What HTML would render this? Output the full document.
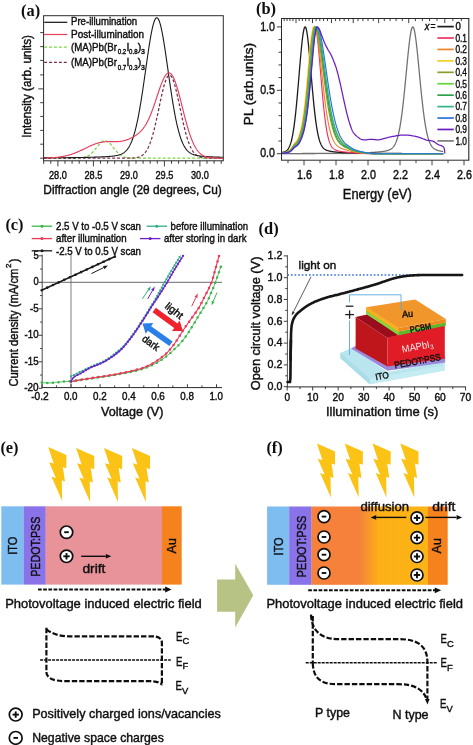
<!DOCTYPE html>
<html lang="en">
<head>
<meta charset="utf-8">
<title>Figure</title>
<style>
html,body{margin:0;padding:0;background:#fff;}
body{width:473px;height:745px;overflow:hidden;}
svg{display:block;font-family:"Liberation Sans", sans-serif;}
svg text{stroke:#111;stroke-width:0.42px;}
svg text.w{stroke:none;}
</style>
</head>
<body>
<svg width="473" height="745" viewBox="0 0 473 745">
<defs>
<linearGradient id="gf" x1="0" y1="0" x2="1" y2="0">
<stop offset="0" stop-color="#f5813a"/>
<stop offset="0.41" stop-color="#f5813a"/>
<stop offset="0.58" stop-color="#fcb017"/>
<stop offset="1" stop-color="#fdb414"/>
</linearGradient>
<filter id="soft" x="-5%" y="-5%" width="110%" height="110%"><feGaussianBlur stdDeviation="0.5"/></filter>
<filter id="soft2" x="-5%" y="-5%" width="110%" height="110%"><feGaussianBlur stdDeviation="0.28"/></filter>
</defs>
<rect x="0" y="0" width="473" height="745" fill="#ffffff"/>
<g fill="#111">
<g filter="url(#soft)">
<g id="pa">
<clipPath id="clipa"><rect x="43.6" y="15.7" width="179.70000000000002" height="145.10000000000002"/></clipPath>
<g clip-path="url(#clipa)">
<path d="M43.60 158.20 L44.10 158.20 L44.60 158.20 L45.10 158.20 L45.60 158.20 L46.10 158.20 L46.60 158.20 L47.10 158.20 L47.60 158.20 L48.10 158.20 L48.60 158.20 L49.10 158.20 L49.60 158.20 L50.10 158.20 L50.60 158.20 L51.10 158.20 L51.60 158.20 L52.10 158.20 L52.60 158.20 L53.10 158.20 L53.60 158.20 L54.10 158.20 L54.60 158.20 L55.10 158.20 L55.60 158.20 L56.10 158.20 L56.60 158.20 L57.10 158.20 L57.60 158.20 L58.10 158.20 L58.60 158.20 L59.10 158.20 L59.60 158.20 L60.10 158.20 L60.60 158.20 L61.10 158.20 L61.60 158.20 L62.10 158.20 L62.60 158.20 L63.10 158.20 L63.60 158.20 L64.10 158.20 L64.60 158.20 L65.10 158.20 L65.60 158.20 L66.10 158.20 L66.60 158.20 L67.10 158.20 L67.60 158.20 L68.10 158.20 L68.60 158.20 L69.10 158.20 L69.60 158.20 L70.10 158.20 L70.60 158.20 L71.10 158.19 L71.60 158.19 L72.10 158.19 L72.60 158.19 L73.10 158.19 L73.60 158.18 L74.10 158.18 L74.60 158.17 L75.10 158.17 L75.60 158.16 L76.10 158.15 L76.60 158.14 L77.10 158.13 L77.60 158.11 L78.10 158.10 L78.60 158.07 L79.10 158.05 L79.60 158.02 L80.10 157.98 L80.60 157.94 L81.10 157.89 L81.60 157.84 L82.10 157.77 L82.60 157.70 L83.10 157.62 L83.60 157.52 L84.10 157.41 L84.60 157.28 L85.10 157.14 L85.60 156.98 L86.10 156.81 L86.60 156.61 L87.10 156.39 L87.60 156.15 L88.10 155.89 L88.60 155.60 L89.10 155.28 L89.60 154.94 L90.10 154.57 L90.60 154.17 L91.10 153.75 L91.60 153.30 L92.10 152.82 L92.60 152.31 L93.10 151.78 L93.60 151.23 L94.10 150.66 L94.60 150.07 L95.10 149.46 L95.60 148.84 L96.10 148.22 L96.60 147.59 L97.10 146.95 L97.60 146.33 L98.10 145.71 L98.60 145.11 L99.10 144.53 L99.60 143.97 L100.10 143.44 L100.60 142.94 L101.10 142.49 L101.60 142.08 L102.10 141.71 L102.60 141.40 L103.10 141.14 L103.60 140.94 L104.10 140.80 L104.60 140.72 L105.10 140.70 L105.60 140.74 L106.10 140.85 L106.60 141.01 L107.10 141.24 L107.60 141.52 L108.10 141.85 L108.60 142.24 L109.10 142.67 L109.60 143.14 L110.10 143.65 L110.60 144.19 L111.10 144.76 L111.60 145.35 L112.10 145.96 L112.60 146.58 L113.10 147.21 L113.60 147.84 L114.10 148.47 L114.60 149.09 L115.10 149.71 L115.60 150.31 L116.10 150.89 L116.60 151.46 L117.10 152.00 L117.60 152.52 L118.10 153.01 L118.60 153.48 L119.10 153.92 L119.60 154.34 L120.10 154.72 L120.60 155.08 L121.10 155.41 L121.60 155.72 L122.10 156.00 L122.60 156.25 L123.10 156.48 L123.60 156.69 L124.10 156.88 L124.60 157.05 L125.10 157.20 L125.60 157.33 L126.10 157.45 L126.60 157.56 L127.10 157.65 L127.60 157.73 L128.10 157.80 L128.60 157.86 L129.10 157.91 L129.60 157.96 L130.10 158.00 L130.60 158.03 L131.10 158.06 L131.60 158.08 L132.10 158.10 L132.60 158.12 L133.10 158.13 L133.60 158.15 L134.10 158.16 L134.60 158.16 L135.10 158.17 L135.60 158.18 L136.10 158.18 L136.60 158.19 L137.10 158.19 L137.60 158.19 L138.10 158.19 L138.60 158.19 L139.10 158.20 L139.60 158.20 L140.10 158.20 L140.60 158.20 L141.10 158.20 L141.60 158.20 L142.10 158.20 L142.60 158.20 L143.10 158.20 L143.60 158.20 L144.10 158.20 L144.60 158.20 L145.10 158.20 L145.60 158.20 L146.10 158.20 L146.60 158.20 L147.10 158.20 L147.60 158.20 L148.10 158.20 L148.60 158.20 L149.10 158.20 L149.60 158.20 L150.10 158.20 L150.60 158.20 L151.10 158.20 L151.60 158.20 L152.10 158.20 L152.60 158.20 L153.10 158.20 L153.60 158.20 L154.10 158.20 L154.60 158.20 L155.10 158.20 L155.60 158.20 L156.10 158.20 L156.60 158.20 L157.10 158.20 L157.60 158.20 L158.10 158.20 L158.60 158.20 L159.10 158.20 L159.60 158.20 L160.10 158.20 L160.60 158.20 L161.10 158.20 L161.60 158.20 L162.10 158.20 L162.60 158.20 L163.10 158.20 L163.60 158.20 L164.10 158.20 L164.60 158.20 L165.10 158.20 L165.60 158.20 L166.10 158.20 L166.60 158.20 L167.10 158.20 L167.60 158.20 L168.10 158.20 L168.60 158.20 L169.10 158.20 L169.60 158.20 L170.10 158.20 L170.60 158.20 L171.10 158.20 L171.60 158.20 L172.10 158.20 L172.60 158.20 L173.10 158.20 L173.60 158.20 L174.10 158.20 L174.60 158.20 L175.10 158.20 L175.60 158.20 L176.10 158.20 L176.60 158.20 L177.10 158.20 L177.60 158.20 L178.10 158.20 L178.60 158.20 L179.10 158.20 L179.60 158.20 L180.10 158.20 L180.60 158.20 L181.10 158.20 L181.60 158.20 L182.10 158.20 L182.60 158.20 L183.10 158.20 L183.60 158.20 L184.10 158.20 L184.60 158.20 L185.10 158.20 L185.60 158.20 L186.10 158.20 L186.60 158.20 L187.10 158.20 L187.60 158.20 L188.10 158.20 L188.60 158.20 L189.10 158.20 L189.60 158.20 L190.10 158.20 L190.60 158.20 L191.10 158.20 L191.60 158.20 L192.10 158.20 L192.60 158.20 L193.10 158.20 L193.60 158.20 L194.10 158.20 L194.60 158.20 L195.10 158.20 L195.60 158.20 L196.10 158.20 L196.60 158.20 L197.10 158.20 L197.60 158.20 L198.10 158.20 L198.60 158.20 L199.10 158.20 L199.60 158.20 L200.10 158.20 L200.60 158.20 L201.10 158.20 L201.60 158.20 L202.10 158.20 L202.60 158.20 L203.10 158.20 L203.60 158.20 L204.10 158.20 L204.60 158.20 L205.10 158.20 L205.60 158.20 L206.10 158.20 L206.60 158.20 L207.10 158.20 L207.60 158.20 L208.10 158.20 L208.60 158.20 L209.10 158.20 L209.60 158.20 L210.10 158.20 L210.60 158.20 L211.10 158.20 L211.60 158.20 L212.10 158.20 L212.60 158.20 L213.10 158.20 L213.60 158.20 L214.10 158.20 L214.60 158.20 L215.10 158.20 L215.60 158.20 L216.10 158.20 L216.60 158.20 L217.10 158.20 L217.60 158.20 L218.10 158.20 L218.60 158.20 L219.10 158.20 L219.60 158.20 L220.10 158.20 L220.60 158.20 L221.10 158.20 L221.60 158.20 L222.10 158.20 L222.60 158.20 L223.10 158.20" fill="none" stroke="#7ad63c" stroke-width="1.25" stroke-linejoin="round" stroke-dasharray="2.9 2"/>
<path d="M43.60 158.20 L44.10 158.20 L44.60 158.20 L45.10 158.20 L45.60 158.20 L46.10 158.20 L46.60 158.20 L47.10 158.20 L47.60 158.20 L48.10 158.20 L48.60 158.20 L49.10 158.20 L49.60 158.20 L50.10 158.20 L50.60 158.20 L51.10 158.20 L51.60 158.20 L52.10 158.20 L52.60 158.20 L53.10 158.20 L53.60 158.20 L54.10 158.20 L54.60 158.20 L55.10 158.20 L55.60 158.20 L56.10 158.20 L56.60 158.20 L57.10 158.20 L57.60 158.20 L58.10 158.20 L58.60 158.20 L59.10 158.20 L59.60 158.20 L60.10 158.20 L60.60 158.20 L61.10 158.20 L61.60 158.20 L62.10 158.20 L62.60 158.20 L63.10 158.20 L63.60 158.20 L64.10 158.20 L64.60 158.20 L65.10 158.20 L65.60 158.20 L66.10 158.20 L66.60 158.20 L67.10 158.20 L67.60 158.20 L68.10 158.20 L68.60 158.20 L69.10 158.20 L69.60 158.20 L70.10 158.20 L70.60 158.20 L71.10 158.20 L71.60 158.20 L72.10 158.20 L72.60 158.20 L73.10 158.20 L73.60 158.20 L74.10 158.20 L74.60 158.20 L75.10 158.20 L75.60 158.20 L76.10 158.20 L76.60 158.20 L77.10 158.20 L77.60 158.20 L78.10 158.20 L78.60 158.20 L79.10 158.20 L79.60 158.20 L80.10 158.20 L80.60 158.20 L81.10 158.20 L81.60 158.20 L82.10 158.20 L82.60 158.20 L83.10 158.20 L83.60 158.20 L84.10 158.20 L84.60 158.20 L85.10 158.20 L85.60 158.20 L86.10 158.20 L86.60 158.20 L87.10 158.20 L87.60 158.20 L88.10 158.20 L88.60 158.20 L89.10 158.20 L89.60 158.20 L90.10 158.20 L90.60 158.20 L91.10 158.20 L91.60 158.20 L92.10 158.20 L92.60 158.20 L93.10 158.20 L93.60 158.20 L94.10 158.20 L94.60 158.20 L95.10 158.20 L95.60 158.20 L96.10 158.20 L96.60 158.20 L97.10 158.20 L97.60 158.20 L98.10 158.20 L98.60 158.20 L99.10 158.20 L99.60 158.20 L100.10 158.20 L100.60 158.20 L101.10 158.20 L101.60 158.20 L102.10 158.20 L102.60 158.20 L103.10 158.20 L103.60 158.20 L104.10 158.20 L104.60 158.20 L105.10 158.20 L105.60 158.20 L106.10 158.20 L106.60 158.20 L107.10 158.20 L107.60 158.20 L108.10 158.20 L108.60 158.20 L109.10 158.20 L109.60 158.20 L110.10 158.20 L110.60 158.20 L111.10 158.20 L111.60 158.20 L112.10 158.20 L112.60 158.20 L113.10 158.20 L113.60 158.20 L114.10 158.20 L114.60 158.20 L115.10 158.20 L115.60 158.20 L116.10 158.20 L116.60 158.20 L117.10 158.20 L117.60 158.20 L118.10 158.20 L118.60 158.20 L119.10 158.20 L119.60 158.20 L120.10 158.20 L120.60 158.20 L121.10 158.20 L121.60 158.20 L122.10 158.20 L122.60 158.20 L123.10 158.20 L123.60 158.19 L124.10 158.19 L124.60 158.19 L125.10 158.19 L125.60 158.19 L126.10 158.18 L126.60 158.18 L127.10 158.18 L127.60 158.17 L128.10 158.17 L128.60 158.16 L129.10 158.15 L129.60 158.14 L130.10 158.13 L130.60 158.11 L131.10 158.10 L131.60 158.08 L132.10 158.05 L132.60 158.03 L133.10 158.00 L133.60 157.96 L134.10 157.92 L134.60 157.87 L135.10 157.81 L135.60 157.75 L136.10 157.67 L136.60 157.59 L137.10 157.49 L137.60 157.38 L138.10 157.25 L138.60 157.11 L139.10 156.94 L139.60 156.76 L140.10 156.55 L140.60 156.32 L141.10 156.06 L141.60 155.77 L142.10 155.44 L142.60 155.08 L143.10 154.68 L143.60 154.24 L144.10 153.75 L144.60 153.21 L145.10 152.62 L145.60 151.98 L146.10 151.27 L146.60 150.51 L147.10 149.67 L147.60 148.77 L148.10 147.80 L148.60 146.75 L149.10 145.63 L149.60 144.42 L150.10 143.14 L150.60 141.77 L151.10 140.32 L151.60 138.79 L152.10 137.17 L152.60 135.47 L153.10 133.69 L153.60 131.83 L154.10 129.89 L154.60 127.87 L155.10 125.79 L155.60 123.64 L156.10 121.44 L156.60 119.18 L157.10 116.87 L157.60 114.53 L158.10 112.16 L158.60 109.77 L159.10 107.38 L159.60 104.98 L160.10 102.60 L160.60 100.25 L161.10 97.93 L161.60 95.66 L162.10 93.45 L162.60 91.32 L163.10 89.27 L163.60 87.32 L164.10 85.48 L164.60 83.76 L165.10 82.18 L165.60 80.73 L166.10 79.44 L166.60 78.31 L167.10 77.34 L167.60 76.55 L168.10 75.93 L168.60 75.50 L169.10 75.26 L169.60 75.20 L170.10 75.34 L170.60 75.65 L171.10 76.16 L171.60 76.84 L172.10 77.71 L172.60 78.74 L173.10 79.94 L173.60 81.29 L174.10 82.79 L174.60 84.44 L175.10 86.20 L175.60 88.09 L176.10 90.08 L176.60 92.16 L177.10 94.33 L177.60 96.56 L178.10 98.85 L178.60 101.19 L179.10 103.55 L179.60 105.94 L180.10 108.34 L180.60 110.73 L181.10 113.11 L181.60 115.47 L182.10 117.80 L182.60 120.09 L183.10 122.33 L183.60 124.51 L184.10 126.63 L184.60 128.69 L185.10 130.67 L185.60 132.58 L186.10 134.41 L186.60 136.16 L187.10 137.83 L187.60 139.41 L188.10 140.91 L188.60 142.33 L189.10 143.66 L189.60 144.92 L190.10 146.09 L190.60 147.18 L191.10 148.20 L191.60 149.14 L192.10 150.01 L192.60 150.82 L193.10 151.56 L193.60 152.24 L194.10 152.86 L194.60 153.43 L195.10 153.95 L195.60 154.42 L196.10 154.85 L196.60 155.23 L197.10 155.58 L197.60 155.89 L198.10 156.17 L198.60 156.42 L199.10 156.64 L199.60 156.84 L200.10 157.01 L200.60 157.17 L201.10 157.30 L201.60 157.42 L202.10 157.53 L202.60 157.62 L203.10 157.70 L203.60 157.77 L204.10 157.84 L204.60 157.89 L205.10 157.94 L205.60 157.97 L206.10 158.01 L206.60 158.04 L207.10 158.06 L207.60 158.09 L208.10 158.10 L208.60 158.12 L209.10 158.13 L209.60 158.14 L210.10 158.15 L210.60 158.16 L211.10 158.17 L211.60 158.17 L212.10 158.18 L212.60 158.18 L213.10 158.19 L213.60 158.19 L214.10 158.19 L214.60 158.19 L215.10 158.19 L215.60 158.19 L216.10 158.20 L216.60 158.20 L217.10 158.20 L217.60 158.20 L218.10 158.20 L218.60 158.20 L219.10 158.20 L219.60 158.20 L220.10 158.20 L220.60 158.20 L221.10 158.20 L221.60 158.20 L222.10 158.20 L222.60 158.20 L223.10 158.20" fill="none" stroke="#7a2c4c" stroke-width="1.25" stroke-linejoin="round" stroke-dasharray="2.9 2"/>
<path d="M43.60 157.87 L44.10 157.87 L44.60 157.87 L45.10 157.86 L45.60 157.86 L46.10 157.86 L46.60 157.86 L47.10 157.85 L47.60 157.85 L48.10 157.85 L48.60 157.84 L49.10 157.84 L49.60 157.84 L50.10 157.83 L50.60 157.83 L51.10 157.83 L51.60 157.82 L52.10 157.82 L52.60 157.82 L53.10 157.81 L53.60 157.81 L54.10 157.80 L54.60 157.80 L55.10 157.80 L55.60 157.79 L56.10 157.79 L56.60 157.78 L57.10 157.78 L57.60 157.78 L58.10 157.77 L58.60 157.77 L59.10 157.76 L59.60 157.76 L60.10 157.75 L60.60 157.75 L61.10 157.75 L61.60 157.74 L62.10 157.74 L62.60 157.73 L63.10 157.73 L63.60 157.72 L64.10 157.72 L64.60 157.71 L65.10 157.71 L65.60 157.70 L66.10 157.70 L66.60 157.69 L67.10 157.68 L67.60 157.68 L68.10 157.67 L68.60 157.67 L69.10 157.66 L69.60 157.66 L70.10 157.65 L70.60 157.64 L71.10 157.64 L71.60 157.63 L72.10 157.62 L72.60 157.62 L73.10 157.61 L73.60 157.60 L74.10 157.60 L74.60 157.59 L75.10 157.58 L75.60 157.57 L76.10 157.57 L76.60 157.56 L77.10 157.55 L77.60 157.54 L78.10 157.53 L78.60 157.53 L79.10 157.52 L79.60 157.51 L80.10 157.50 L80.60 157.49 L81.10 157.48 L81.60 157.47 L82.10 157.46 L82.60 157.45 L83.10 157.44 L83.60 157.43 L84.10 157.42 L84.60 157.41 L85.10 157.40 L85.60 157.39 L86.10 157.38 L86.60 157.37 L87.10 157.36 L87.60 157.35 L88.10 157.33 L88.60 157.32 L89.10 157.31 L89.60 157.30 L90.10 157.28 L90.60 157.27 L91.10 157.26 L91.60 157.24 L92.10 157.23 L92.60 157.21 L93.10 157.20 L93.60 157.18 L94.10 157.17 L94.60 157.15 L95.10 157.14 L95.60 157.12 L96.10 157.10 L96.60 157.09 L97.10 157.07 L97.60 157.05 L98.10 157.03 L98.60 157.01 L99.10 156.99 L99.60 156.97 L100.10 156.95 L100.60 156.93 L101.10 156.91 L101.60 156.89 L102.10 156.86 L102.60 156.84 L103.10 156.81 L103.60 156.79 L104.10 156.76 L104.60 156.74 L105.10 156.71 L105.60 156.68 L106.10 156.65 L106.60 156.62 L107.10 156.59 L107.60 156.56 L108.10 156.52 L108.60 156.49 L109.10 156.45 L109.60 156.41 L110.10 156.37 L110.60 156.32 L111.10 156.28 L111.60 156.23 L112.10 156.18 L112.60 156.13 L113.10 156.07 L113.60 156.01 L114.10 155.94 L114.60 155.87 L115.10 155.80 L115.60 155.71 L116.10 155.63 L116.60 155.53 L117.10 155.43 L117.60 155.32 L118.10 155.20 L118.60 155.06 L119.10 154.92 L119.60 154.76 L120.10 154.59 L120.60 154.40 L121.10 154.20 L121.60 153.97 L122.10 153.72 L122.60 153.45 L123.10 153.16 L123.60 152.84 L124.10 152.49 L124.60 152.10 L125.10 151.68 L125.60 151.22 L126.10 150.72 L126.60 150.18 L127.10 149.59 L127.60 148.95 L128.10 148.25 L128.60 147.50 L129.10 146.68 L129.60 145.80 L130.10 144.85 L130.60 143.83 L131.10 142.73 L131.60 141.55 L132.10 140.29 L132.60 138.94 L133.10 137.50 L133.60 135.97 L134.10 134.34 L134.60 132.61 L135.10 130.78 L135.60 128.85 L136.10 126.81 L136.60 124.67 L137.10 122.41 L137.60 120.06 L138.10 117.59 L138.60 115.02 L139.10 112.35 L139.60 109.57 L140.10 106.70 L140.60 103.73 L141.10 100.68 L141.60 97.53 L142.10 94.31 L142.60 91.02 L143.10 87.66 L143.60 84.25 L144.10 80.79 L144.60 77.29 L145.10 73.77 L145.60 70.24 L146.10 66.70 L146.60 63.17 L147.10 59.67 L147.60 56.21 L148.10 52.80 L148.60 49.46 L149.10 46.20 L149.60 43.05 L150.10 40.01 L150.60 37.10 L151.10 34.34 L151.60 31.74 L152.10 29.32 L152.60 27.10 L153.10 25.09 L153.60 23.30 L154.10 21.74 L154.60 20.43 L155.10 19.38 L155.60 18.59 L156.10 18.07 L156.60 17.82 L157.10 17.85 L157.60 18.15 L158.10 18.73 L158.60 19.57 L159.10 20.68 L159.60 22.04 L160.10 23.64 L160.60 25.48 L161.10 27.53 L161.60 29.79 L162.10 32.25 L162.60 34.88 L163.10 37.67 L163.60 40.60 L164.10 43.67 L164.60 46.85 L165.10 50.12 L165.60 53.48 L166.10 56.90 L166.60 60.37 L167.10 63.88 L167.60 67.41 L168.10 70.94 L168.60 74.48 L169.10 77.99 L169.60 81.48 L170.10 84.93 L170.60 88.34 L171.10 91.68 L171.60 94.96 L172.10 98.17 L172.60 101.29 L173.10 104.33 L173.60 107.28 L174.10 110.14 L174.60 112.89 L175.10 115.55 L175.60 118.09 L176.10 120.54 L176.60 122.87 L177.10 125.10 L177.60 127.23 L178.10 129.24 L178.60 131.15 L179.10 132.96 L179.60 134.67 L180.10 136.28 L180.60 137.80 L181.10 139.22 L181.60 140.55 L182.10 141.79 L182.60 142.96 L183.10 144.04 L183.60 145.05 L184.10 145.98 L184.60 146.85 L185.10 147.65 L185.60 148.39 L186.10 149.08 L186.60 149.71 L187.10 150.29 L187.60 150.83 L188.10 151.32 L188.60 151.77 L189.10 152.18 L189.60 152.56 L190.10 152.90 L190.60 153.22 L191.10 153.51 L191.60 153.78 L192.10 154.02 L192.60 154.24 L193.10 154.44 L193.60 154.62 L194.10 154.79 L194.60 154.95 L195.10 155.09 L195.60 155.22 L196.10 155.34 L196.60 155.45 L197.10 155.55 L197.60 155.65 L198.10 155.73 L198.60 155.81 L199.10 155.89 L199.60 155.96 L200.10 156.02 L200.60 156.08 L201.10 156.14 L201.60 156.19 L202.10 156.24 L202.60 156.29 L203.10 156.33 L203.60 156.38 L204.10 156.42 L204.60 156.46 L205.10 156.49 L205.60 156.53 L206.10 156.56 L206.60 156.60 L207.10 156.63 L207.60 156.66 L208.10 156.69 L208.60 156.72 L209.10 156.74 L209.60 156.77 L210.10 156.79 L210.60 156.82 L211.10 156.84 L211.60 156.87 L212.10 156.89 L212.60 156.91 L213.10 156.93 L213.60 156.96 L214.10 156.98 L214.60 157.00 L215.10 157.02 L215.60 157.03 L216.10 157.05 L216.60 157.07 L217.10 157.09 L217.60 157.11 L218.10 157.12 L218.60 157.14 L219.10 157.16 L219.60 157.17 L220.10 157.19 L220.60 157.20 L221.10 157.22 L221.60 157.23 L222.10 157.25 L222.60 157.26 L223.10 157.27" fill="none" stroke="#1a1a1a" stroke-width="1.1" stroke-linejoin="round" />
<path d="M43.60 158.06 L44.10 158.04 L44.60 158.03 L45.10 158.02 L45.60 158.01 L46.10 157.99 L46.60 157.97 L47.10 157.96 L47.60 157.94 L48.10 157.92 L48.60 157.90 L49.10 157.88 L49.60 157.85 L50.10 157.83 L50.60 157.80 L51.10 157.78 L51.60 157.75 L52.10 157.72 L52.60 157.68 L53.10 157.65 L53.60 157.61 L54.10 157.57 L54.60 157.53 L55.10 157.49 L55.60 157.44 L56.10 157.39 L56.60 157.34 L57.10 157.29 L57.60 157.24 L58.10 157.18 L58.60 157.12 L59.10 157.05 L59.60 156.98 L60.10 156.91 L60.60 156.84 L61.10 156.76 L61.60 156.68 L62.10 156.60 L62.60 156.51 L63.10 156.42 L63.60 156.32 L64.10 156.22 L64.60 156.12 L65.10 156.01 L65.60 155.90 L66.10 155.79 L66.60 155.67 L67.10 155.54 L67.60 155.42 L68.10 155.28 L68.60 155.15 L69.10 155.01 L69.60 154.86 L70.10 154.71 L70.60 154.55 L71.10 154.40 L71.60 154.23 L72.10 154.06 L72.60 153.89 L73.10 153.72 L73.60 153.53 L74.10 153.35 L74.60 153.16 L75.10 152.97 L75.60 152.77 L76.10 152.57 L76.60 152.36 L77.10 152.15 L77.60 151.94 L78.10 151.72 L78.60 151.50 L79.10 151.28 L79.60 151.06 L80.10 150.83 L80.60 150.60 L81.10 150.36 L81.60 150.13 L82.10 149.89 L82.60 149.65 L83.10 149.41 L83.60 149.17 L84.10 148.93 L84.60 148.69 L85.10 148.44 L85.60 148.20 L86.10 147.96 L86.60 147.72 L87.10 147.48 L87.60 147.24 L88.10 147.00 L88.60 146.76 L89.10 146.53 L89.60 146.30 L90.10 146.07 L90.60 145.84 L91.10 145.62 L91.60 145.40 L92.10 145.19 L92.60 144.98 L93.10 144.77 L93.60 144.57 L94.10 144.38 L94.60 144.19 L95.10 144.01 L95.60 143.83 L96.10 143.66 L96.60 143.49 L97.10 143.34 L97.60 143.19 L98.10 143.04 L98.60 142.90 L99.10 142.77 L99.60 142.65 L100.10 142.54 L100.60 142.43 L101.10 142.33 L101.60 142.24 L102.10 142.15 L102.60 142.08 L103.10 142.00 L103.60 141.94 L104.10 141.88 L104.60 141.83 L105.10 141.79 L105.60 141.75 L106.10 141.72 L106.60 141.70 L107.10 141.68 L107.60 141.66 L108.10 141.65 L108.60 141.64 L109.10 141.64 L109.60 141.64 L110.10 141.64 L110.60 141.65 L111.10 141.65 L111.60 141.66 L112.10 141.67 L112.60 141.68 L113.10 141.68 L113.60 141.69 L114.10 141.69 L114.60 141.70 L115.10 141.69 L115.60 141.69 L116.10 141.68 L116.60 141.67 L117.10 141.65 L117.60 141.63 L118.10 141.60 L118.60 141.56 L119.10 141.52 L119.60 141.47 L120.10 141.42 L120.60 141.35 L121.10 141.28 L121.60 141.20 L122.10 141.11 L122.60 141.01 L123.10 140.90 L123.60 140.79 L124.10 140.67 L124.60 140.53 L125.10 140.39 L125.60 140.24 L126.10 140.08 L126.60 139.91 L127.10 139.74 L127.60 139.55 L128.10 139.36 L128.60 139.16 L129.10 138.95 L129.60 138.73 L130.10 138.51 L130.60 138.28 L131.10 138.04 L131.60 137.79 L132.10 137.53 L132.60 137.27 L133.10 136.99 L133.60 136.71 L134.10 136.42 L134.60 136.12 L135.10 135.80 L135.60 135.48 L136.10 135.15 L136.60 134.80 L137.10 134.44 L137.60 134.07 L138.10 133.67 L138.60 133.27 L139.10 132.84 L139.60 132.40 L140.10 131.93 L140.60 131.44 L141.10 130.93 L141.60 130.39 L142.10 129.82 L142.60 129.23 L143.10 128.60 L143.60 127.94 L144.10 127.25 L144.60 126.53 L145.10 125.76 L145.60 124.96 L146.10 124.13 L146.60 123.25 L147.10 122.33 L147.60 121.37 L148.10 120.36 L148.60 119.32 L149.10 118.23 L149.60 117.11 L150.10 115.94 L150.60 114.73 L151.10 113.48 L151.60 112.19 L152.10 110.87 L152.60 109.51 L153.10 108.12 L153.60 106.70 L154.10 105.26 L154.60 103.79 L155.10 102.31 L155.60 100.81 L156.10 99.30 L156.60 97.78 L157.10 96.26 L157.60 94.74 L158.10 93.23 L158.60 91.73 L159.10 90.26 L159.60 88.81 L160.10 87.38 L160.60 86.00 L161.10 84.65 L161.60 83.35 L162.10 82.11 L162.60 80.92 L163.10 79.80 L163.60 78.75 L164.10 77.76 L164.60 76.86 L165.10 76.04 L165.60 75.31 L166.10 74.67 L166.60 74.13 L167.10 73.68 L167.60 73.33 L168.10 73.09 L168.60 72.95 L169.10 72.92 L169.60 72.99 L170.10 73.18 L170.60 73.50 L171.10 73.93 L171.60 74.48 L172.10 75.15 L172.60 75.93 L173.10 76.82 L173.60 77.82 L174.10 78.93 L174.60 80.14 L175.10 81.44 L175.60 82.83 L176.10 84.31 L176.60 85.87 L177.10 87.50 L177.60 89.19 L178.10 90.95 L178.60 92.76 L179.10 94.61 L179.60 96.51 L180.10 98.44 L180.60 100.40 L181.10 102.38 L181.60 104.37 L182.10 106.37 L182.60 108.37 L183.10 110.36 L183.60 112.35 L184.10 114.32 L184.60 116.27 L185.10 118.19 L185.60 120.08 L186.10 121.94 L186.60 123.76 L187.10 125.54 L187.60 127.27 L188.10 128.96 L188.60 130.59 L189.10 132.18 L189.60 133.71 L190.10 135.18 L190.60 136.60 L191.10 137.97 L191.60 139.27 L192.10 140.52 L192.60 141.71 L193.10 142.85 L193.60 143.92 L194.10 144.95 L194.60 145.91 L195.10 146.83 L195.60 147.69 L196.10 148.50 L196.60 149.27 L197.10 149.98 L197.60 150.65 L198.10 151.28 L198.60 151.86 L199.10 152.40 L199.60 152.91 L200.10 153.38 L200.60 153.81 L201.10 154.21 L201.60 154.58 L202.10 154.92 L202.60 155.23 L203.10 155.52 L203.60 155.78 L204.10 156.02 L204.60 156.24 L205.10 156.44 L205.60 156.63 L206.10 156.79 L206.60 156.94 L207.10 157.08 L207.60 157.20 L208.10 157.31 L208.60 157.41 L209.10 157.50 L209.60 157.58 L210.10 157.65 L210.60 157.72 L211.10 157.77 L211.60 157.82 L212.10 157.87 L212.60 157.91 L213.10 157.95 L213.60 157.98 L214.10 158.01 L214.60 158.03 L215.10 158.05 L215.60 158.07 L216.10 158.09 L216.60 158.10 L217.10 158.12 L217.60 158.13 L218.10 158.14 L218.60 158.15 L219.10 158.15 L219.60 158.16 L220.10 158.17 L220.60 158.17 L221.10 158.18 L221.60 158.18 L222.10 158.18 L222.60 158.18 L223.10 158.19" fill="none" stroke="#e6405c" stroke-width="1.15" stroke-linejoin="round" />
</g>
<rect x="43.6" y="15.7" width="179.70" height="145.10" fill="none" stroke="#2a2a2a" stroke-width="1"/>
<line x1="40.20" y1="32.60" x2="43.60" y2="32.60" stroke="#2a2a2a" stroke-width="0.9" />
<line x1="40.20" y1="46.60" x2="43.60" y2="46.60" stroke="#2a2a2a" stroke-width="0.9" />
<line x1="40.20" y1="60.40" x2="43.60" y2="60.40" stroke="#2a2a2a" stroke-width="0.9" />
<line x1="40.20" y1="74.90" x2="43.60" y2="74.90" stroke="#2a2a2a" stroke-width="0.9" />
<line x1="38.30" y1="88.90" x2="43.60" y2="88.90" stroke="#2a2a2a" stroke-width="0.9" />
<line x1="40.20" y1="102.70" x2="43.60" y2="102.70" stroke="#2a2a2a" stroke-width="0.9" />
<line x1="40.20" y1="116.40" x2="43.60" y2="116.40" stroke="#2a2a2a" stroke-width="0.9" />
<line x1="40.20" y1="130.40" x2="43.60" y2="130.40" stroke="#2a2a2a" stroke-width="0.9" />
<line x1="40.20" y1="144.20" x2="43.60" y2="144.20" stroke="#2a2a2a" stroke-width="0.9" />
<line x1="40.20" y1="158.20" x2="43.60" y2="158.20" stroke="#2a2a2a" stroke-width="0.9" />
<line x1="43.70" y1="160.80" x2="43.70" y2="163.80" stroke="#2a2a2a" stroke-width="0.9" />
<line x1="50.80" y1="160.80" x2="50.80" y2="163.80" stroke="#2a2a2a" stroke-width="0.9" />
<line x1="57.90" y1="160.80" x2="57.90" y2="166.40" stroke="#2a2a2a" stroke-width="0.9" />
<line x1="65.00" y1="160.80" x2="65.00" y2="163.80" stroke="#2a2a2a" stroke-width="0.9" />
<line x1="72.10" y1="160.80" x2="72.10" y2="163.80" stroke="#2a2a2a" stroke-width="0.9" />
<line x1="79.20" y1="160.80" x2="79.20" y2="163.80" stroke="#2a2a2a" stroke-width="0.9" />
<line x1="86.30" y1="160.80" x2="86.30" y2="163.80" stroke="#2a2a2a" stroke-width="0.9" />
<line x1="93.40" y1="160.80" x2="93.40" y2="166.40" stroke="#2a2a2a" stroke-width="0.9" />
<line x1="100.50" y1="160.80" x2="100.50" y2="163.80" stroke="#2a2a2a" stroke-width="0.9" />
<line x1="107.60" y1="160.80" x2="107.60" y2="163.80" stroke="#2a2a2a" stroke-width="0.9" />
<line x1="114.70" y1="160.80" x2="114.70" y2="163.80" stroke="#2a2a2a" stroke-width="0.9" />
<line x1="121.80" y1="160.80" x2="121.80" y2="163.80" stroke="#2a2a2a" stroke-width="0.9" />
<line x1="128.90" y1="160.80" x2="128.90" y2="166.40" stroke="#2a2a2a" stroke-width="0.9" />
<line x1="136.00" y1="160.80" x2="136.00" y2="163.80" stroke="#2a2a2a" stroke-width="0.9" />
<line x1="143.10" y1="160.80" x2="143.10" y2="163.80" stroke="#2a2a2a" stroke-width="0.9" />
<line x1="150.20" y1="160.80" x2="150.20" y2="163.80" stroke="#2a2a2a" stroke-width="0.9" />
<line x1="157.30" y1="160.80" x2="157.30" y2="163.80" stroke="#2a2a2a" stroke-width="0.9" />
<line x1="164.40" y1="160.80" x2="164.40" y2="166.40" stroke="#2a2a2a" stroke-width="0.9" />
<line x1="171.50" y1="160.80" x2="171.50" y2="163.80" stroke="#2a2a2a" stroke-width="0.9" />
<line x1="178.60" y1="160.80" x2="178.60" y2="163.80" stroke="#2a2a2a" stroke-width="0.9" />
<line x1="185.70" y1="160.80" x2="185.70" y2="163.80" stroke="#2a2a2a" stroke-width="0.9" />
<line x1="192.80" y1="160.80" x2="192.80" y2="163.80" stroke="#2a2a2a" stroke-width="0.9" />
<line x1="199.90" y1="160.80" x2="199.90" y2="166.40" stroke="#2a2a2a" stroke-width="0.9" />
<line x1="207.00" y1="160.80" x2="207.00" y2="163.80" stroke="#2a2a2a" stroke-width="0.9" />
<line x1="214.10" y1="160.80" x2="214.10" y2="163.80" stroke="#2a2a2a" stroke-width="0.9" />
<line x1="221.20" y1="160.80" x2="221.20" y2="163.80" stroke="#2a2a2a" stroke-width="0.9" />
<text x="57.90" y="178.90" font-size="10.6" text-anchor="middle" textLength="17.80" lengthAdjust="spacingAndGlyphs" >28.0</text>
<text x="93.40" y="178.90" font-size="10.6" text-anchor="middle" textLength="17.80" lengthAdjust="spacingAndGlyphs" >28.5</text>
<text x="128.90" y="178.90" font-size="10.6" text-anchor="middle" textLength="17.80" lengthAdjust="spacingAndGlyphs" >29.0</text>
<text x="164.40" y="178.90" font-size="10.6" text-anchor="middle" textLength="17.80" lengthAdjust="spacingAndGlyphs" >29.5</text>
<text x="199.90" y="178.90" font-size="10.6" text-anchor="middle" textLength="17.80" lengthAdjust="spacingAndGlyphs" >30.0</text>
<text x="43.30" y="194.40" font-size="12.4" textLength="178.50" lengthAdjust="spacingAndGlyphs" >Diffraction angle (2θ degrees, Cu)</text>
<text x="31.40" y="137.70" font-size="12.4" textLength="102.70" lengthAdjust="spacingAndGlyphs" transform="rotate(-90 31.40 137.70)" >Intensity (arb. units)</text>
<text x="21.00" y="15.60" font-size="16.4" font-weight="bold" font-family='"Liberation Serif", serif' class="w">(a)</text>
<line x1="44.20" y1="22.30" x2="67.30" y2="22.30" stroke="#1a1a1a" stroke-width="1.25" />
<line x1="44.20" y1="34.50" x2="67.30" y2="34.50" stroke="#e6405c" stroke-width="1.25" />
<line x1="44.20" y1="47.00" x2="67.30" y2="47.00" stroke="#7ad63c" stroke-width="1.25" stroke-dasharray="2.9 2"/>
<line x1="44.20" y1="62.40" x2="67.30" y2="62.40" stroke="#7a2c4c" stroke-width="1.25" stroke-dasharray="2.9 2"/>
<text x="71.00" y="25.20" font-size="10.6" textLength="66.20" lengthAdjust="spacingAndGlyphs" >Pre-illumination</text>
<text x="71.00" y="37.50" font-size="10.6" textLength="73.00" lengthAdjust="spacingAndGlyphs" >Post-illumination</text>
<text x="71.00" y="50.50" font-size="10.6" textLength="45.90" lengthAdjust="spacingAndGlyphs" >(MA)Pb(Br</text>
<text x="117.70" y="54.20" font-size="7.0" textLength="8.60" lengthAdjust="spacingAndGlyphs" >0.2</text>
<text x="126.60" y="50.50" font-size="10.6" >I</text>
<text x="129.10" y="54.20" font-size="7.0" textLength="8.40" lengthAdjust="spacingAndGlyphs" >0.8</text>
<text x="137.70" y="50.50" font-size="10.6" >)</text>
<text x="140.90" y="54.20" font-size="7.0" >3</text>
<text x="71.00" y="65.80" font-size="10.6" textLength="45.90" lengthAdjust="spacingAndGlyphs" >(MA)Pb(Br</text>
<text x="117.70" y="69.50" font-size="7.0" textLength="8.60" lengthAdjust="spacingAndGlyphs" >0.7</text>
<text x="126.60" y="65.80" font-size="10.6" >I</text>
<text x="129.10" y="69.50" font-size="7.0" textLength="8.40" lengthAdjust="spacingAndGlyphs" >0.3</text>
<text x="137.70" y="65.80" font-size="10.6" >)</text>
<text x="140.90" y="69.50" font-size="7.0" >3</text>
</g>
<g id="pb">
<clipPath id="clipb"><rect x="281.5" y="18.5" width="191.5" height="141.7"/></clipPath>
<g clip-path="url(#clipb)">
<line x1="281.50" y1="153.70" x2="443.20" y2="153.70" stroke="#b0b0b0" stroke-width="1.0" />
<path d="M281.60 153.58 L281.92 153.57 L282.24 153.57 L282.56 153.57 L282.88 153.57 L283.20 153.57 L283.52 153.57 L283.84 153.57 L284.16 153.57 L284.48 153.57 L284.80 153.57 L285.12 153.57 L285.44 153.57 L285.76 153.57 L286.08 153.57 L286.40 153.57 L286.72 153.57 L287.04 153.56 L287.36 153.56 L287.68 153.56 L288.00 153.56 L288.32 153.56 L288.64 153.56 L288.96 153.56 L289.28 153.56 L289.60 153.56 L289.92 153.56 L290.24 153.56 L290.56 153.56 L290.88 153.56 L291.20 153.56 L291.52 153.55 L291.84 153.55 L292.16 153.55 L292.48 153.55 L292.80 153.55 L293.12 153.55 L293.44 153.55 L293.76 153.55 L294.08 153.55 L294.40 153.55 L294.72 153.55 L295.04 153.55 L295.36 153.54 L295.68 153.54 L296.00 153.54 L296.32 153.54 L296.64 153.54 L296.96 153.54 L297.28 153.54 L297.60 153.54 L297.92 153.54 L298.24 153.54 L298.56 153.54 L298.88 153.54 L299.20 153.53 L299.52 153.53 L299.84 153.53 L300.16 153.53 L300.48 153.53 L300.80 153.53 L301.12 153.53 L301.44 153.53 L301.76 153.53 L302.08 153.53 L302.40 153.52 L302.72 153.52 L303.04 153.52 L303.36 153.52 L303.68 153.52 L304.00 153.52 L304.32 153.52 L304.64 153.52 L304.96 153.52 L305.28 153.51 L305.60 153.51 L305.92 153.51 L306.24 153.51 L306.56 153.51 L306.88 153.51 L307.20 153.51 L307.52 153.51 L307.84 153.51 L308.16 153.50 L308.48 153.50 L308.80 153.50 L309.12 153.50 L309.44 153.50 L309.76 153.50 L310.08 153.50 L310.40 153.50 L310.72 153.49 L311.04 153.49 L311.36 153.49 L311.68 153.49 L312.00 153.49 L312.32 153.49 L312.64 153.49 L312.96 153.49 L313.28 153.48 L313.60 153.48 L313.92 153.48 L314.24 153.48 L314.56 153.48 L314.88 153.48 L315.20 153.48 L315.52 153.47 L315.84 153.47 L316.16 153.47 L316.48 153.47 L316.80 153.47 L317.12 153.47 L317.44 153.47 L317.76 153.46 L318.08 153.46 L318.40 153.46 L318.72 153.46 L319.04 153.46 L319.36 153.46 L319.68 153.45 L320.00 153.45 L320.32 153.45 L320.64 153.45 L320.96 153.45 L321.28 153.45 L321.60 153.44 L321.92 153.44 L322.24 153.44 L322.56 153.44 L322.88 153.44 L323.20 153.43 L323.52 153.43 L323.84 153.43 L324.16 153.43 L324.48 153.43 L324.80 153.42 L325.12 153.42 L325.44 153.42 L325.76 153.42 L326.08 153.42 L326.40 153.41 L326.72 153.41 L327.04 153.41 L327.36 153.41 L327.68 153.41 L328.00 153.40 L328.32 153.40 L328.64 153.40 L328.96 153.40 L329.28 153.39 L329.60 153.39 L329.92 153.39 L330.24 153.39 L330.56 153.38 L330.88 153.38 L331.20 153.38 L331.52 153.38 L331.84 153.37 L332.16 153.37 L332.48 153.37 L332.80 153.37 L333.12 153.36 L333.44 153.36 L333.76 153.36 L334.08 153.36 L334.40 153.35 L334.72 153.35 L335.04 153.35 L335.36 153.35 L335.68 153.34 L336.00 153.34 L336.32 153.34 L336.64 153.33 L336.96 153.33 L337.28 153.33 L337.60 153.32 L337.92 153.32 L338.24 153.32 L338.56 153.31 L338.88 153.31 L339.20 153.31 L339.52 153.30 L339.84 153.30 L340.16 153.30 L340.48 153.29 L340.80 153.29 L341.12 153.29 L341.44 153.28 L341.76 153.28 L342.08 153.28 L342.40 153.27 L342.72 153.27 L343.04 153.26 L343.36 153.26 L343.68 153.26 L344.00 153.25 L344.32 153.25 L344.64 153.24 L344.96 153.24 L345.28 153.23 L345.60 153.23 L345.92 153.23 L346.24 153.22 L346.56 153.22 L346.88 153.21 L347.20 153.21 L347.52 153.20 L347.84 153.20 L348.16 153.19 L348.48 153.19 L348.80 153.18 L349.12 153.18 L349.44 153.17 L349.76 153.17 L350.08 153.16 L350.40 153.16 L350.72 153.15 L351.04 153.15 L351.36 153.14 L351.68 153.13 L352.00 153.13 L352.32 153.12 L352.64 153.12 L352.96 153.11 L353.28 153.10 L353.60 153.10 L353.92 153.09 L354.24 153.08 L354.56 153.08 L354.88 153.07 L355.20 153.06 L355.52 153.06 L355.84 153.05 L356.16 153.04 L356.48 153.04 L356.80 153.03 L357.12 153.02 L357.44 153.01 L357.76 153.01 L358.08 153.00 L358.40 152.99 L358.72 152.98 L359.04 152.97 L359.36 152.96 L359.68 152.96 L360.00 152.95 L360.32 152.94 L360.64 152.93 L360.96 152.92 L361.28 152.91 L361.60 152.90 L361.92 152.89 L362.24 152.88 L362.56 152.87 L362.88 152.86 L363.20 152.85 L363.52 152.84 L363.84 152.83 L364.16 152.82 L364.48 152.80 L364.80 152.79 L365.12 152.78 L365.44 152.77 L365.76 152.76 L366.08 152.74 L366.40 152.73 L366.72 152.72 L367.04 152.70 L367.36 152.69 L367.68 152.68 L368.00 152.66 L368.32 152.65 L368.64 152.63 L368.96 152.62 L369.28 152.60 L369.60 152.59 L369.92 152.57 L370.24 152.55 L370.56 152.54 L370.88 152.52 L371.20 152.50 L371.52 152.49 L371.84 152.47 L372.16 152.45 L372.48 152.43 L372.80 152.41 L373.12 152.39 L373.44 152.37 L373.76 152.35 L374.08 152.33 L374.40 152.30 L374.72 152.28 L375.04 152.26 L375.36 152.24 L375.68 152.21 L376.00 152.19 L376.32 152.16 L376.64 152.14 L376.96 152.11 L377.28 152.08 L377.60 152.05 L377.92 152.02 L378.24 151.99 L378.56 151.96 L378.88 151.93 L379.20 151.90 L379.52 151.87 L379.84 151.83 L380.16 151.80 L380.48 151.76 L380.80 151.73 L381.12 151.69 L381.44 151.65 L381.76 151.61 L382.08 151.57 L382.40 151.52 L382.72 151.48 L383.04 151.43 L383.36 151.38 L383.68 151.33 L384.00 151.28 L384.32 151.23 L384.64 151.17 L384.96 151.11 L385.28 151.05 L385.60 150.99 L385.92 150.92 L386.24 150.85 L386.56 150.77 L386.88 150.69 L387.20 150.61 L387.52 150.52 L387.84 150.42 L388.16 150.32 L388.48 150.21 L388.80 150.09 L389.12 149.97 L389.44 149.83 L389.76 149.68 L390.08 149.53 L390.40 149.35 L390.72 149.17 L391.04 148.97 L391.36 148.75 L391.68 148.51 L392.00 148.25 L392.32 147.97 L392.64 147.66 L392.96 147.33 L393.28 146.96 L393.60 146.56 L393.92 146.13 L394.24 145.66 L394.56 145.14 L394.88 144.58 L395.20 143.97 L395.52 143.32 L395.84 142.60 L396.16 141.83 L396.48 140.99 L396.80 140.09 L397.12 139.11 L397.44 138.06 L397.76 136.93 L398.08 135.72 L398.40 134.43 L398.72 133.05 L399.04 131.57 L399.36 130.00 L399.68 128.33 L400.00 126.56 L400.32 124.68 L400.64 122.71 L400.96 120.62 L401.28 118.43 L401.60 116.14 L401.92 113.74 L402.24 111.24 L402.56 108.64 L402.88 105.93 L403.20 103.13 L403.52 100.25 L403.84 97.27 L404.16 94.22 L404.48 91.09 L404.80 87.90 L405.12 84.66 L405.44 81.36 L405.76 78.04 L406.08 74.69 L406.40 71.33 L406.72 67.97 L407.04 64.63 L407.36 61.32 L407.68 58.06 L408.00 54.86 L408.32 51.75 L408.64 48.74 L408.96 45.85 L409.28 43.09 L409.60 40.49 L409.92 38.07 L410.24 35.84 L410.56 33.83 L410.88 32.04 L411.20 30.50 L411.52 29.22 L411.84 28.22 L412.16 27.49 L412.48 27.05 L412.80 26.90 L413.12 27.05 L413.44 27.49 L413.76 28.22 L414.08 29.22 L414.40 30.50 L414.72 32.04 L415.04 33.83 L415.36 35.84 L415.68 38.07 L416.00 40.49 L416.32 43.09 L416.64 45.85 L416.96 48.74 L417.28 51.75 L417.60 54.86 L417.92 58.06 L418.24 61.32 L418.56 64.63 L418.88 67.97 L419.20 71.33 L419.52 74.69 L419.84 78.04 L420.16 81.36 L420.48 84.66 L420.80 87.90 L421.12 91.09 L421.44 94.22 L421.76 97.27 L422.08 100.25 L422.40 103.13 L422.72 105.93 L423.04 108.64 L423.36 111.24 L423.68 113.74 L424.00 116.14 L424.32 118.43 L424.64 120.62 L424.96 122.71 L425.28 124.68 L425.60 126.56 L425.92 128.33 L426.24 130.00 L426.56 131.57 L426.88 133.05 L427.20 134.43 L427.52 135.72 L427.84 136.93 L428.16 138.06 L428.48 139.11 L428.80 140.09 L429.12 140.99 L429.44 141.83 L429.76 142.60 L430.08 143.32 L430.40 143.97 L430.72 144.58 L431.04 145.14 L431.36 145.66 L431.68 146.13 L432.00 146.56 L432.32 146.96 L432.64 147.33 L432.96 147.66 L433.28 147.97 L433.60 148.25 L433.92 148.51 L434.24 148.75 L434.56 148.97 L434.88 149.17 L435.20 149.35 L435.52 149.53 L435.84 149.68 L436.16 149.83 L436.48 149.97 L436.80 150.09 L437.12 150.21 L437.44 150.32 L437.76 150.42 L438.08 150.52 L438.40 150.61 L438.72 150.69 L439.04 150.77 L439.36 150.85 L439.68 150.92 L440.00 150.99 L440.32 151.05 L440.64 151.11 L440.96 151.17 L441.28 151.23 L441.60 151.28 L441.92 151.33 L442.24 151.38 L442.56 151.43 L442.88 151.48 L443.20 151.52" fill="none" stroke="#727272" stroke-width="1.3" stroke-linejoin="round" />
<path d="M281.60 152.48 L281.92 152.43 L282.24 152.38 L282.56 152.32 L282.88 152.25 L283.20 152.18 L283.52 152.10 L283.84 152.01 L284.16 151.91 L284.48 151.79 L284.80 151.66 L285.12 151.52 L285.44 151.36 L285.76 151.18 L286.08 150.97 L286.40 150.74 L286.72 150.48 L287.04 150.19 L287.36 149.86 L287.68 149.49 L288.00 149.08 L288.32 148.62 L288.64 148.11 L288.96 147.54 L289.28 146.91 L289.60 146.21 L289.92 145.44 L290.24 144.58 L290.56 143.64 L290.88 142.61 L291.20 141.49 L291.52 140.25 L291.84 138.91 L292.16 137.46 L292.48 135.88 L292.80 134.18 L293.12 132.35 L293.44 130.38 L293.76 128.28 L294.08 126.04 L294.40 123.66 L294.72 121.13 L295.04 118.47 L295.36 115.66 L295.68 112.72 L296.00 109.64 L296.32 106.44 L296.64 103.12 L296.96 99.68 L297.28 96.14 L297.60 92.52 L297.92 88.81 L298.24 85.04 L298.56 81.22 L298.88 77.37 L299.20 73.51 L299.52 69.65 L299.84 65.83 L300.16 62.05 L300.48 58.35 L300.80 54.75 L301.12 51.26 L301.44 47.92 L301.76 44.74 L302.08 41.76 L302.40 39.00 L302.72 36.47 L303.04 34.20 L303.36 32.20 L303.68 30.51 L304.00 29.12 L304.32 28.07 L304.64 27.34 L304.96 26.96 L305.28 26.93 L305.60 27.26 L305.92 27.95 L306.24 29.00 L306.56 30.39 L306.88 32.10 L307.20 34.12 L307.52 36.43 L307.84 38.99 L308.16 41.79 L308.48 44.80 L308.80 47.99 L309.12 51.34 L309.44 54.81 L309.76 58.40 L310.08 62.06 L310.40 65.78 L310.72 69.53 L311.04 73.30 L311.36 77.07 L311.68 80.81 L312.00 84.50 L312.32 88.15 L312.64 91.72 L312.96 95.21 L313.28 98.61 L313.60 101.90 L313.92 105.09 L314.24 108.15 L314.56 111.10 L314.88 113.91 L315.20 116.60 L315.52 119.15 L315.84 121.57 L316.16 123.86 L316.48 126.01 L316.80 128.04 L317.12 129.93 L317.44 131.71 L317.76 133.36 L318.08 134.90 L318.40 136.32 L318.72 137.64 L319.04 138.86 L319.36 139.98 L319.68 141.01 L320.00 141.96 L320.32 142.83 L320.64 143.62 L320.96 144.34 L321.28 145.00 L321.60 145.60 L321.92 146.14 L322.24 146.64 L322.56 147.09 L322.88 147.50 L323.20 147.87 L323.52 148.20 L323.84 148.51 L324.16 148.79 L324.48 149.04 L324.80 149.27 L325.12 149.47 L325.44 149.66 L325.76 149.84 L326.08 150.00 L326.40 150.14 L326.72 150.28 L327.04 150.40 L327.36 150.51 L327.68 150.62 L328.00 150.72 L328.32 150.81 L328.64 150.90 L328.96 150.98 L329.28 151.05 L329.60 151.13 L329.92 151.19 L330.24 151.26 L330.56 151.32 L330.88 151.38 L331.20 151.43 L331.52 151.49 L331.84 151.54 L332.16 151.59 L332.48 151.64 L332.80 151.68 L333.12 151.72 L333.44 151.77 L333.76 151.81 L334.08 151.85 L334.40 151.89 L334.72 151.92 L335.04 151.96 L335.36 151.99 L335.68 152.03 L336.00 152.06 L336.32 152.09 L336.64 152.12 L336.96 152.15 L337.28 152.18 L337.60 152.21 L337.92 152.24 L338.24 152.27 L338.56 152.29 L338.88 152.32 L339.20 152.34 L339.52 152.37 L339.84 152.39 L340.16 152.41 L340.48 152.43 L340.80 152.46 L341.12 152.48 L341.44 152.50 L341.76 152.52 L342.08 152.54 L342.40 152.56 L342.72 152.58 L343.04 152.59 L343.36 152.61 L343.68 152.63 L344.00 152.65 L344.32 152.66 L344.64 152.68 L344.96 152.69 L345.28 152.71 L345.60 152.72 L345.92 152.74 L346.24 152.75 L346.56 152.77 L346.88 152.78 L347.20 152.80 L347.52 152.81 L347.84 152.82 L348.16 152.83 L348.48 152.85 L348.80 152.86 L349.12 152.87 L349.44 152.88 L349.76 152.89 L350.08 152.90 L350.40 152.92 L350.72 152.93 L351.04 152.94 L351.36 152.95 L351.68 152.96 L352.00 152.97 L352.32 152.98 L352.64 152.99 L352.96 153.00 L353.28 153.00 L353.60 153.01 L353.92 153.02 L354.24 153.03 L354.56 153.04 L354.88 153.05 L355.20 153.06 L355.52 153.06 L355.84 153.07 L356.16 153.08 L356.48 153.09 L356.80 153.09 L357.12 153.10 L357.44 153.11 L357.76 153.12 L358.08 153.12 L358.40 153.13 L358.72 153.14 L359.04 153.14 L359.36 153.15 L359.68 153.16 L360.00 153.16 L360.32 153.17 L360.64 153.17 L360.96 153.18 L361.28 153.19 L361.60 153.19 L361.92 153.20 L362.24 153.20 L362.56 153.21 L362.88 153.21 L363.20 153.22 L363.52 153.22 L363.84 153.23 L364.16 153.23 L364.48 153.24 L364.80 153.24 L365.12 153.25 L365.44 153.25 L365.76 153.26 L366.08 153.26 L366.40 153.27 L366.72 153.27 L367.04 153.28 L367.36 153.28 L367.68 153.28 L368.00 153.29 L368.32 153.29 L368.64 153.30 L368.96 153.30 L369.28 153.30 L369.60 153.31 L369.92 153.31 L370.24 153.32 L370.56 153.32 L370.88 153.32 L371.20 153.33 L371.52 153.33 L371.84 153.33 L372.16 153.34 L372.48 153.34 L372.80 153.34 L373.12 153.35 L373.44 153.35 L373.76 153.35 L374.08 153.36 L374.40 153.36 L374.72 153.36 L375.04 153.37 L375.36 153.37 L375.68 153.37 L376.00 153.38 L376.32 153.38 L376.64 153.38 L376.96 153.38 L377.28 153.39 L377.60 153.39 L377.92 153.39 L378.24 153.39 L378.56 153.40 L378.88 153.40 L379.20 153.40 L379.52 153.40 L379.84 153.41 L380.16 153.41 L380.48 153.41 L380.80 153.41 L381.12 153.42 L381.44 153.42 L381.76 153.42 L382.08 153.42 L382.40 153.43 L382.72 153.43 L383.04 153.43 L383.36 153.43 L383.68 153.44 L384.00 153.44 L384.32 153.44 L384.64 153.44 L384.96 153.44 L385.28 153.45 L385.60 153.45 L385.92 153.45 L386.24 153.45 L386.56 153.45 L386.88 153.46 L387.20 153.46 L387.52 153.46 L387.84 153.46 L388.16 153.46 L388.48 153.46 L388.80 153.47 L389.12 153.47 L389.44 153.47 L389.76 153.47 L390.08 153.47 L390.40 153.47 L390.72 153.48 L391.04 153.48 L391.36 153.48 L391.68 153.48 L392.00 153.48 L392.32 153.48 L392.64 153.49 L392.96 153.49 L393.28 153.49 L393.60 153.49 L393.92 153.49 L394.24 153.49 L394.56 153.50 L394.88 153.50 L395.20 153.50 L395.52 153.50 L395.84 153.50 L396.16 153.50 L396.48 153.50 L396.80 153.50 L397.12 153.51 L397.44 153.51 L397.76 153.51 L398.08 153.51 L398.40 153.51 L398.72 153.51 L399.04 153.51 L399.36 153.52 L399.68 153.52 L400.00 153.52 L400.32 153.52 L400.64 153.52 L400.96 153.52 L401.28 153.52 L401.60 153.52 L401.92 153.52 L402.24 153.53 L402.56 153.53 L402.88 153.53 L403.20 153.53 L403.52 153.53 L403.84 153.53 L404.16 153.53 L404.48 153.53 L404.80 153.53 L405.12 153.54 L405.44 153.54 L405.76 153.54 L406.08 153.54 L406.40 153.54 L406.72 153.54 L407.04 153.54 L407.36 153.54 L407.68 153.54 L408.00 153.54 L408.32 153.55 L408.64 153.55 L408.96 153.55 L409.28 153.55 L409.60 153.55 L409.92 153.55 L410.24 153.55 L410.56 153.55 L410.88 153.55 L411.20 153.55 L411.52 153.55 L411.84 153.56 L412.16 153.56 L412.48 153.56 L412.80 153.56 L413.12 153.56 L413.44 153.56 L413.76 153.56 L414.08 153.56 L414.40 153.56 L414.72 153.56 L415.04 153.56 L415.36 153.56 L415.68 153.57 L416.00 153.57 L416.32 153.57 L416.64 153.57 L416.96 153.57 L417.28 153.57 L417.60 153.57 L417.92 153.57 L418.24 153.57 L418.56 153.57 L418.88 153.57 L419.20 153.57 L419.52 153.57 L419.84 153.58 L420.16 153.58 L420.48 153.58 L420.80 153.58 L421.12 153.58 L421.44 153.58 L421.76 153.58 L422.08 153.58 L422.40 153.58 L422.72 153.58 L423.04 153.58 L423.36 153.58 L423.68 153.58 L424.00 153.58 L424.32 153.58 L424.64 153.58 L424.96 153.59 L425.28 153.59 L425.60 153.59 L425.92 153.59 L426.24 153.59 L426.56 153.59 L426.88 153.59 L427.20 153.59 L427.52 153.59 L427.84 153.59 L428.16 153.59 L428.48 153.59 L428.80 153.59 L429.12 153.59 L429.44 153.59 L429.76 153.59 L430.08 153.59 L430.40 153.60 L430.72 153.60 L431.04 153.60 L431.36 153.60 L431.68 153.60 L432.00 153.60 L432.32 153.60 L432.64 153.60 L432.96 153.60 L433.28 153.60 L433.60 153.60 L433.92 153.60 L434.24 153.60 L434.56 153.60 L434.88 153.60 L435.20 153.60 L435.52 153.60 L435.84 153.60 L436.16 153.60 L436.48 153.60 L436.80 153.61 L437.12 153.61 L437.44 153.61 L437.76 153.61 L438.08 153.61 L438.40 153.61 L438.72 153.61 L439.04 153.61 L439.36 153.61 L439.68 153.61 L440.00 153.61 L440.32 153.61 L440.64 153.61 L440.96 153.61 L441.28 153.61 L441.60 153.61 L441.92 153.61 L442.24 153.61 L442.56 153.61 L442.88 153.61 L443.20 153.61" fill="none" stroke="#1c1c1c" stroke-width="1.3" stroke-linejoin="round" />
<path d="M281.60 153.11 L281.92 153.06 L282.24 153.00 L282.56 152.95 L282.88 152.88 L283.20 152.82 L283.52 152.74 L283.84 152.67 L284.16 152.59 L284.48 152.50 L284.80 152.40 L285.12 152.31 L285.44 152.20 L285.76 152.09 L286.08 151.97 L286.40 151.84 L286.72 151.71 L287.04 151.56 L287.36 151.41 L287.68 151.25 L288.00 151.08 L288.32 150.90 L288.64 150.70 L288.96 150.49 L289.28 150.27 L289.60 150.03 L289.92 149.77 L290.24 149.48 L290.56 149.16 L290.88 148.82 L291.20 148.45 L291.52 148.04 L291.84 147.60 L292.16 147.14 L292.48 146.65 L292.80 146.15 L293.12 145.64 L293.44 145.14 L293.76 144.64 L294.08 144.16 L294.40 143.71 L294.72 143.27 L295.04 142.86 L295.36 142.46 L295.68 142.06 L296.00 141.66 L296.32 141.24 L296.64 140.79 L296.96 140.30 L297.28 139.76 L297.60 139.18 L297.92 138.53 L298.24 137.82 L298.56 137.05 L298.88 136.22 L299.20 135.31 L299.52 134.34 L299.84 133.30 L300.16 132.18 L300.48 130.98 L300.80 129.70 L301.12 128.33 L301.44 126.86 L301.76 125.30 L302.08 123.63 L302.40 121.86 L302.72 119.97 L303.04 117.96 L303.36 115.82 L303.68 113.56 L304.00 111.17 L304.32 108.65 L304.64 106.00 L304.96 103.21 L305.28 100.30 L305.60 97.27 L305.92 94.12 L306.24 90.86 L306.56 87.51 L306.88 84.06 L307.20 80.54 L307.52 76.96 L307.84 73.34 L308.16 69.70 L308.48 66.06 L308.80 62.44 L309.12 58.86 L309.44 55.35 L309.76 51.94 L310.08 48.65 L310.40 45.50 L310.72 42.52 L311.04 39.74 L311.36 37.18 L311.68 34.87 L312.00 32.81 L312.32 31.04 L312.64 29.57 L312.96 28.41 L313.28 27.57 L313.60 27.07 L313.92 26.90 L314.24 26.97 L314.56 27.16 L314.88 27.49 L315.20 27.95 L315.52 28.53 L315.84 29.23 L316.16 30.06 L316.48 31.00 L316.80 32.05 L317.12 33.21 L317.44 34.47 L317.76 35.83 L318.08 37.27 L318.40 38.80 L318.72 40.41 L319.04 42.09 L319.36 43.84 L319.68 45.64 L320.00 47.50 L320.32 49.41 L320.64 51.36 L320.96 53.34 L321.28 55.36 L321.60 57.40 L321.92 59.47 L322.24 61.55 L322.56 63.65 L322.88 65.75 L323.20 67.85 L323.52 69.96 L323.84 72.06 L324.16 74.15 L324.48 76.24 L324.80 78.31 L325.12 80.36 L325.44 82.40 L325.76 84.41 L326.08 86.40 L326.40 88.36 L326.72 90.30 L327.04 92.21 L327.36 94.08 L327.68 95.92 L328.00 97.73 L328.32 99.51 L328.64 101.25 L328.96 102.95 L329.28 104.61 L329.60 106.24 L329.92 107.82 L330.24 109.37 L330.56 110.87 L330.88 112.34 L331.20 113.77 L331.52 115.15 L331.84 116.50 L332.16 117.80 L332.48 119.07 L332.80 120.29 L333.12 121.48 L333.44 122.63 L333.76 123.74 L334.08 124.81 L334.40 125.85 L334.72 126.84 L335.04 127.80 L335.36 128.73 L335.68 129.62 L336.00 130.48 L336.32 131.31 L336.64 132.10 L336.96 132.86 L337.28 133.59 L337.60 134.29 L337.92 134.97 L338.24 135.61 L338.56 136.23 L338.88 136.82 L339.20 137.39 L339.52 137.93 L339.84 138.45 L340.16 138.94 L340.48 139.42 L340.80 139.87 L341.12 140.31 L341.44 140.72 L341.76 141.12 L342.08 141.49 L342.40 141.86 L342.72 142.20 L343.04 142.53 L343.36 142.85 L343.68 143.15 L344.00 143.43 L344.32 143.71 L344.64 143.97 L344.96 144.22 L345.28 144.46 L345.60 144.69 L345.92 144.91 L346.24 145.23 L346.56 145.53 L346.88 145.83 L347.20 146.10 L347.52 146.37 L347.84 146.62 L348.16 146.87 L348.48 147.10 L348.80 147.33 L349.12 147.55 L349.44 147.75 L349.76 147.95 L350.08 148.15 L350.40 148.33 L350.72 148.51 L351.04 148.68 L351.36 148.85 L351.68 149.01 L352.00 149.17 L352.32 149.32 L352.64 149.46 L352.96 149.60 L353.28 149.74 L353.60 149.87 L353.92 150.00 L354.24 150.13 L354.56 150.25 L354.88 150.36 L355.20 150.48 L355.52 150.59 L355.84 150.69 L356.16 150.80 L356.48 150.90 L356.80 151.00 L357.12 151.10 L357.44 151.19 L357.76 151.28 L358.08 151.37 L358.40 151.46 L358.72 151.54 L359.04 151.62 L359.36 151.70 L359.68 151.78 L360.00 151.86 L360.32 151.93 L360.64 152.00 L360.96 152.07 L361.28 152.14 L361.60 152.21 L361.92 152.28 L362.24 152.34 L362.56 152.41 L362.88 152.47 L363.20 152.53 L363.52 152.59 L363.84 152.64 L364.16 152.70 L364.48 152.75 L364.80 152.81 L365.12 152.86 L365.44 152.91 L365.76 152.96 L366.08 153.01 L366.40 153.06 L366.72 153.11 L367.04 153.15 L367.36 153.20 L367.68 153.24 L368.00 153.28 L368.32 153.33 L368.64 153.37 L368.96 153.41 L369.28 153.45 L369.60 153.49 L369.92 153.52 L370.24 153.56 L370.56 153.60 L370.88 153.63 L371.20 153.67 L371.52 153.70 L371.84 153.70 L372.16 153.70 L372.48 153.70 L372.80 153.70 L373.12 153.70 L373.44 153.70 L373.76 153.70 L374.08 153.70 L374.40 153.70 L374.72 153.70 L375.04 153.70 L375.36 153.70 L375.68 153.70 L376.00 153.70 L376.32 153.70 L376.64 153.70 L376.96 153.70 L377.28 153.70 L377.60 153.70 L377.92 153.70 L378.24 153.70 L378.56 153.70 L378.88 153.70 L379.20 153.70 L379.52 153.70 L379.84 153.70 L380.16 153.70 L380.48 153.70 L380.80 153.70 L381.12 153.70 L381.44 153.70 L381.76 153.70 L382.08 153.70 L382.40 153.70 L382.72 153.70 L383.04 153.70 L383.36 153.70 L383.68 153.70 L384.00 153.70 L384.32 153.70 L384.64 153.70 L384.96 153.70 L385.28 153.70 L385.60 153.70 L385.92 153.70 L386.24 153.70 L386.56 153.70 L386.88 153.70 L387.20 153.70 L387.52 153.70 L387.84 153.70 L388.16 153.70 L388.48 153.70 L388.80 153.70 L389.12 153.70 L389.44 153.70 L389.76 153.70 L390.08 153.70 L390.40 153.70 L390.72 153.70 L391.04 153.70 L391.36 153.70 L391.68 153.70 L392.00 153.70 L392.32 153.70 L392.64 153.70 L392.96 153.70 L393.28 153.70 L393.60 153.70 L393.92 153.70 L394.24 153.70 L394.56 153.70 L394.88 153.70 L395.20 153.70 L395.52 153.70 L395.84 153.70 L396.16 153.70 L396.48 153.70 L396.80 153.70 L397.12 153.70 L397.44 153.70 L397.76 153.70 L398.08 153.70 L398.40 153.70 L398.72 153.70 L399.04 153.70 L399.36 153.70 L399.68 153.70 L400.00 153.70 L400.32 153.70 L400.64 153.70 L400.96 153.70 L401.28 153.70 L401.60 153.70 L401.92 153.70 L402.24 153.70 L402.56 153.70 L402.88 153.70 L403.20 153.70 L403.52 153.70 L403.84 153.70 L404.16 153.70 L404.48 153.70 L404.80 153.70 L405.12 153.70 L405.44 153.70 L405.76 153.70 L406.08 153.70 L406.40 153.70 L406.72 153.70 L407.04 153.70 L407.36 153.70 L407.68 153.70 L408.00 153.70 L408.32 153.70 L408.64 153.70 L408.96 153.70 L409.28 153.70 L409.60 153.70 L409.92 153.70 L410.24 153.70 L410.56 153.70 L410.88 153.70 L411.20 153.70 L411.52 153.70 L411.84 153.70 L412.16 153.70 L412.48 153.70 L412.80 153.70 L413.12 153.70 L413.44 153.70 L413.76 153.70 L414.08 153.70 L414.40 153.70 L414.72 153.70 L415.04 153.70 L415.36 153.70 L415.68 153.70 L416.00 153.70 L416.32 153.70 L416.64 153.70 L416.96 153.70 L417.28 153.70 L417.60 153.70 L417.92 153.70 L418.24 153.70 L418.56 153.70 L418.88 153.70 L419.20 153.70 L419.52 153.70 L419.84 153.70 L420.16 153.70 L420.48 153.70 L420.80 153.70 L421.12 153.70 L421.44 153.70 L421.76 153.70 L422.08 153.70 L422.40 153.70 L422.72 153.70 L423.04 153.70 L423.36 153.70 L423.68 153.70 L424.00 153.70 L424.32 153.70 L424.64 153.70 L424.96 153.70 L425.28 153.70 L425.60 153.70 L425.92 153.70 L426.24 153.70 L426.56 153.70 L426.88 153.70 L427.20 153.70 L427.52 153.70 L427.84 153.70 L428.16 153.70 L428.48 153.70 L428.80 153.70 L429.12 153.70 L429.44 153.70 L429.76 153.70 L430.08 153.70 L430.40 153.70 L430.72 153.70 L431.04 153.70 L431.36 153.70 L431.68 153.70 L432.00 153.70 L432.32 153.70 L432.64 153.70 L432.96 153.70 L433.28 153.70 L433.60 153.70 L433.92 153.70 L434.24 153.70 L434.56 153.70 L434.88 153.70 L435.20 153.70 L435.52 153.70 L435.84 153.70 L436.16 153.70 L436.48 153.70 L436.80 153.70 L437.12 153.70 L437.44 153.70 L437.76 153.70 L438.08 153.70 L438.40 153.70 L438.72 153.70 L439.04 153.70 L439.36 153.70 L439.68 153.70 L440.00 153.70 L440.32 153.70 L440.64 153.70 L440.96 153.70 L441.28 153.70 L441.60 153.70 L441.92 153.70 L442.24 153.70 L442.56 153.70 L442.88 153.70 L443.20 153.70 L443.20 153.70" fill="none" stroke="#f0d020" stroke-width="1.15" stroke-linejoin="round" />
<path d="M281.60 153.24 L281.92 153.20 L282.24 153.16 L282.56 153.11 L282.88 153.06 L283.20 153.00 L283.52 152.95 L283.84 152.88 L284.16 152.82 L284.48 152.74 L284.80 152.67 L285.12 152.59 L285.44 152.50 L285.76 152.40 L286.08 152.31 L286.40 152.20 L286.72 152.09 L287.04 151.97 L287.36 151.84 L287.68 151.70 L288.00 151.56 L288.32 151.40 L288.64 151.24 L288.96 151.06 L289.28 150.86 L289.60 150.65 L289.92 150.42 L290.24 150.17 L290.56 149.89 L290.88 149.58 L291.20 149.24 L291.52 148.88 L291.84 148.48 L292.16 148.05 L292.48 147.61 L292.80 147.15 L293.12 146.69 L293.44 146.23 L293.76 145.79 L294.08 145.36 L294.40 144.96 L294.72 144.58 L295.04 144.22 L295.36 143.89 L295.68 143.55 L296.00 143.22 L296.32 142.88 L296.64 142.51 L296.96 142.11 L297.28 141.67 L297.60 141.18 L297.92 140.64 L298.24 140.05 L298.56 139.41 L298.88 138.71 L299.20 137.96 L299.52 137.15 L299.84 136.29 L300.16 135.36 L300.48 134.37 L300.80 133.32 L301.12 132.19 L301.44 130.99 L301.76 129.70 L302.08 128.33 L302.40 126.86 L302.72 125.30 L303.04 123.63 L303.36 121.86 L303.68 119.97 L304.00 117.96 L304.32 115.82 L304.64 113.56 L304.96 111.17 L305.28 108.65 L305.60 106.00 L305.92 103.21 L306.24 100.30 L306.56 97.27 L306.88 94.12 L307.20 90.86 L307.52 87.51 L307.84 84.06 L308.16 80.54 L308.48 76.96 L308.80 73.34 L309.12 69.70 L309.44 66.06 L309.76 62.44 L310.08 58.86 L310.40 55.35 L310.72 51.94 L311.04 48.65 L311.36 45.50 L311.68 42.52 L312.00 39.74 L312.32 37.18 L312.64 34.87 L312.96 32.81 L313.28 31.04 L313.60 29.57 L313.92 28.41 L314.24 27.57 L314.56 27.07 L314.88 26.90 L315.20 27.09 L315.52 27.67 L315.84 28.62 L316.16 29.93 L316.48 31.59 L316.80 33.58 L317.12 35.87 L317.44 38.44 L317.76 41.26 L318.08 44.30 L318.40 47.53 L318.72 50.94 L319.04 54.48 L319.36 58.13 L319.68 61.87 L320.00 65.66 L320.32 69.50 L320.64 73.34 L320.96 77.18 L321.28 81.00 L321.60 84.76 L321.92 88.47 L322.24 92.11 L322.56 95.65 L322.88 99.10 L323.20 102.44 L323.52 105.66 L323.84 108.75 L324.16 111.72 L324.48 114.55 L324.80 117.25 L325.12 119.81 L325.44 122.23 L325.76 124.51 L326.08 126.66 L326.40 128.67 L326.72 130.55 L327.04 132.30 L327.36 133.93 L327.68 135.44 L328.00 136.84 L328.32 138.13 L328.64 139.32 L328.96 140.41 L329.28 141.42 L329.60 142.33 L329.92 143.17 L330.24 143.93 L330.56 144.63 L330.88 145.26 L331.20 145.83 L331.52 146.35 L331.84 146.83 L332.16 147.26 L332.48 147.64 L332.80 148.00 L333.12 148.31 L333.44 148.60 L333.76 148.87 L334.08 149.10 L334.40 149.32 L334.72 149.52 L335.04 149.70 L335.36 149.86 L335.68 150.02 L336.00 150.16 L336.32 150.28 L336.64 150.40 L336.96 150.51 L337.28 150.62 L337.60 150.71 L337.92 150.80 L338.24 150.89 L338.56 150.96 L338.88 151.04 L339.20 151.11 L339.52 151.18 L339.84 151.24 L340.16 151.30 L340.48 151.36 L340.80 151.42 L341.12 151.47 L341.44 151.52 L341.76 151.57 L342.08 151.62 L342.40 151.67 L342.72 151.71 L343.04 151.75 L343.36 151.79 L343.68 151.83 L344.00 151.87 L344.32 151.91 L344.64 151.95 L344.96 151.98 L345.28 152.02 L345.60 152.05 L345.92 152.08 L346.24 152.11 L346.56 152.14 L346.88 152.17 L347.20 152.22 L347.52 152.27 L347.84 152.31 L348.16 152.35 L348.48 152.40 L348.80 152.44 L349.12 152.48 L349.44 152.51 L349.76 152.55 L350.08 152.59 L350.40 152.62 L350.72 152.65 L351.04 152.69 L351.36 152.72 L351.68 152.75 L352.00 152.78 L352.32 152.81 L352.64 152.84 L352.96 152.87 L353.28 152.89 L353.60 152.92 L353.92 152.94 L354.24 152.97 L354.56 152.99 L354.88 153.02 L355.20 153.04 L355.52 153.06 L355.84 153.08 L356.16 153.10 L356.48 153.12 L356.80 153.14 L357.12 153.16 L357.44 153.18 L357.76 153.20 L358.08 153.22 L358.40 153.24 L358.72 153.25 L359.04 153.27 L359.36 153.29 L359.68 153.30 L360.00 153.32 L360.32 153.33 L360.64 153.35 L360.96 153.36 L361.28 153.37 L361.60 153.39 L361.92 153.40 L362.24 153.41 L362.56 153.43 L362.88 153.44 L363.20 153.45 L363.52 153.46 L363.84 153.47 L364.16 153.48 L364.48 153.50 L364.80 153.51 L365.12 153.52 L365.44 153.53 L365.76 153.54 L366.08 153.55 L366.40 153.56 L366.72 153.57 L367.04 153.57 L367.36 153.58 L367.68 153.59 L368.00 153.60 L368.32 153.61 L368.64 153.62 L368.96 153.62 L369.28 153.63 L369.60 153.64 L369.92 153.65 L370.24 153.65 L370.56 153.66 L370.88 153.67 L371.20 153.67 L371.52 153.68 L371.84 153.69 L372.16 153.69 L372.48 153.70 L372.80 153.70 L373.12 153.70 L373.44 153.70 L373.76 153.70 L374.08 153.70 L374.40 153.70 L374.72 153.70 L375.04 153.70 L375.36 153.70 L375.68 153.70 L376.00 153.70 L376.32 153.70 L376.64 153.70 L376.96 153.70 L377.28 153.70 L377.60 153.70 L377.92 153.70 L378.24 153.70 L378.56 153.70 L378.88 153.70 L379.20 153.70 L379.52 153.70 L379.84 153.70 L380.16 153.70 L380.48 153.70 L380.80 153.70 L381.12 153.70 L381.44 153.70 L381.76 153.70 L382.08 153.70 L382.40 153.70 L382.72 153.70 L383.04 153.70 L383.36 153.70 L383.68 153.70 L384.00 153.70 L384.32 153.70 L384.64 153.70 L384.96 153.70 L385.28 153.70 L385.60 153.70 L385.92 153.70 L386.24 153.70 L386.56 153.70 L386.88 153.70 L387.20 153.70 L387.52 153.70 L387.84 153.70 L388.16 153.70 L388.48 153.70 L388.80 153.70 L389.12 153.70 L389.44 153.70 L389.76 153.70 L390.08 153.70 L390.40 153.70 L390.72 153.70 L391.04 153.70 L391.36 153.70 L391.68 153.70 L392.00 153.70 L392.32 153.70 L392.64 153.70 L392.96 153.70 L393.28 153.70 L393.60 153.70 L393.92 153.70 L394.24 153.70 L394.56 153.70 L394.88 153.70 L395.20 153.70 L395.52 153.70 L395.84 153.70 L396.16 153.70 L396.48 153.70 L396.80 153.70 L397.12 153.70 L397.44 153.70 L397.76 153.70 L398.08 153.70 L398.40 153.70 L398.72 153.70 L399.04 153.70 L399.36 153.70 L399.68 153.70 L400.00 153.70 L400.32 153.70 L400.64 153.70 L400.96 153.70 L401.28 153.70 L401.60 153.70 L401.92 153.70 L402.24 153.70 L402.56 153.70 L402.88 153.70 L403.20 153.70 L403.52 153.70 L403.84 153.70 L404.16 153.70 L404.48 153.70 L404.80 153.70 L405.12 153.70 L405.44 153.70 L405.76 153.70 L406.08 153.70 L406.40 153.70 L406.72 153.70 L407.04 153.70 L407.36 153.70 L407.68 153.70 L408.00 153.70 L408.32 153.70 L408.64 153.70 L408.96 153.70 L409.28 153.70 L409.60 153.70 L409.92 153.70 L410.24 153.70 L410.56 153.70 L410.88 153.70 L411.20 153.70 L411.52 153.70 L411.84 153.70 L412.16 153.70 L412.48 153.70 L412.80 153.70 L413.12 153.70 L413.44 153.70 L413.76 153.70 L414.08 153.70 L414.40 153.70 L414.72 153.70 L415.04 153.70 L415.36 153.70 L415.68 153.70 L416.00 153.70 L416.32 153.70 L416.64 153.70 L416.96 153.70 L417.28 153.70 L417.60 153.70 L417.92 153.70 L418.24 153.70 L418.56 153.70 L418.88 153.70 L419.20 153.70 L419.52 153.70 L419.84 153.70 L420.16 153.70 L420.48 153.70 L420.80 153.70 L421.12 153.70 L421.44 153.70 L421.76 153.70 L422.08 153.70 L422.40 153.70 L422.72 153.70 L423.04 153.70 L423.36 153.70 L423.68 153.70 L424.00 153.70 L424.32 153.70 L424.64 153.70 L424.96 153.70 L425.28 153.70 L425.60 153.70 L425.92 153.70 L426.24 153.70 L426.56 153.70 L426.88 153.70 L427.20 153.70 L427.52 153.70 L427.84 153.70 L428.16 153.70 L428.48 153.70 L428.80 153.70 L429.12 153.70 L429.44 153.70 L429.76 153.70 L430.08 153.70 L430.40 153.70 L430.72 153.70 L431.04 153.70 L431.36 153.70 L431.68 153.70 L432.00 153.70 L432.32 153.70 L432.64 153.70 L432.96 153.70 L433.28 153.70 L433.60 153.70 L433.92 153.70 L434.24 153.70 L434.56 153.70 L434.88 153.70 L435.20 153.70 L435.52 153.70 L435.84 153.70 L436.16 153.70 L436.48 153.70 L436.80 153.70 L437.12 153.70 L437.44 153.70 L437.76 153.70 L438.08 153.70 L438.40 153.70 L438.72 153.70 L439.04 153.70 L439.36 153.70 L439.68 153.70 L440.00 153.70 L440.32 153.70 L440.64 153.70 L440.96 153.70 L441.28 153.70 L441.60 153.70 L441.92 153.70 L442.24 153.70 L442.56 153.70 L442.88 153.70 L443.20 153.70 L443.20 153.70" fill="none" stroke="#f03060" stroke-width="1.15" stroke-linejoin="round" />
<path d="M281.60 153.22 L281.92 153.18 L282.24 153.13 L282.56 153.08 L282.88 153.03 L283.20 152.97 L283.52 152.91 L283.84 152.85 L284.16 152.78 L284.48 152.71 L284.80 152.63 L285.12 152.54 L285.44 152.45 L285.76 152.36 L286.08 152.25 L286.40 152.14 L286.72 152.03 L287.04 151.90 L287.36 151.77 L287.68 151.63 L288.00 151.48 L288.32 151.32 L288.64 151.15 L288.96 150.97 L289.28 150.77 L289.60 150.56 L289.92 150.32 L290.24 150.06 L290.56 149.78 L290.88 149.46 L291.20 149.12 L291.52 148.74 L291.84 148.34 L292.16 147.91 L292.48 147.46 L292.80 146.99 L293.12 146.52 L293.44 146.06 L293.76 145.60 L294.08 145.17 L294.40 144.76 L294.72 144.37 L295.04 144.01 L295.36 143.66 L295.68 143.32 L296.00 142.98 L296.32 142.62 L296.64 142.24 L296.96 141.82 L297.28 141.37 L297.60 140.87 L297.92 140.31 L298.24 139.71 L298.56 139.04 L298.88 138.33 L299.20 137.55 L299.52 136.72 L299.84 135.83 L300.16 134.87 L300.48 133.85 L300.80 132.76 L301.12 131.60 L301.44 130.35 L301.76 129.03 L302.08 127.61 L302.40 126.10 L302.72 124.48 L303.04 122.76 L303.36 120.93 L303.68 118.98 L304.00 116.90 L304.32 114.71 L304.64 112.38 L304.96 109.93 L305.28 107.34 L305.60 104.62 L305.92 101.77 L306.24 98.80 L306.56 95.71 L306.88 92.51 L307.20 89.20 L307.52 85.79 L307.84 82.31 L308.16 78.76 L308.48 75.16 L308.80 71.52 L309.12 67.88 L309.44 64.24 L309.76 60.64 L310.08 57.09 L310.40 53.63 L310.72 50.27 L311.04 47.05 L311.36 43.99 L311.68 41.11 L312.00 38.43 L312.32 35.99 L312.64 33.81 L312.96 31.89 L313.28 30.27 L313.60 28.95 L313.92 27.95 L314.24 27.28 L314.56 26.94 L314.88 26.93 L315.20 27.20 L315.52 27.72 L315.84 28.50 L316.16 29.53 L316.48 30.79 L316.80 32.28 L317.12 33.99 L317.44 35.89 L317.76 37.97 L318.08 40.22 L318.40 42.62 L318.72 45.14 L319.04 47.79 L319.36 50.53 L319.68 53.36 L320.00 56.25 L320.32 59.19 L320.64 62.18 L320.96 65.19 L321.28 68.21 L321.60 71.24 L321.92 74.25 L322.24 77.25 L322.56 80.22 L322.88 83.16 L323.20 86.05 L323.52 88.90 L323.84 91.69 L324.16 94.41 L324.48 97.08 L324.80 99.67 L325.12 102.19 L325.44 104.63 L325.76 107.00 L326.08 109.28 L326.40 111.48 L326.72 113.60 L327.04 115.64 L327.36 117.59 L327.68 119.45 L328.00 121.24 L328.32 122.94 L328.64 124.56 L328.96 126.10 L329.28 127.57 L329.60 128.96 L329.92 130.27 L330.24 131.51 L330.56 132.69 L330.88 133.79 L331.20 134.83 L331.52 135.82 L331.84 136.74 L332.16 137.60 L332.48 138.41 L332.80 139.17 L333.12 139.89 L333.44 140.55 L333.76 141.18 L334.08 141.76 L334.40 142.31 L334.72 142.82 L335.04 143.29 L335.36 143.73 L335.68 144.15 L336.00 144.54 L336.32 144.90 L336.64 145.24 L336.96 145.55 L337.28 145.85 L337.60 146.13 L337.92 146.39 L338.24 146.63 L338.56 146.86 L338.88 147.07 L339.20 147.28 L339.52 147.47 L339.84 147.65 L340.16 147.82 L340.48 147.98 L340.80 148.13 L341.12 148.28 L341.44 148.41 L341.76 148.54 L342.08 148.67 L342.40 148.79 L342.72 148.90 L343.04 149.01 L343.36 149.11 L343.68 149.21 L344.00 149.31 L344.32 149.40 L344.64 149.49 L344.96 149.58 L345.28 149.66 L345.60 149.74 L345.92 149.82 L346.24 149.89 L346.56 149.97 L346.88 150.06 L347.20 150.17 L347.52 150.28 L347.84 150.39 L348.16 150.49 L348.48 150.59 L348.80 150.68 L349.12 150.78 L349.44 150.87 L349.76 150.96 L350.08 151.04 L350.40 151.12 L350.72 151.20 L351.04 151.28 L351.36 151.36 L351.68 151.43 L352.00 151.50 L352.32 151.57 L352.64 151.64 L352.96 151.70 L353.28 151.77 L353.60 151.83 L353.92 151.89 L354.24 151.95 L354.56 152.01 L354.88 152.06 L355.20 152.12 L355.52 152.17 L355.84 152.22 L356.16 152.27 L356.48 152.32 L356.80 152.37 L357.12 152.41 L357.44 152.46 L357.76 152.50 L358.08 152.54 L358.40 152.59 L358.72 152.63 L359.04 152.67 L359.36 152.71 L359.68 152.74 L360.00 152.78 L360.32 152.82 L360.64 152.85 L360.96 152.89 L361.28 152.92 L361.60 152.95 L361.92 152.98 L362.24 153.01 L362.56 153.04 L362.88 153.07 L363.20 153.10 L363.52 153.13 L363.84 153.16 L364.16 153.19 L364.48 153.21 L364.80 153.24 L365.12 153.26 L365.44 153.29 L365.76 153.31 L366.08 153.33 L366.40 153.36 L366.72 153.38 L367.04 153.40 L367.36 153.42 L367.68 153.44 L368.00 153.46 L368.32 153.48 L368.64 153.50 L368.96 153.52 L369.28 153.54 L369.60 153.56 L369.92 153.58 L370.24 153.60 L370.56 153.61 L370.88 153.63 L371.20 153.65 L371.52 153.66 L371.84 153.68 L372.16 153.69 L372.48 153.70 L372.80 153.70 L373.12 153.70 L373.44 153.70 L373.76 153.70 L374.08 153.70 L374.40 153.70 L374.72 153.70 L375.04 153.70 L375.36 153.70 L375.68 153.70 L376.00 153.70 L376.32 153.70 L376.64 153.70 L376.96 153.70 L377.28 153.70 L377.60 153.70 L377.92 153.70 L378.24 153.70 L378.56 153.70 L378.88 153.70 L379.20 153.70 L379.52 153.70 L379.84 153.70 L380.16 153.70 L380.48 153.70 L380.80 153.70 L381.12 153.70 L381.44 153.70 L381.76 153.70 L382.08 153.70 L382.40 153.70 L382.72 153.70 L383.04 153.70 L383.36 153.70 L383.68 153.70 L384.00 153.70 L384.32 153.70 L384.64 153.70 L384.96 153.70 L385.28 153.70 L385.60 153.70 L385.92 153.70 L386.24 153.70 L386.56 153.70 L386.88 153.70 L387.20 153.70 L387.52 153.70 L387.84 153.70 L388.16 153.70 L388.48 153.70 L388.80 153.70 L389.12 153.70 L389.44 153.70 L389.76 153.70 L390.08 153.70 L390.40 153.70 L390.72 153.70 L391.04 153.70 L391.36 153.70 L391.68 153.70 L392.00 153.70 L392.32 153.70 L392.64 153.70 L392.96 153.70 L393.28 153.70 L393.60 153.70 L393.92 153.70 L394.24 153.70 L394.56 153.70 L394.88 153.70 L395.20 153.70 L395.52 153.70 L395.84 153.70 L396.16 153.70 L396.48 153.70 L396.80 153.70 L397.12 153.70 L397.44 153.70 L397.76 153.70 L398.08 153.70 L398.40 153.70 L398.72 153.70 L399.04 153.70 L399.36 153.70 L399.68 153.70 L400.00 153.70 L400.32 153.70 L400.64 153.70 L400.96 153.70 L401.28 153.70 L401.60 153.70 L401.92 153.70 L402.24 153.70 L402.56 153.70 L402.88 153.70 L403.20 153.70 L403.52 153.70 L403.84 153.70 L404.16 153.70 L404.48 153.70 L404.80 153.70 L405.12 153.70 L405.44 153.70 L405.76 153.70 L406.08 153.70 L406.40 153.70 L406.72 153.70 L407.04 153.70 L407.36 153.70 L407.68 153.70 L408.00 153.70 L408.32 153.70 L408.64 153.70 L408.96 153.70 L409.28 153.70 L409.60 153.70 L409.92 153.70 L410.24 153.70 L410.56 153.70 L410.88 153.70 L411.20 153.70 L411.52 153.70 L411.84 153.70 L412.16 153.70 L412.48 153.70 L412.80 153.70 L413.12 153.70 L413.44 153.70 L413.76 153.70 L414.08 153.70 L414.40 153.70 L414.72 153.70 L415.04 153.70 L415.36 153.70 L415.68 153.70 L416.00 153.70 L416.32 153.70 L416.64 153.70 L416.96 153.70 L417.28 153.70 L417.60 153.70 L417.92 153.70 L418.24 153.70 L418.56 153.70 L418.88 153.70 L419.20 153.70 L419.52 153.70 L419.84 153.70 L420.16 153.70 L420.48 153.70 L420.80 153.70 L421.12 153.70 L421.44 153.70 L421.76 153.70 L422.08 153.70 L422.40 153.70 L422.72 153.70 L423.04 153.70 L423.36 153.70 L423.68 153.70 L424.00 153.70 L424.32 153.70 L424.64 153.70 L424.96 153.70 L425.28 153.70 L425.60 153.70 L425.92 153.70 L426.24 153.70 L426.56 153.70 L426.88 153.70 L427.20 153.70 L427.52 153.70 L427.84 153.70 L428.16 153.70 L428.48 153.70 L428.80 153.70 L429.12 153.70 L429.44 153.70 L429.76 153.70 L430.08 153.70 L430.40 153.70 L430.72 153.70 L431.04 153.70 L431.36 153.70 L431.68 153.70 L432.00 153.70 L432.32 153.70 L432.64 153.70 L432.96 153.70 L433.28 153.70 L433.60 153.70 L433.92 153.70 L434.24 153.70 L434.56 153.70 L434.88 153.70 L435.20 153.70 L435.52 153.70 L435.84 153.70 L436.16 153.70 L436.48 153.70 L436.80 153.70 L437.12 153.70 L437.44 153.70 L437.76 153.70 L438.08 153.70 L438.40 153.70 L438.72 153.70 L439.04 153.70 L439.36 153.70 L439.68 153.70 L440.00 153.70 L440.32 153.70 L440.64 153.70 L440.96 153.70 L441.28 153.70 L441.60 153.70 L441.92 153.70 L442.24 153.70 L442.56 153.70 L442.88 153.70 L443.20 153.70 L443.20 153.70" fill="none" stroke="#f08428" stroke-width="1.15" stroke-linejoin="round" />
<path d="M281.60 153.26 L281.92 153.22 L282.24 153.18 L282.56 153.13 L282.88 153.08 L283.20 153.03 L283.52 152.97 L283.84 152.91 L284.16 152.85 L284.48 152.78 L284.80 152.71 L285.12 152.63 L285.44 152.54 L285.76 152.45 L286.08 152.36 L286.40 152.25 L286.72 152.14 L287.04 152.03 L287.36 151.90 L287.68 151.77 L288.00 151.63 L288.32 151.48 L288.64 151.32 L288.96 151.14 L289.28 150.95 L289.60 150.75 L289.92 150.52 L290.24 150.27 L290.56 150.00 L290.88 149.70 L291.20 149.37 L291.52 149.00 L291.84 148.61 L292.16 148.20 L292.48 147.76 L292.80 147.31 L293.12 146.85 L293.44 146.40 L293.76 145.96 L294.08 145.54 L294.40 145.15 L294.72 144.78 L295.04 144.43 L295.36 144.11 L295.68 143.78 L296.00 143.46 L296.32 143.13 L296.64 142.77 L296.96 142.38 L297.28 141.96 L297.60 141.48 L297.92 140.96 L298.24 140.39 L298.56 139.77 L298.88 139.09 L299.20 138.36 L299.52 137.58 L299.84 136.74 L300.16 135.84 L300.48 134.88 L300.80 133.86 L301.12 132.76 L301.44 131.60 L301.76 130.35 L302.08 129.03 L302.40 127.61 L302.72 126.10 L303.04 124.48 L303.36 122.76 L303.68 120.93 L304.00 118.98 L304.32 116.90 L304.64 114.71 L304.96 112.38 L305.28 109.93 L305.60 107.34 L305.92 104.62 L306.24 101.77 L306.56 98.80 L306.88 95.71 L307.20 92.51 L307.52 89.20 L307.84 85.79 L308.16 82.31 L308.48 78.76 L308.80 75.16 L309.12 71.52 L309.44 67.88 L309.76 64.24 L310.08 60.64 L310.40 57.09 L310.72 53.63 L311.04 50.27 L311.36 47.05 L311.68 43.99 L312.00 41.11 L312.32 38.43 L312.64 35.99 L312.96 33.81 L313.28 31.89 L313.60 30.27 L313.92 28.95 L314.24 27.95 L314.56 27.28 L314.88 26.94 L315.20 26.92 L315.52 27.12 L315.84 27.50 L316.16 28.08 L316.48 28.83 L316.80 29.77 L317.12 30.88 L317.44 32.16 L317.76 33.58 L318.08 35.16 L318.40 36.87 L318.72 38.71 L319.04 40.66 L319.36 42.72 L319.68 44.87 L320.00 47.10 L320.32 49.41 L320.64 51.78 L320.96 54.20 L321.28 56.66 L321.60 59.16 L321.92 61.68 L322.24 64.22 L322.56 66.77 L322.88 69.32 L323.20 71.87 L323.52 74.41 L323.84 76.93 L324.16 79.43 L324.48 81.90 L324.80 84.35 L325.12 86.76 L325.44 89.13 L325.76 91.46 L326.08 93.74 L326.40 95.98 L326.72 98.17 L327.04 100.30 L327.36 102.38 L327.68 104.41 L328.00 106.38 L328.32 108.29 L328.64 110.15 L328.96 111.94 L329.28 113.68 L329.60 115.36 L329.92 116.98 L330.24 118.54 L330.56 120.04 L330.88 121.48 L331.20 122.87 L331.52 124.20 L331.84 125.47 L332.16 126.69 L332.48 127.86 L332.80 128.98 L333.12 130.04 L333.44 131.06 L333.76 132.03 L334.08 132.95 L334.40 133.83 L334.72 134.66 L335.04 135.46 L335.36 136.21 L335.68 136.93 L336.00 137.60 L336.32 138.25 L336.64 138.86 L336.96 139.43 L337.28 139.98 L337.60 140.50 L337.92 140.99 L338.24 141.45 L338.56 141.89 L338.88 142.30 L339.20 142.69 L339.52 143.07 L339.84 143.42 L340.16 143.75 L340.48 144.06 L340.80 144.36 L341.12 144.65 L341.44 144.91 L341.76 145.17 L342.08 145.41 L342.40 145.64 L342.72 145.85 L343.04 146.06 L343.36 146.26 L343.68 146.45 L344.00 146.62 L344.32 146.79 L344.64 146.96 L344.96 147.11 L345.28 147.26 L345.60 147.40 L345.92 147.54 L346.24 147.67 L346.56 147.80 L346.88 147.92 L347.20 148.07 L347.52 148.25 L347.84 148.42 L348.16 148.59 L348.48 148.75 L348.80 148.91 L349.12 149.06 L349.44 149.21 L349.76 149.35 L350.08 149.48 L350.40 149.62 L350.72 149.74 L351.04 149.87 L351.36 149.99 L351.68 150.10 L352.00 150.22 L352.32 150.33 L352.64 150.43 L352.96 150.54 L353.28 150.64 L353.60 150.73 L353.92 150.83 L354.24 150.92 L354.56 151.01 L354.88 151.10 L355.20 151.18 L355.52 151.27 L355.84 151.35 L356.16 151.43 L356.48 151.50 L356.80 151.58 L357.12 151.65 L357.44 151.72 L357.76 151.79 L358.08 151.86 L358.40 151.92 L358.72 151.99 L359.04 152.05 L359.36 152.11 L359.68 152.17 L360.00 152.23 L360.32 152.28 L360.64 152.34 L360.96 152.39 L361.28 152.44 L361.60 152.50 L361.92 152.55 L362.24 152.59 L362.56 152.64 L362.88 152.69 L363.20 152.73 L363.52 152.78 L363.84 152.82 L364.16 152.87 L364.48 152.91 L364.80 152.95 L365.12 152.99 L365.44 153.03 L365.76 153.06 L366.08 153.10 L366.40 153.14 L366.72 153.17 L367.04 153.21 L367.36 153.24 L367.68 153.27 L368.00 153.30 L368.32 153.34 L368.64 153.37 L368.96 153.40 L369.28 153.43 L369.60 153.46 L369.92 153.48 L370.24 153.51 L370.56 153.54 L370.88 153.56 L371.20 153.59 L371.52 153.62 L371.84 153.64 L372.16 153.66 L372.48 153.69 L372.80 153.70 L373.12 153.70 L373.44 153.70 L373.76 153.70 L374.08 153.70 L374.40 153.70 L374.72 153.70 L375.04 153.70 L375.36 153.70 L375.68 153.70 L376.00 153.70 L376.32 153.70 L376.64 153.70 L376.96 153.70 L377.28 153.70 L377.60 153.70 L377.92 153.70 L378.24 153.70 L378.56 153.70 L378.88 153.70 L379.20 153.70 L379.52 153.70 L379.84 153.70 L380.16 153.70 L380.48 153.70 L380.80 153.70 L381.12 153.70 L381.44 153.70 L381.76 153.70 L382.08 153.70 L382.40 153.70 L382.72 153.70 L383.04 153.70 L383.36 153.70 L383.68 153.70 L384.00 153.70 L384.32 153.70 L384.64 153.70 L384.96 153.70 L385.28 153.70 L385.60 153.70 L385.92 153.70 L386.24 153.70 L386.56 153.70 L386.88 153.70 L387.20 153.70 L387.52 153.70 L387.84 153.70 L388.16 153.70 L388.48 153.70 L388.80 153.70 L389.12 153.70 L389.44 153.70 L389.76 153.70 L390.08 153.70 L390.40 153.70 L390.72 153.70 L391.04 153.70 L391.36 153.70 L391.68 153.70 L392.00 153.70 L392.32 153.70 L392.64 153.70 L392.96 153.70 L393.28 153.70 L393.60 153.70 L393.92 153.70 L394.24 153.70 L394.56 153.70 L394.88 153.70 L395.20 153.70 L395.52 153.70 L395.84 153.70 L396.16 153.70 L396.48 153.70 L396.80 153.70 L397.12 153.70 L397.44 153.70 L397.76 153.70 L398.08 153.70 L398.40 153.70 L398.72 153.70 L399.04 153.70 L399.36 153.70 L399.68 153.70 L400.00 153.70 L400.32 153.70 L400.64 153.70 L400.96 153.70 L401.28 153.70 L401.60 153.70 L401.92 153.70 L402.24 153.70 L402.56 153.70 L402.88 153.70 L403.20 153.70 L403.52 153.70 L403.84 153.70 L404.16 153.70 L404.48 153.70 L404.80 153.70 L405.12 153.70 L405.44 153.70 L405.76 153.70 L406.08 153.70 L406.40 153.70 L406.72 153.70 L407.04 153.70 L407.36 153.70 L407.68 153.70 L408.00 153.70 L408.32 153.70 L408.64 153.70 L408.96 153.70 L409.28 153.70 L409.60 153.70 L409.92 153.70 L410.24 153.70 L410.56 153.70 L410.88 153.70 L411.20 153.70 L411.52 153.70 L411.84 153.70 L412.16 153.70 L412.48 153.70 L412.80 153.70 L413.12 153.70 L413.44 153.70 L413.76 153.70 L414.08 153.70 L414.40 153.70 L414.72 153.70 L415.04 153.70 L415.36 153.70 L415.68 153.70 L416.00 153.70 L416.32 153.70 L416.64 153.70 L416.96 153.70 L417.28 153.70 L417.60 153.70 L417.92 153.70 L418.24 153.70 L418.56 153.70 L418.88 153.70 L419.20 153.70 L419.52 153.70 L419.84 153.70 L420.16 153.70 L420.48 153.70 L420.80 153.70 L421.12 153.70 L421.44 153.70 L421.76 153.70 L422.08 153.70 L422.40 153.70 L422.72 153.70 L423.04 153.70 L423.36 153.70 L423.68 153.70 L424.00 153.70 L424.32 153.70 L424.64 153.70 L424.96 153.70 L425.28 153.70 L425.60 153.70 L425.92 153.70 L426.24 153.70 L426.56 153.70 L426.88 153.70 L427.20 153.70 L427.52 153.70 L427.84 153.70 L428.16 153.70 L428.48 153.70 L428.80 153.70 L429.12 153.70 L429.44 153.70 L429.76 153.70 L430.08 153.70 L430.40 153.70 L430.72 153.70 L431.04 153.70 L431.36 153.70 L431.68 153.70 L432.00 153.70 L432.32 153.70 L432.64 153.70 L432.96 153.70 L433.28 153.70 L433.60 153.70 L433.92 153.70 L434.24 153.70 L434.56 153.70 L434.88 153.70 L435.20 153.70 L435.52 153.70 L435.84 153.70 L436.16 153.70 L436.48 153.70 L436.80 153.70 L437.12 153.70 L437.44 153.70 L437.76 153.70 L438.08 153.70 L438.40 153.70 L438.72 153.70 L439.04 153.70 L439.36 153.70 L439.68 153.70 L440.00 153.70 L440.32 153.70 L440.64 153.70 L440.96 153.70 L441.28 153.70 L441.60 153.70 L441.92 153.70 L442.24 153.70 L442.56 153.70 L442.88 153.70 L443.20 153.70 L443.20 153.70" fill="none" stroke="#8c9a30" stroke-width="1.15" stroke-linejoin="round" />
<path d="M281.60 153.31 L281.92 153.28 L282.24 153.24 L282.56 153.20 L282.88 153.16 L283.20 153.11 L283.52 153.06 L283.84 153.00 L284.16 152.95 L284.48 152.88 L284.80 152.82 L285.12 152.74 L285.44 152.67 L285.76 152.59 L286.08 152.50 L286.40 152.40 L286.72 152.30 L287.04 152.20 L287.36 152.09 L287.68 151.96 L288.00 151.84 L288.32 151.70 L288.64 151.55 L288.96 151.39 L289.28 151.21 L289.60 151.02 L289.92 150.81 L290.24 150.57 L290.56 150.32 L290.88 150.03 L291.20 149.72 L291.52 149.37 L291.84 149.00 L292.16 148.60 L292.48 148.18 L292.80 147.75 L293.12 147.31 L293.44 146.89 L293.76 146.47 L294.08 146.07 L294.40 145.70 L294.72 145.36 L295.04 145.04 L295.36 144.74 L295.68 144.44 L296.00 144.15 L296.32 143.85 L296.64 143.53 L296.96 143.17 L297.28 142.78 L297.60 142.35 L297.92 141.88 L298.24 141.35 L298.56 140.78 L298.88 140.16 L299.20 139.49 L299.52 138.77 L299.84 138.00 L300.16 137.18 L300.48 136.31 L300.80 135.37 L301.12 134.38 L301.44 133.32 L301.76 132.19 L302.08 130.99 L302.40 129.70 L302.72 128.33 L303.04 126.87 L303.36 125.30 L303.68 123.63 L304.00 121.86 L304.32 119.97 L304.64 117.96 L304.96 115.82 L305.28 113.56 L305.60 111.17 L305.92 108.65 L306.24 106.00 L306.56 103.21 L306.88 100.30 L307.20 97.27 L307.52 94.12 L307.84 90.86 L308.16 87.51 L308.48 84.06 L308.80 80.54 L309.12 76.96 L309.44 73.34 L309.76 69.70 L310.08 66.06 L310.40 62.44 L310.72 58.86 L311.04 55.35 L311.36 51.94 L311.68 48.65 L312.00 45.50 L312.32 42.52 L312.64 39.74 L312.96 37.18 L313.28 34.87 L313.60 32.81 L313.92 31.04 L314.24 29.57 L314.56 28.41 L314.88 27.57 L315.20 27.07 L315.52 26.90 L315.84 26.98 L316.16 27.22 L316.48 27.63 L316.80 28.19 L317.12 28.91 L317.44 29.77 L317.76 30.78 L318.08 31.93 L318.40 33.21 L318.72 34.62 L319.04 36.14 L319.36 37.78 L319.68 39.51 L320.00 41.34 L320.32 43.25 L320.64 45.24 L320.96 47.29 L321.28 49.41 L321.60 51.58 L321.92 53.79 L322.24 56.04 L322.56 58.32 L322.88 60.63 L323.20 62.95 L323.52 65.28 L323.84 67.62 L324.16 69.96 L324.48 72.29 L324.80 74.62 L325.12 76.93 L325.44 79.22 L325.76 81.49 L326.08 83.74 L326.40 85.96 L326.72 88.15 L327.04 90.30 L327.36 92.42 L327.68 94.49 L328.00 96.53 L328.32 98.53 L328.64 100.48 L328.96 102.38 L329.28 104.24 L329.60 106.06 L329.92 107.82 L330.24 109.54 L330.56 111.20 L330.88 112.82 L331.20 114.39 L331.52 115.90 L331.84 117.37 L332.16 118.79 L332.48 120.16 L332.80 121.48 L333.12 122.75 L333.44 123.98 L333.76 125.16 L334.08 126.29 L334.40 127.38 L334.72 128.43 L335.04 129.43 L335.36 130.39 L335.68 131.31 L336.00 132.19 L336.32 133.03 L336.64 133.83 L336.96 134.60 L337.28 135.33 L337.60 136.03 L337.92 136.69 L338.24 137.33 L338.56 137.93 L338.88 138.50 L339.20 139.05 L339.52 139.57 L339.84 140.07 L340.16 140.54 L340.48 140.99 L340.80 141.41 L341.12 141.82 L341.44 142.20 L341.76 142.57 L342.08 142.91 L342.40 143.24 L342.72 143.56 L343.04 143.86 L343.36 144.14 L343.68 144.41 L344.00 144.67 L344.32 144.91 L344.64 145.15 L344.96 145.37 L345.28 145.58 L345.60 145.78 L345.92 145.98 L346.24 146.16 L346.56 146.34 L346.88 146.51 L347.20 146.67 L347.52 146.82 L347.84 147.05 L348.16 147.28 L348.48 147.49 L348.80 147.70 L349.12 147.89 L349.44 148.08 L349.76 148.27 L350.08 148.44 L350.40 148.61 L350.72 148.78 L351.04 148.93 L351.36 149.09 L351.68 149.23 L352.00 149.38 L352.32 149.51 L352.64 149.65 L352.96 149.78 L353.28 149.90 L353.60 150.02 L353.92 150.14 L354.24 150.26 L354.56 150.37 L354.88 150.48 L355.20 150.58 L355.52 150.68 L355.84 150.78 L356.16 150.88 L356.48 150.97 L356.80 151.07 L357.12 151.15 L357.44 151.24 L357.76 151.33 L358.08 151.41 L358.40 151.49 L358.72 151.57 L359.04 151.64 L359.36 151.72 L359.68 151.79 L360.00 151.86 L360.32 151.93 L360.64 152.00 L360.96 152.06 L361.28 152.13 L361.60 152.19 L361.92 152.25 L362.24 152.31 L362.56 152.37 L362.88 152.42 L363.20 152.48 L363.52 152.53 L363.84 152.59 L364.16 152.64 L364.48 152.69 L364.80 152.74 L365.12 152.79 L365.44 152.83 L365.76 152.88 L366.08 152.93 L366.40 152.97 L366.72 153.01 L367.04 153.05 L367.36 153.10 L367.68 153.14 L368.00 153.18 L368.32 153.21 L368.64 153.25 L368.96 153.29 L369.28 153.32 L369.60 153.36 L369.92 153.39 L370.24 153.43 L370.56 153.46 L370.88 153.49 L371.20 153.52 L371.52 153.56 L371.84 153.59 L372.16 153.62 L372.48 153.64 L372.80 153.67 L373.12 153.70 L373.44 153.70 L373.76 153.70 L374.08 153.70 L374.40 153.70 L374.72 153.70 L375.04 153.70 L375.36 153.70 L375.68 153.70 L376.00 153.70 L376.32 153.70 L376.64 153.70 L376.96 153.70 L377.28 153.70 L377.60 153.70 L377.92 153.70 L378.24 153.70 L378.56 153.70 L378.88 153.70 L379.20 153.70 L379.52 153.70 L379.84 153.70 L380.16 153.70 L380.48 153.70 L380.80 153.70 L381.12 153.70 L381.44 153.70 L381.76 153.70 L382.08 153.70 L382.40 153.70 L382.72 153.70 L383.04 153.70 L383.36 153.70 L383.68 153.70 L384.00 153.70 L384.32 153.70 L384.64 153.70 L384.96 153.70 L385.28 153.70 L385.60 153.70 L385.92 153.70 L386.24 153.70 L386.56 153.70 L386.88 153.70 L387.20 153.70 L387.52 153.70 L387.84 153.70 L388.16 153.70 L388.48 153.70 L388.80 153.70 L389.12 153.70 L389.44 153.70 L389.76 153.70 L390.08 153.70 L390.40 153.70 L390.72 153.70 L391.04 153.70 L391.36 153.70 L391.68 153.70 L392.00 153.70 L392.32 153.70 L392.64 153.70 L392.96 153.70 L393.28 153.70 L393.60 153.70 L393.92 153.70 L394.24 153.70 L394.56 153.70 L394.88 153.70 L395.20 153.70 L395.52 153.70 L395.84 153.70 L396.16 153.70 L396.48 153.70 L396.80 153.70 L397.12 153.70 L397.44 153.70 L397.76 153.70 L398.08 153.70 L398.40 153.70 L398.72 153.70 L399.04 153.70 L399.36 153.70 L399.68 153.70 L400.00 153.70 L400.32 153.70 L400.64 153.70 L400.96 153.70 L401.28 153.70 L401.60 153.70 L401.92 153.70 L402.24 153.70 L402.56 153.70 L402.88 153.70 L403.20 153.70 L403.52 153.70 L403.84 153.70 L404.16 153.70 L404.48 153.70 L404.80 153.70 L405.12 153.70 L405.44 153.70 L405.76 153.70 L406.08 153.70 L406.40 153.70 L406.72 153.70 L407.04 153.70 L407.36 153.70 L407.68 153.70 L408.00 153.70 L408.32 153.70 L408.64 153.70 L408.96 153.70 L409.28 153.70 L409.60 153.70 L409.92 153.70 L410.24 153.70 L410.56 153.70 L410.88 153.70 L411.20 153.70 L411.52 153.70 L411.84 153.70 L412.16 153.70 L412.48 153.70 L412.80 153.70 L413.12 153.70 L413.44 153.70 L413.76 153.70 L414.08 153.70 L414.40 153.70 L414.72 153.70 L415.04 153.70 L415.36 153.70 L415.68 153.70 L416.00 153.70 L416.32 153.70 L416.64 153.70 L416.96 153.70 L417.28 153.70 L417.60 153.70 L417.92 153.70 L418.24 153.70 L418.56 153.70 L418.88 153.70 L419.20 153.70 L419.52 153.70 L419.84 153.70 L420.16 153.70 L420.48 153.70 L420.80 153.70 L421.12 153.70 L421.44 153.70 L421.76 153.70 L422.08 153.70 L422.40 153.70 L422.72 153.70 L423.04 153.70 L423.36 153.70 L423.68 153.70 L424.00 153.70 L424.32 153.70 L424.64 153.70 L424.96 153.70 L425.28 153.70 L425.60 153.70 L425.92 153.70 L426.24 153.70 L426.56 153.70 L426.88 153.70 L427.20 153.70 L427.52 153.70 L427.84 153.70 L428.16 153.70 L428.48 153.70 L428.80 153.70 L429.12 153.70 L429.44 153.70 L429.76 153.70 L430.08 153.70 L430.40 153.70 L430.72 153.70 L431.04 153.70 L431.36 153.70 L431.68 153.70 L432.00 153.70 L432.32 153.70 L432.64 153.70 L432.96 153.70 L433.28 153.70 L433.60 153.70 L433.92 153.70 L434.24 153.70 L434.56 153.70 L434.88 153.70 L435.20 153.70 L435.52 153.70 L435.84 153.70 L436.16 153.70 L436.48 153.70 L436.80 153.70 L437.12 153.70 L437.44 153.70 L437.76 153.70 L438.08 153.70 L438.40 153.70 L438.72 153.70 L439.04 153.70 L439.36 153.70 L439.68 153.70 L440.00 153.70 L440.32 153.70 L440.64 153.70 L440.96 153.70 L441.28 153.70 L441.60 153.70 L441.92 153.70 L442.24 153.70 L442.56 153.70 L442.88 153.70 L443.20 153.70 L443.20 153.70" fill="none" stroke="#66d438" stroke-width="1.15" stroke-linejoin="round" />
<path d="M281.60 153.36 L281.92 153.33 L282.24 153.30 L282.56 153.26 L282.88 153.22 L283.20 153.18 L283.52 153.13 L283.84 153.08 L284.16 153.03 L284.48 152.97 L284.80 152.91 L285.12 152.85 L285.44 152.78 L285.76 152.71 L286.08 152.63 L286.40 152.54 L286.72 152.45 L287.04 152.35 L287.36 152.25 L287.68 152.14 L288.00 152.02 L288.32 151.90 L288.64 151.76 L288.96 151.61 L289.28 151.45 L289.60 151.27 L289.92 151.07 L290.24 150.85 L290.56 150.61 L290.88 150.34 L291.20 150.04 L291.52 149.71 L291.84 149.36 L292.16 148.98 L292.48 148.58 L292.80 148.16 L293.12 147.75 L293.44 147.34 L293.76 146.94 L294.08 146.57 L294.40 146.22 L294.72 145.90 L295.04 145.60 L295.36 145.33 L295.68 145.06 L296.00 144.80 L296.32 144.53 L296.64 144.23 L296.96 143.91 L297.28 143.56 L297.60 143.16 L297.92 142.73 L298.24 142.24 L298.56 141.72 L298.88 141.15 L299.20 140.53 L299.52 139.87 L299.84 139.16 L300.16 138.41 L300.48 137.61 L300.80 136.76 L301.12 135.85 L301.44 134.89 L301.76 133.86 L302.08 132.77 L302.40 131.60 L302.72 130.36 L303.04 129.03 L303.36 127.61 L303.68 126.10 L304.00 124.48 L304.32 122.76 L304.64 120.93 L304.96 118.98 L305.28 116.90 L305.60 114.71 L305.92 112.38 L306.24 109.93 L306.56 107.34 L306.88 104.62 L307.20 101.77 L307.52 98.80 L307.84 95.71 L308.16 92.51 L308.48 89.20 L308.80 85.79 L309.12 82.31 L309.44 78.76 L309.76 75.16 L310.08 71.52 L310.40 67.88 L310.72 64.24 L311.04 60.64 L311.36 57.09 L311.68 53.63 L312.00 50.27 L312.32 47.05 L312.64 43.99 L312.96 41.11 L313.28 38.43 L313.60 35.99 L313.92 33.81 L314.24 31.89 L314.56 30.27 L314.88 28.95 L315.20 27.95 L315.52 27.28 L315.84 26.94 L316.16 26.92 L316.48 27.12 L316.80 27.50 L317.12 28.08 L317.44 28.83 L317.76 29.77 L318.08 30.88 L318.40 32.16 L318.72 33.58 L319.04 35.16 L319.36 36.87 L319.68 38.71 L320.00 40.66 L320.32 42.72 L320.64 44.87 L320.96 47.10 L321.28 49.41 L321.60 51.78 L321.92 54.20 L322.24 56.66 L322.56 59.16 L322.88 61.68 L323.20 64.22 L323.52 66.77 L323.84 69.32 L324.16 71.87 L324.48 74.41 L324.80 76.93 L325.12 79.43 L325.44 81.90 L325.76 84.35 L326.08 86.76 L326.40 89.13 L326.72 91.46 L327.04 93.74 L327.36 95.98 L327.68 98.17 L328.00 100.30 L328.32 102.38 L328.64 104.41 L328.96 106.38 L329.28 108.29 L329.60 110.15 L329.92 111.94 L330.24 113.68 L330.56 115.36 L330.88 116.98 L331.20 118.54 L331.52 120.04 L331.84 121.48 L332.16 122.87 L332.48 124.20 L332.80 125.47 L333.12 126.69 L333.44 127.86 L333.76 128.98 L334.08 130.04 L334.40 131.06 L334.72 132.03 L335.04 132.95 L335.36 133.83 L335.68 134.66 L336.00 135.46 L336.32 136.21 L336.64 136.93 L336.96 137.60 L337.28 138.25 L337.60 138.86 L337.92 139.43 L338.24 139.98 L338.56 140.50 L338.88 140.99 L339.20 141.45 L339.52 141.89 L339.84 142.30 L340.16 142.69 L340.48 143.07 L340.80 143.42 L341.12 143.75 L341.44 144.06 L341.76 144.36 L342.08 144.65 L342.40 144.91 L342.72 145.17 L343.04 145.41 L343.36 145.64 L343.68 145.85 L344.00 146.06 L344.32 146.26 L344.64 146.45 L344.96 146.62 L345.28 146.79 L345.60 146.96 L345.92 147.11 L346.24 147.26 L346.56 147.40 L346.88 147.54 L347.20 147.67 L347.52 147.80 L347.84 147.92 L348.16 148.07 L348.48 148.25 L348.80 148.42 L349.12 148.59 L349.44 148.75 L349.76 148.91 L350.08 149.06 L350.40 149.21 L350.72 149.35 L351.04 149.48 L351.36 149.62 L351.68 149.74 L352.00 149.87 L352.32 149.99 L352.64 150.10 L352.96 150.22 L353.28 150.33 L353.60 150.43 L353.92 150.54 L354.24 150.64 L354.56 150.73 L354.88 150.83 L355.20 150.92 L355.52 151.01 L355.84 151.10 L356.16 151.18 L356.48 151.27 L356.80 151.35 L357.12 151.43 L357.44 151.50 L357.76 151.58 L358.08 151.65 L358.40 151.72 L358.72 151.79 L359.04 151.86 L359.36 151.92 L359.68 151.99 L360.00 152.05 L360.32 152.11 L360.64 152.17 L360.96 152.23 L361.28 152.28 L361.60 152.34 L361.92 152.39 L362.24 152.44 L362.56 152.50 L362.88 152.55 L363.20 152.59 L363.52 152.64 L363.84 152.69 L364.16 152.73 L364.48 152.78 L364.80 152.82 L365.12 152.87 L365.44 152.91 L365.76 152.95 L366.08 152.99 L366.40 153.03 L366.72 153.06 L367.04 153.10 L367.36 153.14 L367.68 153.17 L368.00 153.21 L368.32 153.24 L368.64 153.27 L368.96 153.30 L369.28 153.34 L369.60 153.37 L369.92 153.40 L370.24 153.43 L370.56 153.46 L370.88 153.48 L371.20 153.51 L371.52 153.54 L371.84 153.56 L372.16 153.59 L372.48 153.62 L372.80 153.64 L373.12 153.66 L373.44 153.69 L373.76 153.70 L374.08 153.70 L374.40 153.70 L374.72 153.70 L375.04 153.70 L375.36 153.70 L375.68 153.70 L376.00 153.70 L376.32 153.70 L376.64 153.70 L376.96 153.70 L377.28 153.70 L377.60 153.70 L377.92 153.70 L378.24 153.70 L378.56 153.70 L378.88 153.70 L379.20 153.70 L379.52 153.70 L379.84 153.70 L380.16 153.70 L380.48 153.70 L380.80 153.70 L381.12 153.70 L381.44 153.70 L381.76 153.70 L382.08 153.70 L382.40 153.70 L382.72 153.70 L383.04 153.70 L383.36 153.70 L383.68 153.70 L384.00 153.70 L384.32 153.70 L384.64 153.70 L384.96 153.70 L385.28 153.70 L385.60 153.70 L385.92 153.70 L386.24 153.70 L386.56 153.70 L386.88 153.70 L387.20 153.70 L387.52 153.70 L387.84 153.70 L388.16 153.70 L388.48 153.70 L388.80 153.70 L389.12 153.70 L389.44 153.70 L389.76 153.70 L390.08 153.70 L390.40 153.70 L390.72 153.70 L391.04 153.70 L391.36 153.70 L391.68 153.70 L392.00 153.70 L392.32 153.70 L392.64 153.70 L392.96 153.70 L393.28 153.70 L393.60 153.70 L393.92 153.70 L394.24 153.70 L394.56 153.70 L394.88 153.70 L395.20 153.70 L395.52 153.70 L395.84 153.70 L396.16 153.70 L396.48 153.70 L396.80 153.70 L397.12 153.70 L397.44 153.70 L397.76 153.70 L398.08 153.70 L398.40 153.70 L398.72 153.70 L399.04 153.70 L399.36 153.70 L399.68 153.70 L400.00 153.70 L400.32 153.70 L400.64 153.70 L400.96 153.70 L401.28 153.70 L401.60 153.70 L401.92 153.70 L402.24 153.70 L402.56 153.70 L402.88 153.70 L403.20 153.70 L403.52 153.70 L403.84 153.70 L404.16 153.70 L404.48 153.70 L404.80 153.70 L405.12 153.70 L405.44 153.70 L405.76 153.70 L406.08 153.70 L406.40 153.70 L406.72 153.70 L407.04 153.70 L407.36 153.70 L407.68 153.70 L408.00 153.70 L408.32 153.70 L408.64 153.70 L408.96 153.70 L409.28 153.70 L409.60 153.70 L409.92 153.70 L410.24 153.70 L410.56 153.70 L410.88 153.70 L411.20 153.70 L411.52 153.70 L411.84 153.70 L412.16 153.70 L412.48 153.70 L412.80 153.70 L413.12 153.70 L413.44 153.70 L413.76 153.70 L414.08 153.70 L414.40 153.70 L414.72 153.70 L415.04 153.70 L415.36 153.70 L415.68 153.70 L416.00 153.70 L416.32 153.70 L416.64 153.70 L416.96 153.70 L417.28 153.70 L417.60 153.70 L417.92 153.70 L418.24 153.70 L418.56 153.70 L418.88 153.70 L419.20 153.70 L419.52 153.70 L419.84 153.70 L420.16 153.70 L420.48 153.70 L420.80 153.70 L421.12 153.70 L421.44 153.70 L421.76 153.70 L422.08 153.70 L422.40 153.70 L422.72 153.70 L423.04 153.70 L423.36 153.70 L423.68 153.70 L424.00 153.70 L424.32 153.70 L424.64 153.70 L424.96 153.70 L425.28 153.70 L425.60 153.70 L425.92 153.70 L426.24 153.70 L426.56 153.70 L426.88 153.70 L427.20 153.70 L427.52 153.70 L427.84 153.70 L428.16 153.70 L428.48 153.70 L428.80 153.70 L429.12 153.70 L429.44 153.70 L429.76 153.70 L430.08 153.70 L430.40 153.70 L430.72 153.70 L431.04 153.70 L431.36 153.70 L431.68 153.70 L432.00 153.70 L432.32 153.70 L432.64 153.70 L432.96 153.70 L433.28 153.70 L433.60 153.70 L433.92 153.70 L434.24 153.70 L434.56 153.70 L434.88 153.70 L435.20 153.70 L435.52 153.70 L435.84 153.70 L436.16 153.70 L436.48 153.70 L436.80 153.70 L437.12 153.70 L437.44 153.70 L437.76 153.70 L438.08 153.70 L438.40 153.70 L438.72 153.70 L439.04 153.70 L439.36 153.70 L439.68 153.70 L440.00 153.70 L440.32 153.70 L440.64 153.70 L440.96 153.70 L441.28 153.70 L441.60 153.70 L441.92 153.70 L442.24 153.70 L442.56 153.70 L442.88 153.70 L443.20 153.70 L443.20 153.70" fill="none" stroke="#2ea048" stroke-width="1.15" stroke-linejoin="round" />
<path d="M281.60 153.40 L281.92 153.37 L282.24 153.34 L282.56 153.31 L282.88 153.28 L283.20 153.24 L283.52 153.20 L283.84 153.16 L284.16 153.11 L284.48 153.06 L284.80 153.00 L285.12 152.95 L285.44 152.88 L285.76 152.82 L286.08 152.74 L286.40 152.67 L286.72 152.58 L287.04 152.50 L287.36 152.40 L287.68 152.30 L288.00 152.19 L288.32 152.08 L288.64 151.95 L288.96 151.81 L289.28 151.66 L289.60 151.50 L289.92 151.31 L290.24 151.11 L290.56 150.88 L290.88 150.62 L291.20 150.34 L291.52 150.03 L291.84 149.69 L292.16 149.32 L292.48 148.94 L292.80 148.55 L293.12 148.15 L293.44 147.76 L293.76 147.39 L294.08 147.03 L294.40 146.71 L294.72 146.41 L295.04 146.13 L295.36 145.88 L295.68 145.64 L296.00 145.40 L296.32 145.16 L296.64 144.89 L296.96 144.60 L297.28 144.28 L297.60 143.92 L297.92 143.52 L298.24 143.07 L298.56 142.59 L298.88 142.06 L299.20 141.49 L299.52 140.88 L299.84 140.23 L300.16 139.54 L300.48 138.80 L300.80 138.02 L301.12 137.19 L301.44 136.31 L301.76 135.38 L302.08 134.38 L302.40 133.32 L302.72 132.19 L303.04 130.99 L303.36 129.70 L303.68 128.33 L304.00 126.87 L304.32 125.30 L304.64 123.63 L304.96 121.86 L305.28 119.97 L305.60 117.96 L305.92 115.82 L306.24 113.56 L306.56 111.17 L306.88 108.65 L307.20 106.00 L307.52 103.21 L307.84 100.30 L308.16 97.27 L308.48 94.12 L308.80 90.86 L309.12 87.51 L309.44 84.06 L309.76 80.54 L310.08 76.96 L310.40 73.34 L310.72 69.70 L311.04 66.06 L311.36 62.44 L311.68 58.86 L312.00 55.35 L312.32 51.94 L312.64 48.65 L312.96 45.50 L313.28 42.52 L313.60 39.74 L313.92 37.18 L314.24 34.87 L314.56 32.81 L314.88 31.04 L315.20 29.57 L315.52 28.41 L315.84 27.57 L316.16 27.07 L316.48 26.90 L316.80 26.99 L317.12 27.24 L317.44 27.67 L317.76 28.26 L318.08 29.02 L318.40 29.94 L318.72 31.00 L319.04 32.21 L319.36 33.56 L319.68 35.04 L320.00 36.64 L320.32 38.36 L320.64 40.18 L320.96 42.09 L321.28 44.09 L321.60 46.17 L321.92 48.31 L322.24 50.52 L322.56 52.77 L322.88 55.07 L323.20 57.40 L323.52 59.77 L323.84 62.15 L324.16 64.55 L324.48 66.95 L324.80 69.36 L325.12 71.76 L325.44 74.15 L325.76 76.53 L326.08 78.90 L326.40 81.24 L326.72 83.55 L327.04 85.83 L327.36 88.08 L327.68 90.30 L328.00 92.48 L328.32 94.61 L328.64 96.70 L328.96 98.75 L329.28 100.75 L329.60 102.71 L329.92 104.61 L330.24 106.46 L330.56 108.27 L330.88 110.02 L331.20 111.72 L331.52 113.36 L331.84 114.96 L332.16 116.50 L332.48 117.99 L332.80 119.42 L333.12 120.81 L333.44 122.14 L333.76 123.43 L334.08 124.66 L334.40 125.85 L334.72 126.98 L335.04 128.07 L335.36 129.12 L335.68 130.12 L336.00 131.07 L336.32 131.99 L336.64 132.86 L336.96 133.69 L337.28 134.49 L337.60 135.25 L337.92 135.97 L338.24 136.65 L338.56 137.31 L338.88 137.93 L339.20 138.52 L339.52 139.08 L339.84 139.62 L340.16 140.12 L340.48 140.60 L340.80 141.06 L341.12 141.49 L341.44 141.91 L341.76 142.30 L342.08 142.67 L342.40 143.02 L342.72 143.35 L343.04 143.67 L343.36 143.97 L343.68 144.26 L344.00 144.53 L344.32 144.79 L344.64 145.03 L344.96 145.27 L345.28 145.49 L345.60 145.70 L345.92 145.91 L346.24 146.10 L346.56 146.28 L346.88 146.46 L347.20 146.63 L347.52 146.79 L347.84 146.94 L348.16 147.09 L348.48 147.23 L348.80 147.44 L349.12 147.65 L349.44 147.85 L349.76 148.04 L350.08 148.22 L350.40 148.40 L350.72 148.57 L351.04 148.73 L351.36 148.89 L351.68 149.05 L352.00 149.19 L352.32 149.34 L352.64 149.47 L352.96 149.61 L353.28 149.74 L353.60 149.86 L353.92 149.99 L354.24 150.10 L354.56 150.22 L354.88 150.33 L355.20 150.44 L355.52 150.54 L355.84 150.65 L356.16 150.74 L356.48 150.84 L356.80 150.94 L357.12 151.03 L357.44 151.12 L357.76 151.20 L358.08 151.29 L358.40 151.37 L358.72 151.45 L359.04 151.53 L359.36 151.60 L359.68 151.68 L360.00 151.75 L360.32 151.82 L360.64 151.89 L360.96 151.96 L361.28 152.02 L361.60 152.09 L361.92 152.15 L362.24 152.21 L362.56 152.27 L362.88 152.33 L363.20 152.38 L363.52 152.44 L363.84 152.49 L364.16 152.54 L364.48 152.60 L364.80 152.65 L365.12 152.69 L365.44 152.74 L365.76 152.79 L366.08 152.83 L366.40 152.88 L366.72 152.92 L367.04 152.97 L367.36 153.01 L367.68 153.05 L368.00 153.09 L368.32 153.13 L368.64 153.17 L368.96 153.20 L369.28 153.24 L369.60 153.27 L369.92 153.31 L370.24 153.34 L370.56 153.38 L370.88 153.41 L371.20 153.44 L371.52 153.47 L371.84 153.50 L372.16 153.53 L372.48 153.56 L372.80 153.59 L373.12 153.62 L373.44 153.65 L373.76 153.67 L374.08 153.70 L374.40 153.70 L374.72 153.70 L375.04 153.70 L375.36 153.70 L375.68 153.70 L376.00 153.70 L376.32 153.70 L376.64 153.70 L376.96 153.70 L377.28 153.70 L377.60 153.70 L377.92 153.70 L378.24 153.70 L378.56 153.70 L378.88 153.70 L379.20 153.70 L379.52 153.70 L379.84 153.70 L380.16 153.70 L380.48 153.70 L380.80 153.70 L381.12 153.70 L381.44 153.70 L381.76 153.70 L382.08 153.70 L382.40 153.70 L382.72 153.70 L383.04 153.70 L383.36 153.70 L383.68 153.70 L384.00 153.70 L384.32 153.70 L384.64 153.70 L384.96 153.70 L385.28 153.70 L385.60 153.70 L385.92 153.70 L386.24 153.70 L386.56 153.70 L386.88 153.70 L387.20 153.70 L387.52 153.70 L387.84 153.70 L388.16 153.70 L388.48 153.70 L388.80 153.70 L389.12 153.70 L389.44 153.70 L389.76 153.70 L390.08 153.70 L390.40 153.70 L390.72 153.70 L391.04 153.70 L391.36 153.70 L391.68 153.70 L392.00 153.70 L392.32 153.70 L392.64 153.70 L392.96 153.70 L393.28 153.70 L393.60 153.70 L393.92 153.70 L394.24 153.70 L394.56 153.70 L394.88 153.70 L395.20 153.70 L395.52 153.70 L395.84 153.70 L396.16 153.70 L396.48 153.70 L396.80 153.70 L397.12 153.70 L397.44 153.70 L397.76 153.70 L398.08 153.70 L398.40 153.70 L398.72 153.70 L399.04 153.70 L399.36 153.70 L399.68 153.70 L400.00 153.70 L400.32 153.70 L400.64 153.70 L400.96 153.70 L401.28 153.70 L401.60 153.70 L401.92 153.70 L402.24 153.70 L402.56 153.70 L402.88 153.70 L403.20 153.70 L403.52 153.70 L403.84 153.70 L404.16 153.70 L404.48 153.70 L404.80 153.70 L405.12 153.70 L405.44 153.70 L405.76 153.70 L406.08 153.70 L406.40 153.70 L406.72 153.70 L407.04 153.70 L407.36 153.70 L407.68 153.70 L408.00 153.70 L408.32 153.70 L408.64 153.70 L408.96 153.70 L409.28 153.70 L409.60 153.70 L409.92 153.70 L410.24 153.70 L410.56 153.70 L410.88 153.70 L411.20 153.70 L411.52 153.70 L411.84 153.70 L412.16 153.70 L412.48 153.70 L412.80 153.70 L413.12 153.70 L413.44 153.70 L413.76 153.70 L414.08 153.70 L414.40 153.70 L414.72 153.70 L415.04 153.70 L415.36 153.70 L415.68 153.70 L416.00 153.70 L416.32 153.70 L416.64 153.70 L416.96 153.70 L417.28 153.70 L417.60 153.70 L417.92 153.70 L418.24 153.70 L418.56 153.70 L418.88 153.70 L419.20 153.70 L419.52 153.70 L419.84 153.70 L420.16 153.70 L420.48 153.70 L420.80 153.70 L421.12 153.70 L421.44 153.70 L421.76 153.70 L422.08 153.70 L422.40 153.70 L422.72 153.70 L423.04 153.70 L423.36 153.70 L423.68 153.70 L424.00 153.70 L424.32 153.70 L424.64 153.70 L424.96 153.70 L425.28 153.70 L425.60 153.70 L425.92 153.70 L426.24 153.70 L426.56 153.70 L426.88 153.70 L427.20 153.70 L427.52 153.70 L427.84 153.70 L428.16 153.70 L428.48 153.70 L428.80 153.70 L429.12 153.70 L429.44 153.70 L429.76 153.70 L430.08 153.70 L430.40 153.70 L430.72 153.70 L431.04 153.70 L431.36 153.70 L431.68 153.70 L432.00 153.70 L432.32 153.70 L432.64 153.70 L432.96 153.70 L433.28 153.70 L433.60 153.70 L433.92 153.70 L434.24 153.70 L434.56 153.70 L434.88 153.70 L435.20 153.70 L435.52 153.70 L435.84 153.70 L436.16 153.70 L436.48 153.70 L436.80 153.70 L437.12 153.70 L437.44 153.70 L437.76 153.70 L438.08 153.70 L438.40 153.70 L438.72 153.70 L439.04 153.70 L439.36 153.70 L439.68 153.70 L440.00 153.70 L440.32 153.70 L440.64 153.70 L440.96 153.70 L441.28 153.70 L441.60 153.70 L441.92 153.70 L442.24 153.70 L442.56 153.70 L442.88 153.70 L443.20 153.70 L443.20 153.70" fill="none" stroke="#30b48c" stroke-width="1.15" stroke-linejoin="round" />
<path d="M281.60 153.45 L281.92 153.43 L282.24 153.40 L282.56 153.37 L282.88 153.34 L283.20 153.31 L283.52 153.28 L283.84 153.24 L284.16 153.20 L284.48 153.16 L284.80 153.11 L285.12 153.06 L285.44 153.00 L285.76 152.95 L286.08 152.88 L286.40 152.82 L286.72 152.74 L287.04 152.67 L287.36 152.58 L287.68 152.49 L288.00 152.40 L288.32 152.30 L288.64 152.18 L288.96 152.06 L289.28 151.92 L289.60 151.77 L289.92 151.61 L290.24 151.42 L290.56 151.21 L290.88 150.97 L291.20 150.71 L291.52 150.41 L291.84 150.09 L292.16 149.75 L292.48 149.39 L292.80 149.02 L293.12 148.65 L293.44 148.28 L293.76 147.93 L294.08 147.60 L294.40 147.30 L294.72 147.03 L295.04 146.79 L295.36 146.57 L295.68 146.36 L296.00 146.15 L296.32 145.94 L296.64 145.71 L296.96 145.45 L297.28 145.17 L297.60 144.85 L297.92 144.49 L298.24 144.09 L298.56 143.65 L298.88 143.18 L299.20 142.67 L299.52 142.12 L299.84 141.53 L300.16 140.91 L300.48 140.25 L300.80 139.55 L301.12 138.81 L301.44 138.03 L301.76 137.20 L302.08 136.32 L302.40 135.38 L302.72 134.38 L303.04 133.32 L303.36 132.19 L303.68 130.99 L304.00 129.70 L304.32 128.33 L304.64 126.87 L304.96 125.30 L305.28 123.63 L305.60 121.86 L305.92 119.97 L306.24 117.96 L306.56 115.82 L306.88 113.56 L307.20 111.17 L307.52 108.65 L307.84 106.00 L308.16 103.21 L308.48 100.30 L308.80 97.27 L309.12 94.12 L309.44 90.86 L309.76 87.51 L310.08 84.06 L310.40 80.54 L310.72 76.96 L311.04 73.34 L311.36 69.70 L311.68 66.06 L312.00 62.44 L312.32 58.86 L312.64 55.35 L312.96 51.94 L313.28 48.65 L313.60 45.50 L313.92 42.52 L314.24 39.74 L314.56 37.18 L314.88 34.87 L315.20 32.81 L315.52 31.04 L315.84 29.57 L316.16 28.41 L316.48 27.57 L316.80 27.07 L317.12 26.90 L317.44 26.97 L317.76 27.20 L318.08 27.57 L318.40 28.09 L318.72 28.75 L319.04 29.55 L319.36 30.49 L319.68 31.55 L320.00 32.74 L320.32 34.04 L320.64 35.46 L320.96 36.98 L321.28 38.60 L321.60 40.30 L321.92 42.09 L322.24 43.96 L322.56 45.89 L322.88 47.88 L323.20 49.92 L323.52 52.02 L323.84 54.15 L324.16 56.31 L324.48 58.50 L324.80 60.72 L325.12 62.95 L325.44 65.19 L325.76 67.43 L326.08 69.68 L326.40 71.92 L326.72 74.15 L327.04 76.38 L327.36 78.58 L327.68 80.77 L328.00 82.94 L328.32 85.08 L328.64 87.19 L328.96 89.27 L329.28 91.32 L329.60 93.34 L329.92 95.31 L330.24 97.26 L330.56 99.16 L330.88 101.02 L331.20 102.84 L331.52 104.61 L331.84 106.34 L332.16 108.03 L332.48 109.67 L332.80 111.27 L333.12 112.82 L333.44 114.33 L333.76 115.78 L334.08 117.20 L334.40 118.57 L334.72 119.89 L335.04 121.17 L335.36 122.40 L335.68 123.59 L336.00 124.74 L336.32 125.85 L336.64 126.91 L336.96 127.93 L337.28 128.91 L337.60 129.86 L337.92 130.76 L338.24 131.63 L338.56 132.46 L338.88 133.25 L339.20 134.02 L339.52 134.74 L339.84 135.44 L340.16 136.11 L340.48 136.74 L340.80 137.35 L341.12 137.93 L341.44 138.48 L341.76 139.01 L342.08 139.51 L342.40 139.99 L342.72 140.45 L343.04 140.88 L343.36 141.29 L343.68 141.69 L344.00 142.06 L344.32 142.42 L344.64 142.76 L344.96 143.09 L345.28 143.40 L345.60 143.69 L345.92 143.97 L346.24 144.24 L346.56 144.49 L346.88 144.74 L347.20 144.97 L347.52 145.19 L347.84 145.40 L348.16 145.61 L348.48 145.80 L348.80 145.98 L349.12 146.16 L349.44 146.42 L349.76 146.67 L350.08 146.91 L350.40 147.14 L350.72 147.36 L351.04 147.58 L351.36 147.78 L351.68 147.97 L352.00 148.16 L352.32 148.34 L352.64 148.52 L352.96 148.69 L353.28 148.85 L353.60 149.01 L353.92 149.16 L354.24 149.31 L354.56 149.45 L354.88 149.59 L355.20 149.72 L355.52 149.85 L355.84 149.97 L356.16 150.10 L356.48 150.21 L356.80 150.33 L357.12 150.44 L357.44 150.55 L357.76 150.65 L358.08 150.75 L358.40 150.85 L358.72 150.95 L359.04 151.04 L359.36 151.14 L359.68 151.22 L360.00 151.31 L360.32 151.40 L360.64 151.48 L360.96 151.56 L361.28 151.64 L361.60 151.71 L361.92 151.79 L362.24 151.86 L362.56 151.93 L362.88 152.00 L363.20 152.07 L363.52 152.13 L363.84 152.20 L364.16 152.26 L364.48 152.32 L364.80 152.38 L365.12 152.44 L365.44 152.50 L365.76 152.55 L366.08 152.61 L366.40 152.66 L366.72 152.71 L367.04 152.76 L367.36 152.81 L367.68 152.86 L368.00 152.91 L368.32 152.96 L368.64 153.00 L368.96 153.05 L369.28 153.09 L369.60 153.13 L369.92 153.17 L370.24 153.22 L370.56 153.25 L370.88 153.29 L371.20 153.33 L371.52 153.37 L371.84 153.41 L372.16 153.44 L372.48 153.48 L372.80 153.51 L373.12 153.54 L373.44 153.58 L373.76 153.61 L374.08 153.64 L374.40 153.67 L374.72 153.70 L375.04 153.70 L375.36 153.70 L375.68 153.70 L376.00 153.70 L376.32 153.70 L376.64 153.70 L376.96 153.70 L377.28 153.70 L377.60 153.70 L377.92 153.70 L378.24 153.70 L378.56 153.70 L378.88 153.70 L379.20 153.70 L379.52 153.70 L379.84 153.70 L380.16 153.70 L380.48 153.70 L380.80 153.70 L381.12 153.70 L381.44 153.70 L381.76 153.70 L382.08 153.70 L382.40 153.70 L382.72 153.70 L383.04 153.70 L383.36 153.70 L383.68 153.70 L384.00 153.70 L384.32 153.70 L384.64 153.70 L384.96 153.70 L385.28 153.70 L385.60 153.70 L385.92 153.70 L386.24 153.70 L386.56 153.70 L386.88 153.70 L387.20 153.70 L387.52 153.70 L387.84 153.70 L388.16 153.70 L388.48 153.70 L388.80 153.70 L389.12 153.70 L389.44 153.70 L389.76 153.70 L390.08 153.70 L390.40 153.70 L390.72 153.70 L391.04 153.70 L391.36 153.70 L391.68 153.70 L392.00 153.70 L392.32 153.70 L392.64 153.70 L392.96 153.70 L393.28 153.70 L393.60 153.70 L393.92 153.70 L394.24 153.70 L394.56 153.70 L394.88 153.70 L395.20 153.70 L395.52 153.70 L395.84 153.70 L396.16 153.70 L396.48 153.70 L396.80 153.70 L397.12 153.70 L397.44 153.70 L397.76 153.70 L398.08 153.70 L398.40 153.70 L398.72 153.70 L399.04 153.70 L399.36 153.70 L399.68 153.70 L400.00 153.70 L400.32 153.70 L400.64 153.70 L400.96 153.70 L401.28 153.70 L401.60 153.70 L401.92 153.70 L402.24 153.70 L402.56 153.70 L402.88 153.70 L403.20 153.70 L403.52 153.70 L403.84 153.70 L404.16 153.70 L404.48 153.70 L404.80 153.70 L405.12 153.70 L405.44 153.70 L405.76 153.70 L406.08 153.70 L406.40 153.70 L406.72 153.70 L407.04 153.70 L407.36 153.70 L407.68 153.70 L408.00 153.70 L408.32 153.70 L408.64 153.70 L408.96 153.70 L409.28 153.70 L409.60 153.70 L409.92 153.70 L410.24 153.70 L410.56 153.70 L410.88 153.70 L411.20 153.70 L411.52 153.70 L411.84 153.70 L412.16 153.70 L412.48 153.70 L412.80 153.70 L413.12 153.70 L413.44 153.70 L413.76 153.70 L414.08 153.70 L414.40 153.70 L414.72 153.70 L415.04 153.70 L415.36 153.70 L415.68 153.70 L416.00 153.70 L416.32 153.70 L416.64 153.70 L416.96 153.70 L417.28 153.70 L417.60 153.70 L417.92 153.70 L418.24 153.70 L418.56 153.70 L418.88 153.70 L419.20 153.70 L419.52 153.70 L419.84 153.70 L420.16 153.70 L420.48 153.70 L420.80 153.70 L421.12 153.70 L421.44 153.70 L421.76 153.70 L422.08 153.70 L422.40 153.70 L422.72 153.70 L423.04 153.70 L423.36 153.70 L423.68 153.70 L424.00 153.70 L424.32 153.70 L424.64 153.70 L424.96 153.70 L425.28 153.70 L425.60 153.70 L425.92 153.70 L426.24 153.70 L426.56 153.70 L426.88 153.70 L427.20 153.70 L427.52 153.70 L427.84 153.70 L428.16 153.70 L428.48 153.70 L428.80 153.70 L429.12 153.70 L429.44 153.70 L429.76 153.70 L430.08 153.70 L430.40 153.70 L430.72 153.70 L431.04 153.70 L431.36 153.70 L431.68 153.70 L432.00 153.70 L432.32 153.70 L432.64 153.70 L432.96 153.70 L433.28 153.70 L433.60 153.70 L433.92 153.70 L434.24 153.70 L434.56 153.70 L434.88 153.70 L435.20 153.70 L435.52 153.70 L435.84 153.70 L436.16 153.70 L436.48 153.70 L436.80 153.70 L437.12 153.70 L437.44 153.70 L437.76 153.70 L438.08 153.70 L438.40 153.70 L438.72 153.70 L439.04 153.70 L439.36 153.70 L439.68 153.70 L440.00 153.70 L440.32 153.70 L440.64 153.70 L440.96 153.70 L441.28 153.70 L441.60 153.70 L441.92 153.70 L442.24 153.70 L442.56 153.70 L442.88 153.70 L443.20 153.70 L443.20 153.70" fill="none" stroke="#2f6fe0" stroke-width="1.15" stroke-linejoin="round" />
<path d="M281.60 153.46 L281.92 153.44 L282.24 153.42 L282.56 153.39 L282.88 153.36 L283.20 153.33 L283.52 153.30 L283.84 153.26 L284.16 153.22 L284.48 153.18 L284.80 153.13 L285.12 153.08 L285.44 153.03 L285.76 152.97 L286.08 152.91 L286.40 152.85 L286.72 152.78 L287.04 152.71 L287.36 152.63 L287.68 152.54 L288.00 152.45 L288.32 152.35 L288.64 152.24 L288.96 152.12 L289.28 151.99 L289.60 151.84 L289.92 151.67 L290.24 151.49 L290.56 151.28 L290.88 151.05 L291.20 150.79 L291.52 150.50 L291.84 150.19 L292.16 149.85 L292.48 149.50 L292.80 149.13 L293.12 148.76 L293.44 148.40 L293.76 148.06 L294.08 147.74 L294.40 147.44 L294.72 147.18 L295.04 146.94 L295.36 146.73 L295.68 146.52 L296.00 146.33 L296.32 146.12 L296.64 145.90 L296.96 145.66 L297.28 145.38 L297.60 145.07 L297.92 144.72 L298.24 144.33 L298.56 143.91 L298.88 143.44 L299.20 142.94 L299.52 142.41 L299.84 141.84 L300.16 141.23 L300.48 140.59 L300.80 139.91 L301.12 139.19 L301.44 138.43 L301.76 137.62 L302.08 136.76 L302.40 135.86 L302.72 134.89 L303.04 133.86 L303.36 132.77 L303.68 131.60 L304.00 130.36 L304.32 129.03 L304.64 127.61 L304.96 126.10 L305.28 124.48 L305.60 122.76 L305.92 120.93 L306.24 118.98 L306.56 116.90 L306.88 114.71 L307.20 112.38 L307.52 109.93 L307.84 107.34 L308.16 104.62 L308.48 101.77 L308.80 98.80 L309.12 95.71 L309.44 92.51 L309.76 89.20 L310.08 85.79 L310.40 82.31 L310.72 78.76 L311.04 75.16 L311.36 71.52 L311.68 67.88 L312.00 64.24 L312.32 60.64 L312.64 57.09 L312.96 53.63 L313.28 50.27 L313.60 47.05 L313.92 43.99 L314.24 41.11 L314.56 38.43 L314.88 35.99 L315.20 33.81 L315.52 31.89 L315.84 30.27 L316.16 28.95 L316.48 27.95 L316.80 27.28 L317.12 26.94 L317.30 27.00 L317.41 27.11 L317.54 27.23 L317.70 27.37 L317.87 27.52 L318.06 27.69 L318.26 27.88 L318.47 28.08 L318.69 28.31 L318.90 28.57 L319.11 28.85 L319.31 29.16 L319.50 29.50 L319.68 29.87 L319.86 30.28 L320.03 30.71 L320.20 31.17 L320.37 31.66 L320.54 32.16 L320.72 32.69 L320.90 33.23 L321.09 33.78 L321.28 34.35 L321.49 34.92 L321.70 35.50 L321.93 36.10 L322.16 36.73 L322.41 37.38 L322.66 38.05 L322.92 38.74 L323.19 39.43 L323.46 40.13 L323.73 40.81 L324.00 41.49 L324.27 42.15 L324.54 42.79 L324.80 43.40 L325.06 43.98 L325.32 44.54 L325.58 45.09 L325.84 45.62 L326.11 46.14 L326.37 46.65 L326.63 47.16 L326.90 47.66 L327.17 48.16 L327.44 48.67 L327.72 49.18 L328.00 49.70 L328.28 50.21 L328.56 50.68 L328.85 51.13 L329.13 51.58 L329.42 52.02 L329.71 52.48 L330.00 52.95 L330.30 53.46 L330.61 54.00 L330.93 54.60 L331.26 55.26 L331.60 56.00 L331.96 56.81 L332.33 57.67 L332.72 58.60 L333.12 59.57 L333.53 60.58 L333.94 61.62 L334.35 62.70 L334.76 63.80 L335.16 64.92 L335.56 66.04 L335.94 67.17 L336.30 68.30 L336.65 69.43 L336.99 70.58 L337.31 71.74 L337.63 72.92 L337.95 74.11 L338.26 75.32 L338.56 76.55 L338.87 77.80 L339.17 79.07 L339.48 80.36 L339.79 81.67 L340.10 83.00 L340.42 84.37 L340.74 85.80 L341.07 87.27 L341.39 88.77 L341.72 90.30 L342.04 91.83 L342.37 93.35 L342.69 94.86 L343.00 96.34 L343.31 97.78 L343.61 99.17 L343.90 100.50 L344.18 101.77 L344.45 103.00 L344.71 104.19 L344.97 105.35 L345.22 106.48 L345.47 107.59 L345.72 108.68 L345.96 109.76 L346.21 110.82 L346.47 111.88 L346.73 112.94 L347.00 114.00 L347.28 115.07 L347.56 116.14 L347.85 117.21 L348.14 118.28 L348.43 119.34 L348.73 120.38 L349.02 121.40 L349.32 122.40 L349.62 123.36 L349.91 124.28 L350.21 125.17 L350.50 126.00 L350.78 126.78 L351.05 127.52 L351.30 128.22 L351.55 128.87 L351.80 129.50 L352.06 130.10 L352.32 130.68 L352.60 131.24 L352.91 131.78 L353.24 132.32 L353.60 132.86 L354.00 133.40 L354.45 133.94 L354.93 134.49 L355.46 135.04 L356.01 135.58 L356.59 136.10 L357.18 136.61 L357.78 137.10 L358.37 137.56 L358.96 137.98 L359.53 138.37 L360.08 138.71 L360.60 139.00 L361.09 139.24 L361.58 139.43 L362.05 139.57 L362.51 139.67 L362.97 139.74 L363.41 139.78 L363.85 139.80 L364.29 139.81 L364.72 139.80 L365.15 139.80 L365.57 139.79 L366.00 139.80 L366.41 139.80 L366.80 139.78 L367.18 139.74 L367.54 139.69 L367.90 139.63 L368.26 139.57 L368.63 139.50 L369.01 139.44 L369.42 139.39 L369.84 139.34 L370.30 139.31 L370.80 139.30 L371.34 139.31 L371.93 139.35 L372.55 139.39 L373.20 139.46 L373.87 139.52 L374.55 139.59 L375.23 139.66 L375.91 139.72 L376.58 139.77 L377.22 139.80 L377.83 139.81 L378.40 139.80 L378.93 139.76 L379.43 139.71 L379.91 139.63 L380.36 139.55 L380.80 139.45 L381.24 139.34 L381.67 139.23 L382.10 139.11 L382.55 138.98 L383.01 138.85 L383.49 138.73 L384.00 138.60 L384.52 138.47 L385.02 138.33 L385.52 138.19 L386.01 138.04 L386.52 137.89 L387.05 137.74 L387.60 137.58 L388.19 137.42 L388.81 137.26 L389.48 137.11 L390.21 136.95 L391.00 136.80 L391.86 136.64 L392.80 136.46 L393.79 136.27 L394.84 136.07 L395.93 135.88 L397.04 135.69 L398.18 135.51 L399.33 135.35 L400.47 135.21 L401.61 135.10 L402.72 135.03 L403.80 135.00 L404.87 135.01 L405.95 135.05 L407.04 135.12 L408.14 135.21 L409.23 135.33 L410.32 135.47 L411.40 135.63 L412.46 135.80 L413.51 135.99 L414.53 136.18 L415.53 136.39 L416.50 136.60 L417.44 136.83 L418.38 137.10 L419.29 137.40 L420.20 137.71 L421.08 138.05 L421.94 138.38 L422.79 138.72 L423.60 139.04 L424.40 139.35 L425.16 139.63 L425.90 139.89 L426.60 140.10 L427.27 140.27 L427.90 140.40 L428.49 140.49 L429.06 140.57 L429.60 140.62 L430.12 140.67 L430.62 140.71 L431.11 140.77 L431.59 140.83 L432.06 140.92 L432.53 141.04 L433.00 141.20 L433.47 141.40 L433.91 141.62 L434.35 141.88 L434.77 142.15 L435.18 142.44 L435.58 142.73 L435.98 143.03 L436.38 143.33 L436.78 143.62 L437.18 143.90 L437.58 144.16 L438.00 144.40 L438.43 144.62 L438.89 144.82 L439.36 145.00 L439.83 145.18 L440.31 145.35 L440.78 145.52 L441.24 145.68 L441.68 145.85 L442.09 146.02 L442.47 146.20 L442.81 146.40 L443.10 146.60 L443.34 146.81 L443.55 147.03 L443.71 147.25 L443.85 147.47 L443.96 147.70 L444.04 147.94 L444.11 148.18 L444.17 148.43 L444.23 148.68 L444.28 148.94 L444.34 149.22 L444.40 149.50 L444.47 149.81 L444.52 150.15 L444.57 150.52 L444.61 150.90 L444.65 151.29 L444.68 151.68 L444.71 152.06 L444.73 152.42 L444.75 152.76 L444.77 153.05 L444.78 153.30 L444.80 153.50" fill="none" stroke="#6a1fc0" stroke-width="1.25" stroke-linejoin="round" />
</g>
<line x1="281.50" y1="18.50" x2="281.50" y2="160.20" stroke="#2a2a2a" stroke-width="1.0" />
<line x1="281.00" y1="18.50" x2="469.30" y2="18.50" stroke="#2a2a2a" stroke-width="1.0" />
<line x1="281.00" y1="160.20" x2="469.30" y2="160.20" stroke="#2a2a2a" stroke-width="1.0" />
<line x1="468.80" y1="18.50" x2="468.80" y2="160.20" stroke="#2a2a2a" stroke-width="1.1" />
<line x1="276.90" y1="153.70" x2="281.50" y2="153.70" stroke="#2a2a2a" stroke-width="0.9" />
<line x1="278.50" y1="141.02" x2="281.50" y2="141.02" stroke="#2a2a2a" stroke-width="0.9" />
<line x1="278.50" y1="128.34" x2="281.50" y2="128.34" stroke="#2a2a2a" stroke-width="0.9" />
<line x1="278.50" y1="115.66" x2="281.50" y2="115.66" stroke="#2a2a2a" stroke-width="0.9" />
<line x1="278.50" y1="102.98" x2="281.50" y2="102.98" stroke="#2a2a2a" stroke-width="0.9" />
<line x1="276.90" y1="90.30" x2="281.50" y2="90.30" stroke="#2a2a2a" stroke-width="0.9" />
<line x1="278.50" y1="77.62" x2="281.50" y2="77.62" stroke="#2a2a2a" stroke-width="0.9" />
<line x1="278.50" y1="64.94" x2="281.50" y2="64.94" stroke="#2a2a2a" stroke-width="0.9" />
<line x1="278.50" y1="52.26" x2="281.50" y2="52.26" stroke="#2a2a2a" stroke-width="0.9" />
<line x1="278.50" y1="39.58" x2="281.50" y2="39.58" stroke="#2a2a2a" stroke-width="0.9" />
<line x1="276.90" y1="26.90" x2="281.50" y2="26.90" stroke="#2a2a2a" stroke-width="0.9" />
<line x1="288.00" y1="160.20" x2="288.00" y2="163.20" stroke="#2a2a2a" stroke-width="0.9" />
<line x1="304.00" y1="160.20" x2="304.00" y2="165.20" stroke="#2a2a2a" stroke-width="0.9" />
<line x1="320.00" y1="160.20" x2="320.00" y2="163.20" stroke="#2a2a2a" stroke-width="0.9" />
<line x1="336.00" y1="160.20" x2="336.00" y2="165.20" stroke="#2a2a2a" stroke-width="0.9" />
<line x1="352.00" y1="160.20" x2="352.00" y2="163.20" stroke="#2a2a2a" stroke-width="0.9" />
<line x1="368.00" y1="160.20" x2="368.00" y2="165.20" stroke="#2a2a2a" stroke-width="0.9" />
<line x1="384.00" y1="160.20" x2="384.00" y2="163.20" stroke="#2a2a2a" stroke-width="0.9" />
<line x1="400.00" y1="160.20" x2="400.00" y2="165.20" stroke="#2a2a2a" stroke-width="0.9" />
<line x1="416.00" y1="160.20" x2="416.00" y2="163.20" stroke="#2a2a2a" stroke-width="0.9" />
<line x1="432.00" y1="160.20" x2="432.00" y2="165.20" stroke="#2a2a2a" stroke-width="0.9" />
<line x1="448.00" y1="160.20" x2="448.00" y2="163.20" stroke="#2a2a2a" stroke-width="0.9" />
<line x1="464.00" y1="160.20" x2="464.00" y2="165.20" stroke="#2a2a2a" stroke-width="0.9" />
<line x1="284.19" y1="18.50" x2="284.19" y2="21.10" stroke="#2a2a2a" stroke-width="0.9" />
<line x1="287.04" y1="18.50" x2="287.04" y2="21.10" stroke="#2a2a2a" stroke-width="0.9" />
<line x1="289.95" y1="18.50" x2="289.95" y2="21.10" stroke="#2a2a2a" stroke-width="0.9" />
<line x1="292.94" y1="18.50" x2="292.94" y2="21.10" stroke="#2a2a2a" stroke-width="0.9" />
<line x1="296.00" y1="18.50" x2="296.00" y2="23.10" stroke="#2a2a2a" stroke-width="0.9" />
<line x1="299.14" y1="18.50" x2="299.14" y2="21.10" stroke="#2a2a2a" stroke-width="0.9" />
<line x1="302.36" y1="18.50" x2="302.36" y2="21.10" stroke="#2a2a2a" stroke-width="0.9" />
<line x1="305.66" y1="18.50" x2="305.66" y2="21.10" stroke="#2a2a2a" stroke-width="0.9" />
<line x1="309.05" y1="18.50" x2="309.05" y2="21.10" stroke="#2a2a2a" stroke-width="0.9" />
<line x1="312.53" y1="18.50" x2="312.53" y2="23.10" stroke="#2a2a2a" stroke-width="0.9" />
<line x1="316.11" y1="18.50" x2="316.11" y2="21.10" stroke="#2a2a2a" stroke-width="0.9" />
<line x1="319.78" y1="18.50" x2="319.78" y2="21.10" stroke="#2a2a2a" stroke-width="0.9" />
<line x1="323.56" y1="18.50" x2="323.56" y2="21.10" stroke="#2a2a2a" stroke-width="0.9" />
<line x1="327.44" y1="18.50" x2="327.44" y2="21.10" stroke="#2a2a2a" stroke-width="0.9" />
<line x1="331.43" y1="18.50" x2="331.43" y2="23.10" stroke="#2a2a2a" stroke-width="0.9" />
<line x1="335.54" y1="18.50" x2="335.54" y2="21.10" stroke="#2a2a2a" stroke-width="0.9" />
<line x1="339.76" y1="18.50" x2="339.76" y2="21.10" stroke="#2a2a2a" stroke-width="0.9" />
<line x1="344.12" y1="18.50" x2="344.12" y2="21.10" stroke="#2a2a2a" stroke-width="0.9" />
<line x1="348.61" y1="18.50" x2="348.61" y2="21.10" stroke="#2a2a2a" stroke-width="0.9" />
<line x1="353.23" y1="18.50" x2="353.23" y2="23.10" stroke="#2a2a2a" stroke-width="0.9" />
<line x1="358.00" y1="18.50" x2="358.00" y2="21.10" stroke="#2a2a2a" stroke-width="0.9" />
<line x1="362.92" y1="18.50" x2="362.92" y2="21.10" stroke="#2a2a2a" stroke-width="0.9" />
<line x1="368.00" y1="18.50" x2="368.00" y2="21.10" stroke="#2a2a2a" stroke-width="0.9" />
<line x1="373.25" y1="18.50" x2="373.25" y2="21.10" stroke="#2a2a2a" stroke-width="0.9" />
<line x1="378.67" y1="18.50" x2="378.67" y2="23.10" stroke="#2a2a2a" stroke-width="0.9" />
<line x1="384.27" y1="18.50" x2="384.27" y2="21.10" stroke="#2a2a2a" stroke-width="0.9" />
<line x1="390.07" y1="18.50" x2="390.07" y2="21.10" stroke="#2a2a2a" stroke-width="0.9" />
<line x1="396.07" y1="18.50" x2="396.07" y2="21.10" stroke="#2a2a2a" stroke-width="0.9" />
<line x1="402.29" y1="18.50" x2="402.29" y2="21.10" stroke="#2a2a2a" stroke-width="0.9" />
<line x1="408.73" y1="18.50" x2="408.73" y2="23.10" stroke="#2a2a2a" stroke-width="0.9" />
<line x1="415.41" y1="18.50" x2="415.41" y2="21.10" stroke="#2a2a2a" stroke-width="0.9" />
<line x1="422.34" y1="18.50" x2="422.34" y2="21.10" stroke="#2a2a2a" stroke-width="0.9" />
<line x1="429.54" y1="18.50" x2="429.54" y2="21.10" stroke="#2a2a2a" stroke-width="0.9" />
<line x1="437.02" y1="18.50" x2="437.02" y2="21.10" stroke="#2a2a2a" stroke-width="0.9" />
<line x1="444.80" y1="18.50" x2="444.80" y2="23.10" stroke="#2a2a2a" stroke-width="0.9" />
<line x1="452.90" y1="18.50" x2="452.90" y2="21.10" stroke="#2a2a2a" stroke-width="0.9" />
<line x1="461.33" y1="18.50" x2="461.33" y2="21.10" stroke="#2a2a2a" stroke-width="0.9" />
<text x="275.00" y="30.50" font-size="12.6" text-anchor="end" textLength="14.80" lengthAdjust="spacingAndGlyphs" >1.0</text>
<text x="275.00" y="93.90" font-size="12.6" text-anchor="end" textLength="14.80" lengthAdjust="spacingAndGlyphs" >0.5</text>
<text x="275.00" y="157.30" font-size="12.6" text-anchor="end" textLength="14.80" lengthAdjust="spacingAndGlyphs" >0.0</text>
<text x="304.60" y="179.40" font-size="12.4" text-anchor="middle" textLength="15.00" lengthAdjust="spacingAndGlyphs" >1.6</text>
<text x="336.60" y="179.40" font-size="12.4" text-anchor="middle" textLength="15.00" lengthAdjust="spacingAndGlyphs" >1.8</text>
<text x="368.60" y="179.40" font-size="12.4" text-anchor="middle" textLength="15.00" lengthAdjust="spacingAndGlyphs" >2.0</text>
<text x="400.60" y="179.40" font-size="12.4" text-anchor="middle" textLength="15.00" lengthAdjust="spacingAndGlyphs" >2.2</text>
<text x="432.60" y="179.40" font-size="12.4" text-anchor="middle" textLength="15.00" lengthAdjust="spacingAndGlyphs" >2.4</text>
<text x="464.60" y="179.40" font-size="12.4" text-anchor="middle" textLength="15.00" lengthAdjust="spacingAndGlyphs" >2.6</text>
<text x="342.80" y="198.50" font-size="14.2" textLength="69.00" lengthAdjust="spacingAndGlyphs" >Energy (eV)</text>
<text x="253.40" y="125.50" font-size="12.8" textLength="82.50" lengthAdjust="spacingAndGlyphs" transform="rotate(-90 253.40 125.50)" >PL (arb.units)</text>
<text x="256.00" y="14.00" font-size="16.4" font-weight="bold" font-family='"Liberation Serif", serif' class="w">(b)</text>
<line x1="437.40" y1="26.60" x2="453.80" y2="26.60" stroke="#1c1c1c" stroke-width="1.7" />
<text x="455.60" y="30.40" font-size="10.6" textLength="5.40" lengthAdjust="spacingAndGlyphs" >0</text>
<line x1="437.40" y1="38.03" x2="453.80" y2="38.03" stroke="#f03060" stroke-width="1.7" />
<text x="455.40" y="41.83" font-size="10.6" textLength="11.60" lengthAdjust="spacingAndGlyphs" >0.1</text>
<line x1="437.40" y1="49.46" x2="453.80" y2="49.46" stroke="#f08428" stroke-width="1.7" />
<text x="455.40" y="53.26" font-size="10.6" textLength="11.60" lengthAdjust="spacingAndGlyphs" >0.2</text>
<line x1="437.40" y1="60.89" x2="453.80" y2="60.89" stroke="#f0d020" stroke-width="1.7" />
<text x="455.40" y="64.69" font-size="10.6" textLength="11.60" lengthAdjust="spacingAndGlyphs" >0.3</text>
<line x1="437.40" y1="72.32" x2="453.80" y2="72.32" stroke="#8c9a30" stroke-width="1.7" />
<text x="455.40" y="76.12" font-size="10.6" textLength="11.60" lengthAdjust="spacingAndGlyphs" >0.4</text>
<line x1="437.40" y1="83.75" x2="453.80" y2="83.75" stroke="#66d438" stroke-width="1.7" />
<text x="455.40" y="87.55" font-size="10.6" textLength="11.60" lengthAdjust="spacingAndGlyphs" >0.5</text>
<line x1="437.40" y1="95.18" x2="453.80" y2="95.18" stroke="#2ea048" stroke-width="1.7" />
<text x="455.40" y="98.98" font-size="10.6" textLength="11.60" lengthAdjust="spacingAndGlyphs" >0.6</text>
<line x1="437.40" y1="106.61" x2="453.80" y2="106.61" stroke="#30b48c" stroke-width="1.7" />
<text x="455.40" y="110.41" font-size="10.6" textLength="11.60" lengthAdjust="spacingAndGlyphs" >0.7</text>
<line x1="437.40" y1="118.04" x2="453.80" y2="118.04" stroke="#2f6fe0" stroke-width="1.7" />
<text x="455.40" y="121.84" font-size="10.6" textLength="11.60" lengthAdjust="spacingAndGlyphs" >0.8</text>
<line x1="437.40" y1="129.47" x2="453.80" y2="129.47" stroke="#6a1fc0" stroke-width="1.7" />
<text x="455.40" y="133.27" font-size="10.6" textLength="11.60" lengthAdjust="spacingAndGlyphs" >0.9</text>
<line x1="437.40" y1="140.90" x2="453.80" y2="140.90" stroke="#7a7a7a" stroke-width="1.7" />
<text x="455.40" y="144.70" font-size="10.6" textLength="11.60" lengthAdjust="spacingAndGlyphs" >1.0</text>
<text x="424.80" y="30.00" font-size="10" textLength="4.60" lengthAdjust="spacingAndGlyphs" font-style="italic" >x</text>
<text x="430.60" y="29.80" font-size="10" textLength="5.00" lengthAdjust="spacingAndGlyphs" >=</text>
</g>
<g id="pc">
<line x1="71.00" y1="255.00" x2="71.00" y2="387.60" stroke="#8a8a8a" stroke-width="1.1" />
<line x1="42.20" y1="282.30" x2="222.00" y2="282.30" stroke="#6a6a6a" stroke-width="1.0" />
<line x1="42.20" y1="254.50" x2="42.20" y2="387.60" stroke="#4a4a4a" stroke-width="1.0" />
<line x1="41.70" y1="387.60" x2="222.00" y2="387.60" stroke="#2a2a2a" stroke-width="1.0" />
<line x1="38.60" y1="255.80" x2="42.20" y2="255.80" stroke="#2a2a2a" stroke-width="0.9" />
<text x="38.60" y="258.90" font-size="10.6" text-anchor="end" textLength="5.20" lengthAdjust="spacingAndGlyphs" >5</text>
<line x1="38.60" y1="282.30" x2="42.20" y2="282.30" stroke="#2a2a2a" stroke-width="0.9" />
<text x="38.60" y="285.40" font-size="10.6" text-anchor="end" textLength="5.20" lengthAdjust="spacingAndGlyphs" >0</text>
<line x1="38.60" y1="308.80" x2="42.20" y2="308.80" stroke="#2a2a2a" stroke-width="0.9" />
<text x="38.60" y="311.90" font-size="10.6" text-anchor="end" textLength="8.60" lengthAdjust="spacingAndGlyphs" >-5</text>
<line x1="38.60" y1="335.30" x2="42.20" y2="335.30" stroke="#2a2a2a" stroke-width="0.9" />
<text x="38.60" y="338.40" font-size="10.6" text-anchor="end" textLength="14.00" lengthAdjust="spacingAndGlyphs" >-10</text>
<line x1="38.60" y1="361.80" x2="42.20" y2="361.80" stroke="#2a2a2a" stroke-width="0.9" />
<text x="38.60" y="364.90" font-size="10.6" text-anchor="end" textLength="14.00" lengthAdjust="spacingAndGlyphs" >-15</text>
<line x1="38.60" y1="388.30" x2="42.20" y2="388.30" stroke="#2a2a2a" stroke-width="0.9" />
<text x="38.60" y="391.40" font-size="10.6" text-anchor="end" textLength="14.40" lengthAdjust="spacingAndGlyphs" >-20</text>
<line x1="40.00" y1="269.05" x2="42.20" y2="269.05" stroke="#2a2a2a" stroke-width="0.8" />
<line x1="40.00" y1="295.55" x2="42.20" y2="295.55" stroke="#2a2a2a" stroke-width="0.8" />
<line x1="40.00" y1="322.05" x2="42.20" y2="322.05" stroke="#2a2a2a" stroke-width="0.8" />
<line x1="40.00" y1="348.55" x2="42.20" y2="348.55" stroke="#2a2a2a" stroke-width="0.8" />
<line x1="40.00" y1="375.05" x2="42.20" y2="375.05" stroke="#2a2a2a" stroke-width="0.8" />
<line x1="41.90" y1="387.60" x2="41.90" y2="384.20" stroke="#2a2a2a" stroke-width="0.9" />
<line x1="56.45" y1="387.60" x2="56.45" y2="385.40" stroke="#2a2a2a" stroke-width="0.9" />
<line x1="71.00" y1="387.60" x2="71.00" y2="384.20" stroke="#2a2a2a" stroke-width="0.9" />
<line x1="85.55" y1="387.60" x2="85.55" y2="385.40" stroke="#2a2a2a" stroke-width="0.9" />
<line x1="100.10" y1="387.60" x2="100.10" y2="384.20" stroke="#2a2a2a" stroke-width="0.9" />
<line x1="114.65" y1="387.60" x2="114.65" y2="385.40" stroke="#2a2a2a" stroke-width="0.9" />
<line x1="129.20" y1="387.60" x2="129.20" y2="384.20" stroke="#2a2a2a" stroke-width="0.9" />
<line x1="143.75" y1="387.60" x2="143.75" y2="385.40" stroke="#2a2a2a" stroke-width="0.9" />
<line x1="158.30" y1="387.60" x2="158.30" y2="384.20" stroke="#2a2a2a" stroke-width="0.9" />
<line x1="172.85" y1="387.60" x2="172.85" y2="385.40" stroke="#2a2a2a" stroke-width="0.9" />
<line x1="187.40" y1="387.60" x2="187.40" y2="384.20" stroke="#2a2a2a" stroke-width="0.9" />
<line x1="201.95" y1="387.60" x2="201.95" y2="385.40" stroke="#2a2a2a" stroke-width="0.9" />
<line x1="216.50" y1="387.60" x2="216.50" y2="384.20" stroke="#2a2a2a" stroke-width="0.9" />
<text x="40.00" y="400.20" font-size="10.4" text-anchor="middle" textLength="17.60" lengthAdjust="spacingAndGlyphs" >-0.2</text>
<text x="70.70" y="400.20" font-size="10.4" text-anchor="middle" textLength="13.60" lengthAdjust="spacingAndGlyphs" >0.0</text>
<text x="99.80" y="400.20" font-size="10.4" text-anchor="middle" textLength="13.60" lengthAdjust="spacingAndGlyphs" >0.2</text>
<text x="128.90" y="400.20" font-size="10.4" text-anchor="middle" textLength="13.60" lengthAdjust="spacingAndGlyphs" >0.4</text>
<text x="158.00" y="400.20" font-size="10.4" text-anchor="middle" textLength="13.60" lengthAdjust="spacingAndGlyphs" >0.6</text>
<text x="187.10" y="400.20" font-size="10.4" text-anchor="middle" textLength="13.60" lengthAdjust="spacingAndGlyphs" >0.8</text>
<text x="216.20" y="400.20" font-size="10.4" text-anchor="middle" textLength="13.60" lengthAdjust="spacingAndGlyphs" >1.0</text>
<text x="101.00" y="415.60" font-size="12.4" textLength="62.40" lengthAdjust="spacingAndGlyphs" >Voltage (V)</text>
<text x="17.80" y="386.60" font-size="12.4" textLength="118.00" lengthAdjust="spacingAndGlyphs" transform="rotate(-90 17.80 386.60)" >Current density (mA/cm</text>
<text x="10.60" y="268.00" font-size="8" transform="rotate(-90 10.60 268.00)" >2</text>
<text x="17.80" y="262.60" font-size="12.4" transform="rotate(-90 17.80 262.60)" >)</text>
<text x="5.40" y="230.20" font-size="16.4" font-weight="bold" font-family='"Liberation Serif", serif' class="w">(c)</text>
<path d="M41.70 382.60 L42.11 382.62 L42.63 382.64 L43.25 382.67 L43.94 382.71 L44.69 382.74 L45.48 382.78 L46.28 382.82 L47.10 382.85 L47.89 382.87 L48.65 382.89 L49.36 382.90 L50.00 382.90 L50.57 382.89 L51.11 382.87 L51.61 382.84 L52.10 382.80 L52.56 382.76 L53.02 382.72 L53.47 382.67 L53.94 382.62 L54.41 382.56 L54.91 382.51 L55.44 382.45 L56.00 382.40 L56.60 382.34 L57.23 382.28 L57.88 382.21 L58.56 382.14 L59.24 382.07 L59.94 381.99 L60.64 381.92 L61.33 381.85 L62.02 381.78 L62.70 381.71 L63.36 381.65 L64.00 381.60 L64.57 381.56 L65.07 381.54 L65.50 381.53 L65.90 381.53 L66.29 381.53 L66.71 381.52 L67.16 381.52 L67.69 381.50 L68.31 381.46 L69.05 381.40 L69.94 381.32 L71.00 381.20 L72.24 381.05 L73.65 380.88 L75.20 380.68 L76.87 380.46 L78.63 380.22 L80.46 379.97 L82.35 379.71 L84.26 379.44 L86.17 379.18 L88.06 378.91 L89.91 378.65 L91.70 378.40 L93.45 378.16 L95.21 377.91 L96.97 377.67 L98.73 377.43 L100.50 377.18 L102.28 376.93 L104.05 376.68 L105.82 376.42 L107.60 376.15 L109.37 375.88 L111.14 375.59 L112.90 375.30 L114.70 374.99 L116.54 374.66 L118.43 374.32 L120.33 373.97 L122.23 373.61 L124.11 373.24 L125.96 372.88 L127.75 372.52 L129.47 372.17 L131.09 371.83 L132.61 371.51 L134.00 371.20 L135.25 370.92 L136.38 370.65 L137.39 370.41 L138.31 370.18 L139.17 369.95 L139.96 369.73 L140.72 369.51 L141.46 369.28 L142.20 369.04 L142.96 368.78 L143.75 368.50 L144.60 368.20 L145.48 367.88 L146.36 367.55 L147.25 367.20 L148.13 366.85 L149.01 366.48 L149.89 366.11 L150.77 365.72 L151.65 365.32 L152.52 364.91 L153.39 364.48 L154.25 364.05 L155.10 363.60 L155.95 363.14 L156.78 362.68 L157.61 362.20 L158.44 361.71 L159.26 361.22 L160.08 360.71 L160.90 360.18 L161.71 359.64 L162.53 359.08 L163.35 358.51 L164.17 357.91 L165.00 357.30 L165.83 356.67 L166.66 356.01 L167.50 355.34 L168.34 354.65 L169.17 353.94 L170.01 353.22 L170.85 352.48 L171.69 351.73 L172.52 350.96 L173.35 350.19 L174.18 349.40 L175.00 348.60 L175.82 347.80 L176.64 346.99 L177.45 346.18 L178.26 345.36 L179.07 344.53 L179.88 343.68 L180.69 342.81 L181.49 341.91 L182.30 340.99 L183.10 340.03 L183.90 339.04 L184.70 338.00 L185.51 336.90 L186.33 335.73 L187.15 334.51 L187.98 333.24 L188.81 331.95 L189.63 330.64 L190.44 329.32 L191.24 328.02 L192.02 326.75 L192.78 325.51 L193.50 324.32 L194.20 323.20 L194.86 322.14 L195.50 321.11 L196.11 320.12 L196.70 319.15 L197.27 318.21 L197.82 317.29 L198.37 316.39 L198.90 315.50 L199.43 314.62 L199.95 313.75 L200.47 312.88 L201.00 312.00 L201.53 311.13 L202.05 310.28 L202.57 309.44 L203.08 308.61 L203.59 307.79 L204.09 306.98 L204.58 306.17 L205.06 305.37 L205.54 304.56 L206.00 303.75 L206.46 302.93 L206.90 302.10 L207.33 301.26 L207.75 300.42 L208.16 299.58 L208.56 298.73 L208.95 297.88 L209.33 297.03 L209.71 296.18 L210.07 295.34 L210.44 294.49 L210.79 293.66 L211.15 292.82 L211.50 292.00 L211.85 291.18 L212.19 290.36 L212.52 289.55 L212.85 288.74 L213.17 287.93 L213.49 287.12 L213.80 286.33 L214.11 285.53 L214.41 284.74 L214.71 283.95 L215.01 283.17 L215.30 282.40 L215.59 281.63 L215.87 280.87 L216.15 280.11 L216.43 279.36 L216.70 278.62 L216.96 277.88 L217.23 277.14 L217.49 276.40 L217.74 275.67 L218.00 274.95 L218.25 274.22 L218.50 273.50 L218.76 272.76 L219.02 271.97 L219.29 271.17 L219.57 270.35 L219.84 269.54 L220.10 268.74 L220.35 267.98 L220.59 267.26 L220.81 266.60 L221.00 266.01 L221.17 265.50 L221.30 265.10" fill="none" stroke="#36b84a" stroke-width="1.0" stroke-linejoin="round" />
<path d="M41.7 382.6h0M47.3 382.9h0M52.9 382.7h0M58.5 382.2h0M64.0 381.6h0M69.6 381.3h0M75.2 380.7h0M80.7 379.9h0M86.3 379.2h0M91.8 378.4h0M97.4 377.6h0M102.9 376.8h0M108.5 376.0h0M114.0 375.1h0M119.5 374.1h0M125.0 373.1h0M130.5 372.0h0M136.0 370.8h0M141.4 369.3h0M146.6 367.4h0M151.8 365.3h0M156.8 362.7h0M161.5 359.8h0M166.1 356.5h0M170.4 352.9h0M174.5 349.1h0M178.5 345.2h0M182.3 341.0h0M185.7 336.6h0M188.8 332.0h0M191.7 327.2h0M194.7 322.4h0M197.6 317.6h0M200.5 312.8h0M203.4 308.1h0M206.3 303.3h0M208.8 298.2h0M211.0 293.1h0M213.2 287.9h0M215.2 282.7h0M217.1 277.5h0M219.0 272.2h0M220.7 266.9h0" stroke="#36b84a" stroke-width="2.5" stroke-linecap="round" fill="none"/>
<path d="M71.00 381.60 L72.00 381.42 L73.25 381.20 L74.71 380.94 L76.35 380.65 L78.13 380.33 L80.02 380.00 L81.99 379.65 L84.00 379.30 L86.00 378.96 L87.98 378.62 L89.89 378.30 L91.70 378.00 L93.45 377.72 L95.21 377.46 L96.97 377.20 L98.73 376.95 L100.50 376.70 L102.28 376.45 L104.05 376.20 L105.82 375.94 L107.60 375.68 L109.37 375.40 L111.14 375.11 L112.90 374.80 L114.70 374.47 L116.54 374.12 L118.43 373.76 L120.33 373.38 L122.23 372.99 L124.11 372.60 L125.96 372.21 L127.75 371.82 L129.47 371.44 L131.09 371.08 L132.61 370.73 L134.00 370.40 L135.25 370.10 L136.38 369.82 L137.39 369.56 L138.31 369.32 L139.17 369.09 L139.96 368.86 L140.72 368.62 L141.46 368.38 L142.20 368.12 L142.96 367.84 L143.75 367.54 L144.60 367.20 L145.48 366.84 L146.36 366.46 L147.25 366.07 L148.13 365.66 L149.01 365.24 L149.89 364.81 L150.77 364.36 L151.65 363.89 L152.52 363.41 L153.39 362.92 L154.25 362.42 L155.10 361.90 L155.96 361.36 L156.82 360.80 L157.69 360.22 L158.55 359.63 L159.41 359.02 L160.27 358.39 L161.11 357.76 L161.94 357.13 L162.74 356.49 L163.52 355.86 L164.28 355.23 L165.00 354.60 L165.69 353.98 L166.34 353.37 L166.97 352.75 L167.57 352.14 L168.16 351.53 L168.72 350.91 L169.28 350.28 L169.83 349.65 L170.37 349.01 L170.91 348.35 L171.45 347.68 L172.00 347.00 L172.55 346.30 L173.10 345.57 L173.65 344.83 L174.19 344.08 L174.73 343.32 L175.26 342.55 L175.78 341.78 L176.30 341.01 L176.81 340.24 L177.32 339.48 L177.81 338.73 L178.30 338.00 L178.77 337.29 L179.22 336.59 L179.65 335.91 L180.06 335.24 L180.47 334.57 L180.88 333.90 L181.29 333.23 L181.71 332.54 L182.15 331.84 L182.61 331.12 L183.09 330.38 L183.60 329.60 L184.14 328.79 L184.71 327.96 L185.30 327.10 L185.91 326.23 L186.53 325.34 L187.17 324.44 L187.81 323.53 L188.46 322.61 L189.10 321.70 L189.74 320.79 L190.38 319.89 L191.00 319.00 L191.62 318.12 L192.24 317.25 L192.87 316.39 L193.50 315.53 L194.12 314.67 L194.75 313.81 L195.37 312.94 L195.99 312.07 L196.61 311.18 L197.21 310.27 L197.81 309.35 L198.40 308.40 L198.98 307.43 L199.55 306.45 L200.11 305.45 L200.66 304.44 L201.21 303.42 L201.76 302.39 L202.30 301.34 L202.84 300.29 L203.38 299.23 L203.92 298.16 L204.46 297.08 L205.00 296.00 L205.55 294.91 L206.12 293.81 L206.69 292.69 L207.27 291.57 L207.84 290.43 L208.41 289.29 L208.97 288.15 L209.52 287.00 L210.05 285.85 L210.56 284.70 L211.05 283.55 L211.50 282.40 L211.92 281.25 L212.32 280.09 L212.69 278.92 L213.03 277.75 L213.36 276.58 L213.68 275.41 L213.99 274.24 L214.29 273.07 L214.59 271.91 L214.89 270.76 L215.19 269.62 L215.50 268.50 L215.83 267.35 L216.16 266.14 L216.51 264.90 L216.86 263.65 L217.21 262.40 L217.55 261.18 L217.88 260.01 L218.18 258.91 L218.46 257.89 L218.71 256.99 L218.93 256.22 L219.10 255.60" fill="none" stroke="#ee3858" stroke-width="1.1" stroke-linejoin="round" />
<path d="M71.0 381.6h0M76.5 380.6h0M82.0 379.6h0M87.5 378.7h0M93.1 377.8h0M98.6 377.0h0M104.2 376.2h0M109.7 375.3h0M115.2 374.4h0M120.7 373.3h0M126.2 372.2h0M131.7 370.9h0M137.1 369.6h0M142.5 368.0h0M147.6 365.9h0M152.6 363.4h0M157.4 360.4h0M161.9 357.1h0M166.2 353.5h0M170.0 349.4h0M173.5 345.0h0M176.7 340.4h0M179.7 335.7h0M182.7 331.0h0M185.8 326.3h0M189.1 321.8h0M192.3 317.2h0M195.6 312.7h0M198.7 308.0h0M201.4 303.1h0M203.9 298.1h0M206.5 293.1h0M209.0 288.1h0M211.3 283.0h0M213.0 277.7h0M214.5 272.3h0M216.0 266.9h0M217.5 261.5h0M219.0 256.1h0" stroke="#ee3858" stroke-width="2.5" stroke-linecap="round" fill="none"/>
<path d="M71.00 376.40 L71.49 376.16 L72.09 375.87 L72.80 375.52 L73.60 375.14 L74.47 374.72 L75.39 374.27 L76.34 373.80 L77.32 373.33 L78.30 372.85 L79.27 372.38 L80.21 371.93 L81.10 371.50 L81.97 371.08 L82.84 370.65 L83.71 370.22 L84.60 369.79 L85.48 369.35 L86.37 368.92 L87.26 368.49 L88.15 368.06 L89.04 367.63 L89.93 367.21 L90.82 366.80 L91.70 366.40 L92.59 366.01 L93.49 365.64 L94.40 365.27 L95.31 364.91 L96.23 364.56 L97.14 364.21 L98.04 363.85 L98.93 363.50 L99.80 363.14 L100.66 362.77 L101.49 362.39 L102.30 362.00 L103.06 361.61 L103.78 361.24 L104.45 360.88 L105.10 360.52 L105.74 360.16 L106.37 359.78 L107.01 359.38 L107.66 358.96 L108.35 358.49 L109.08 357.98 L109.86 357.42 L110.70 356.80 L111.61 356.12 L112.59 355.39 L113.62 354.62 L114.69 353.80 L115.79 352.95 L116.91 352.07 L118.04 351.16 L119.16 350.22 L120.27 349.26 L121.36 348.28 L122.40 347.30 L123.40 346.30 L124.36 345.29 L125.29 344.25 L126.20 343.20 L127.09 342.12 L127.97 341.02 L128.83 339.91 L129.69 338.77 L130.54 337.61 L131.40 336.44 L132.26 335.24 L133.12 334.03 L134.00 332.80 L134.89 331.54 L135.79 330.23 L136.70 328.88 L137.61 327.50 L138.53 326.11 L139.44 324.71 L140.34 323.30 L141.23 321.91 L142.10 320.53 L142.96 319.18 L143.79 317.87 L144.60 316.60 L145.39 315.35 L146.19 314.08 L146.98 312.82 L147.76 311.56 L148.52 310.32 L149.27 309.11 L149.99 307.93 L150.67 306.81 L151.32 305.74 L151.93 304.74 L152.49 303.83 L153.00 303.00 L153.43 302.31 L153.76 301.78 L154.02 301.37 L154.23 301.06 L154.39 300.80 L154.54 300.57 L154.69 300.33 L154.86 300.06 L155.07 299.71 L155.33 299.25 L155.67 298.66 L156.10 297.90 L156.62 296.96 L157.22 295.89 L157.87 294.70 L158.57 293.41 L159.31 292.05 L160.08 290.64 L160.86 289.20 L161.65 287.76 L162.43 286.34 L163.18 284.95 L163.91 283.63 L164.60 282.40 L165.25 281.24 L165.88 280.11 L166.50 279.02 L167.11 277.94 L167.71 276.89 L168.30 275.85 L168.89 274.81 L169.49 273.78 L170.10 272.73 L170.72 271.68 L171.35 270.60 L172.00 269.50 L172.70 268.33 L173.45 267.08 L174.25 265.77 L175.07 264.43 L175.89 263.08 L176.71 261.74 L177.51 260.46 L178.26 259.24 L178.95 258.12 L179.56 257.12 L180.09 256.27 L180.50 255.60" fill="none" stroke="#2fae86" stroke-width="1.0" stroke-linejoin="round" />
<path d="M71.0 376.4h0M73.9 375.0h0M76.8 373.6h0M79.6 372.2h0M82.5 370.8h0M85.4 369.4h0M88.3 368.0h0M91.2 366.6h0M94.1 365.4h0M97.1 364.2h0M100.1 363.0h0M103.0 361.7h0M105.8 360.1h0M108.5 358.4h0M111.0 356.5h0M113.6 354.6h0M116.1 352.7h0M118.6 350.7h0M121.0 348.6h0M123.4 346.3h0M125.5 344.0h0M127.6 341.5h0M129.5 339.0h0M131.4 336.4h0M133.3 333.8h0M135.1 331.2h0M136.9 328.6h0M138.7 325.9h0M140.4 323.2h0M142.1 320.5h0M143.8 317.8h0M145.6 315.1h0M147.3 312.4h0M148.9 309.6h0M150.6 306.9h0M152.3 304.2h0M154.0 301.5h0M155.6 298.7h0M157.2 295.9h0M158.7 293.1h0M160.3 290.3h0M161.8 287.5h0M163.3 284.7h0M164.9 281.9h0M166.4 279.1h0M168.0 276.3h0M169.6 273.6h0M171.2 270.8h0M172.9 268.1h0M174.5 265.3h0M176.2 262.6h0M177.9 259.9h0M179.6 257.1h0" stroke="#2fae86" stroke-width="2.2" stroke-linecap="round" fill="none"/>
<path d="M71.00 381.50 L71.11 381.30 L71.25 381.05 L71.40 380.75 L71.57 380.41 L71.76 380.05 L71.97 379.67 L72.19 379.28 L72.43 378.89 L72.68 378.50 L72.94 378.14 L73.21 377.80 L73.50 377.50 L73.81 377.23 L74.15 376.96 L74.52 376.71 L74.90 376.46 L75.30 376.23 L75.71 376.00 L76.12 375.78 L76.53 375.57 L76.93 375.37 L77.31 375.17 L77.67 374.98 L78.00 374.80 L78.30 374.63 L78.58 374.49 L78.83 374.36 L79.07 374.24 L79.30 374.13 L79.53 374.02 L79.75 373.91 L79.99 373.80 L80.23 373.67 L80.50 373.53 L80.78 373.38 L81.10 373.20 L81.44 373.00 L81.80 372.78 L82.18 372.55 L82.57 372.30 L82.97 372.05 L83.39 371.79 L83.81 371.52 L84.24 371.25 L84.68 370.98 L85.12 370.72 L85.56 370.45 L86.00 370.20 L86.43 369.95 L86.85 369.72 L87.25 369.48 L87.66 369.25 L88.07 369.02 L88.49 368.79 L88.94 368.55 L89.41 368.30 L89.91 368.05 L90.46 367.78 L91.05 367.50 L91.70 367.20 L92.42 366.88 L93.21 366.55 L94.06 366.21 L94.95 365.86 L95.88 365.50 L96.83 365.13 L97.79 364.75 L98.75 364.36 L99.69 363.97 L100.60 363.58 L101.48 363.19 L102.30 362.80 L103.08 362.41 L103.84 362.01 L104.58 361.60 L105.30 361.19 L106.01 360.78 L106.71 360.36 L107.39 359.94 L108.06 359.52 L108.73 359.09 L109.39 358.66 L110.05 358.23 L110.70 357.80 L111.35 357.36 L112.00 356.92 L112.65 356.47 L113.29 356.02 L113.92 355.57 L114.54 355.11 L115.15 354.66 L115.75 354.20 L116.33 353.75 L116.91 353.29 L117.46 352.84 L118.00 352.40 L118.50 351.99 L118.95 351.62 L119.36 351.28 L119.75 350.96 L120.12 350.63 L120.49 350.30 L120.88 349.94 L121.29 349.53 L121.73 349.07 L122.22 348.54 L122.77 347.92 L123.40 347.20 L124.10 346.38 L124.87 345.47 L125.68 344.49 L126.55 343.44 L127.45 342.33 L128.38 341.17 L129.32 339.98 L130.27 338.76 L131.23 337.52 L132.17 336.28 L133.10 335.03 L134.00 333.80 L134.89 332.55 L135.79 331.25 L136.70 329.92 L137.61 328.56 L138.53 327.19 L139.44 325.80 L140.34 324.41 L141.23 323.04 L142.10 321.68 L142.96 320.35 L143.79 319.05 L144.60 317.80 L145.39 316.57 L146.17 315.35 L146.93 314.13 L147.69 312.92 L148.43 311.73 L149.15 310.56 L149.85 309.43 L150.53 308.33 L151.19 307.27 L151.82 306.26 L152.43 305.30 L153.00 304.40 L153.52 303.60 L153.98 302.90 L154.39 302.30 L154.77 301.76 L155.12 301.26 L155.46 300.78 L155.80 300.29 L156.16 299.78 L156.54 299.22 L156.97 298.58 L157.45 297.85 L158.00 297.00 L158.62 296.03 L159.29 294.97 L160.01 293.83 L160.77 292.63 L161.56 291.38 L162.37 290.09 L163.19 288.78 L164.00 287.46 L164.81 286.15 L165.61 284.86 L166.37 283.60 L167.10 282.40 L167.80 281.23 L168.48 280.07 L169.15 278.92 L169.81 277.78 L170.46 276.64 L171.11 275.51 L171.75 274.39 L172.39 273.27 L173.03 272.15 L173.68 271.03 L174.33 269.92 L175.00 268.80 L175.70 267.64 L176.44 266.42 L177.22 265.16 L178.01 263.88 L178.81 262.60 L179.59 261.35 L180.35 260.14 L181.06 259.01 L181.72 257.96 L182.30 257.03 L182.80 256.24 L183.20 255.60" fill="none" stroke="#6a22c8" stroke-width="1.1" stroke-linejoin="round" />
<path d="M71.0 381.5h0M72.5 378.7h0M74.8 376.5h0M77.6 375.0h0M80.5 373.5h0M83.2 371.9h0M86.0 370.2h0M88.8 368.6h0M91.6 367.2h0M94.6 366.0h0M97.6 364.8h0M100.5 363.6h0M103.4 362.2h0M106.2 360.7h0M108.9 359.0h0M111.6 357.2h0M114.2 355.4h0M116.7 353.4h0M119.2 351.4h0M121.6 349.2h0M123.7 346.8h0M125.8 344.4h0M127.8 341.9h0M129.8 339.4h0M131.7 336.9h0M133.6 334.3h0M135.5 331.7h0M137.3 329.1h0M139.1 326.4h0M140.8 323.7h0M142.5 321.0h0M144.3 318.3h0M146.0 315.6h0M147.7 312.9h0M149.4 310.2h0M151.1 307.5h0M152.8 304.8h0M154.5 302.1h0M156.4 299.5h0M158.1 296.8h0M159.8 294.1h0M161.5 291.4h0M163.2 288.7h0M164.9 286.0h0M166.6 283.2h0M168.2 280.5h0M169.8 277.7h0M171.4 274.9h0M173.0 272.2h0M174.6 269.4h0M176.3 266.7h0M178.0 263.9h0M179.7 261.2h0M181.4 258.5h0M183.1 255.8h0" stroke="#6a22c8" stroke-width="2.2" stroke-linecap="round" fill="none"/>
<path d="M41.70 290.20 L115.50 256.30" fill="none" stroke="#1a1a1a" stroke-width="1.5" stroke-linejoin="round" />
<path d="M41.7 290.2h0M47.3 287.6h0M53.0 285.0h0M58.6 282.4h0M64.2 279.8h0M69.9 277.3h0M75.5 274.7h0M81.1 272.1h0M86.8 269.5h0M92.4 266.9h0M98.0 264.3h0M103.7 261.7h0M109.3 259.1h0M114.9 256.6h0" stroke="#1a1a1a" stroke-width="2.6" stroke-linecap="round" fill="none"/>
<line x1="91.40" y1="273.60" x2="103.77" y2="267.53" stroke="#1a1a1a" stroke-width="1.0" />
<path d="M107.90 265.50L104.56 269.14L102.98 265.91Z" fill="#1a1a1a"/>
<line x1="142.40" y1="298.90" x2="148.45" y2="289.86" stroke="#2fae86" stroke-width="1.0" />
<path d="M150.90 286.20L149.78 290.75L147.12 288.97Z" fill="#2fae86"/>
<line x1="147.70" y1="298.90" x2="152.52" y2="290.42" stroke="#6a22c8" stroke-width="1.0" />
<path d="M154.70 286.60L153.91 291.22L151.13 289.63Z" fill="#6a22c8"/>
<line x1="191.70" y1="306.30" x2="195.89" y2="297.57" stroke="#ee3858" stroke-width="1.0" />
<path d="M197.80 293.60L197.34 298.26L194.45 296.87Z" fill="#ee3858"/>
<line x1="217.00" y1="292.60" x2="213.25" y2="301.26" stroke="#36b84a" stroke-width="1.0" />
<path d="M211.50 305.30L211.78 300.63L214.72 301.90Z" fill="#36b84a"/>
<path d="M152.55 312.26L174.20 328.09L172.02 331.07L182.80 330.90L179.69 320.58L177.51 323.57L155.85 307.74Z" fill="#f0242e"/>
<path d="M172.63 341.52L151.12 326.13L153.28 323.12L142.50 323.40L145.71 333.69L147.86 330.68L169.37 346.08Z" fill="#2a7fe8"/>
<text x="164.20" y="307.40" font-size="10.4" textLength="20.00" lengthAdjust="spacingAndGlyphs" transform="rotate(38 164.20 307.40)" >light</text>
<text x="141.20" y="340.20" font-size="10.4" textLength="19.00" lengthAdjust="spacingAndGlyphs" transform="rotate(36 141.20 340.20)" >dark</text>
<line x1="31.70" y1="226.20" x2="52.20" y2="226.20" stroke="#36b84a" stroke-width="1.3" />
<circle cx="42.0" cy="226.2" r="1.5" fill="#36b84a"/>
<text x="56.00" y="229.90" font-size="10.4" textLength="85.00" lengthAdjust="spacingAndGlyphs" >2.5 V to -0.5 V scan</text>
<line x1="31.70" y1="238.60" x2="52.20" y2="238.60" stroke="#ee3858" stroke-width="1.3" />
<circle cx="42.0" cy="238.6" r="1.5" fill="#ee3858"/>
<text x="56.00" y="242.30" font-size="10.4" textLength="70.60" lengthAdjust="spacingAndGlyphs" >after illumination</text>
<line x1="31.70" y1="250.80" x2="52.20" y2="250.80" stroke="#1a1a1a" stroke-width="1.3" />
<circle cx="42.0" cy="250.8" r="1.5" fill="#1a1a1a"/>
<text x="56.00" y="254.50" font-size="10.4" textLength="85.00" lengthAdjust="spacingAndGlyphs" >-2.5 V to 0.5 V scan</text>
<line x1="146.60" y1="226.20" x2="167.00" y2="226.20" stroke="#2fae86" stroke-width="1.3" />
<circle cx="156.8" cy="226.2" r="1.5" fill="#2fae86"/>
<text x="170.60" y="229.90" font-size="10.4" textLength="77.40" lengthAdjust="spacingAndGlyphs" >before illumination</text>
<line x1="140.00" y1="238.60" x2="160.40" y2="238.60" stroke="#6a22c8" stroke-width="1.3" />
<circle cx="150.2" cy="238.6" r="1.5" fill="#6a22c8"/>
<text x="164.00" y="242.30" font-size="10.4" textLength="82.50" lengthAdjust="spacingAndGlyphs" >after storing in dark</text>
</g>
<g id="pd">
<line x1="287.40" y1="255.20" x2="287.40" y2="386.90" stroke="#505050" stroke-width="1.0" />
<line x1="286.90" y1="386.90" x2="466.00" y2="386.90" stroke="#2a2a2a" stroke-width="1.0" />
<line x1="283.80" y1="386.70" x2="287.40" y2="386.70" stroke="#2a2a2a" stroke-width="0.9" />
<line x1="285.20" y1="375.80" x2="287.40" y2="375.80" stroke="#2a2a2a" stroke-width="0.9" />
<line x1="283.80" y1="364.90" x2="287.40" y2="364.90" stroke="#2a2a2a" stroke-width="0.9" />
<line x1="285.20" y1="354.00" x2="287.40" y2="354.00" stroke="#2a2a2a" stroke-width="0.9" />
<line x1="283.80" y1="343.10" x2="287.40" y2="343.10" stroke="#2a2a2a" stroke-width="0.9" />
<line x1="285.20" y1="332.20" x2="287.40" y2="332.20" stroke="#2a2a2a" stroke-width="0.9" />
<line x1="283.80" y1="321.30" x2="287.40" y2="321.30" stroke="#2a2a2a" stroke-width="0.9" />
<line x1="285.20" y1="310.40" x2="287.40" y2="310.40" stroke="#2a2a2a" stroke-width="0.9" />
<line x1="283.80" y1="299.50" x2="287.40" y2="299.50" stroke="#2a2a2a" stroke-width="0.9" />
<line x1="285.20" y1="288.60" x2="287.40" y2="288.60" stroke="#2a2a2a" stroke-width="0.9" />
<line x1="283.80" y1="277.70" x2="287.40" y2="277.70" stroke="#2a2a2a" stroke-width="0.9" />
<line x1="285.20" y1="266.80" x2="287.40" y2="266.80" stroke="#2a2a2a" stroke-width="0.9" />
<line x1="283.80" y1="255.90" x2="287.40" y2="255.90" stroke="#2a2a2a" stroke-width="0.9" />
<line x1="287.20" y1="386.90" x2="287.20" y2="390.50" stroke="#2a2a2a" stroke-width="0.9" />
<line x1="299.94" y1="386.90" x2="299.94" y2="389.10" stroke="#2a2a2a" stroke-width="0.9" />
<line x1="312.68" y1="386.90" x2="312.68" y2="390.50" stroke="#2a2a2a" stroke-width="0.9" />
<line x1="325.42" y1="386.90" x2="325.42" y2="389.10" stroke="#2a2a2a" stroke-width="0.9" />
<line x1="338.16" y1="386.90" x2="338.16" y2="390.50" stroke="#2a2a2a" stroke-width="0.9" />
<line x1="350.90" y1="386.90" x2="350.90" y2="389.10" stroke="#2a2a2a" stroke-width="0.9" />
<line x1="363.64" y1="386.90" x2="363.64" y2="390.50" stroke="#2a2a2a" stroke-width="0.9" />
<line x1="376.38" y1="386.90" x2="376.38" y2="389.10" stroke="#2a2a2a" stroke-width="0.9" />
<line x1="389.12" y1="386.90" x2="389.12" y2="390.50" stroke="#2a2a2a" stroke-width="0.9" />
<line x1="401.86" y1="386.90" x2="401.86" y2="389.10" stroke="#2a2a2a" stroke-width="0.9" />
<line x1="414.60" y1="386.90" x2="414.60" y2="390.50" stroke="#2a2a2a" stroke-width="0.9" />
<line x1="427.34" y1="386.90" x2="427.34" y2="389.10" stroke="#2a2a2a" stroke-width="0.9" />
<line x1="440.08" y1="386.90" x2="440.08" y2="390.50" stroke="#2a2a2a" stroke-width="0.9" />
<line x1="452.82" y1="386.90" x2="452.82" y2="389.10" stroke="#2a2a2a" stroke-width="0.9" />
<line x1="465.56" y1="386.90" x2="465.56" y2="390.50" stroke="#2a2a2a" stroke-width="0.9" />
<text x="282.40" y="389.90" font-size="10.8" text-anchor="end" textLength="14.80" lengthAdjust="spacingAndGlyphs" >0.0</text>
<text x="282.40" y="368.10" font-size="10.8" text-anchor="end" textLength="14.80" lengthAdjust="spacingAndGlyphs" >0.2</text>
<text x="282.40" y="346.30" font-size="10.8" text-anchor="end" textLength="14.80" lengthAdjust="spacingAndGlyphs" >0.4</text>
<text x="282.40" y="324.50" font-size="10.8" text-anchor="end" textLength="14.80" lengthAdjust="spacingAndGlyphs" >0.6</text>
<text x="282.40" y="302.70" font-size="10.8" text-anchor="end" textLength="14.80" lengthAdjust="spacingAndGlyphs" >0.8</text>
<text x="282.40" y="280.90" font-size="10.8" text-anchor="end" textLength="14.80" lengthAdjust="spacingAndGlyphs" >1.0</text>
<text x="282.40" y="259.10" font-size="10.8" text-anchor="end" textLength="14.80" lengthAdjust="spacingAndGlyphs" >1.2</text>
<text x="287.20" y="401.20" font-size="10.8" text-anchor="middle" textLength="5.60" lengthAdjust="spacingAndGlyphs" >0</text>
<text x="312.68" y="401.20" font-size="10.8" text-anchor="middle" textLength="11.40" lengthAdjust="spacingAndGlyphs" >10</text>
<text x="338.16" y="401.20" font-size="10.8" text-anchor="middle" textLength="11.40" lengthAdjust="spacingAndGlyphs" >20</text>
<text x="363.64" y="401.20" font-size="10.8" text-anchor="middle" textLength="11.40" lengthAdjust="spacingAndGlyphs" >30</text>
<text x="389.12" y="401.20" font-size="10.8" text-anchor="middle" textLength="11.40" lengthAdjust="spacingAndGlyphs" >40</text>
<text x="414.60" y="401.20" font-size="10.8" text-anchor="middle" textLength="11.40" lengthAdjust="spacingAndGlyphs" >50</text>
<text x="440.08" y="401.20" font-size="10.8" text-anchor="middle" textLength="11.40" lengthAdjust="spacingAndGlyphs" >60</text>
<text x="465.56" y="401.20" font-size="10.8" text-anchor="middle" textLength="11.40" lengthAdjust="spacingAndGlyphs" >70</text>
<text x="326.00" y="416.00" font-size="12.4" textLength="112.40" lengthAdjust="spacingAndGlyphs" >Illumination time (s)</text>
<text x="259.60" y="390.20" font-size="12.8" textLength="133.60" lengthAdjust="spacingAndGlyphs" transform="rotate(-90 259.60 390.20)" >Open circuit voltage (V)</text>
<text x="258.60" y="234.20" font-size="16.4" font-weight="bold" font-family='"Liberation Serif", serif' class="w">(d)</text>
<line x1="287.40" y1="275.00" x2="462.00" y2="275.00" stroke="#2f6fe0" stroke-width="1.3" stroke-dasharray="1.6 2"/>
<path d="M290.60 360.00 L290.62 358.77 L290.64 357.15 L290.66 355.22 L290.69 353.06 L290.72 350.75 L290.75 348.38 L290.79 346.04 L290.82 343.81 L290.86 341.77 L290.90 340.00 L290.94 338.45 L290.98 337.00 L291.01 335.64 L291.05 334.36 L291.09 333.16 L291.14 332.02 L291.19 330.94 L291.25 329.92 L291.32 328.94 L291.40 328.00 L291.49 327.12 L291.58 326.31 L291.69 325.58 L291.80 324.90 L291.91 324.27 L292.04 323.68 L292.17 323.12 L292.30 322.57 L292.45 322.04 L292.60 321.50 L292.76 320.98 L292.93 320.48 L293.10 320.02 L293.28 319.58 L293.47 319.16 L293.66 318.75 L293.86 318.35 L294.07 317.97 L294.28 317.58 L294.50 317.20 L294.72 316.82 L294.94 316.46 L295.16 316.11 L295.39 315.77 L295.63 315.43 L295.88 315.10 L296.14 314.78 L296.41 314.45 L296.69 314.13 L297.00 313.80 L297.32 313.48 L297.65 313.16 L298.00 312.85 L298.36 312.54 L298.73 312.24 L299.12 311.93 L299.52 311.61 L299.93 311.29 L300.36 310.95 L300.80 310.60 L301.25 310.23 L301.71 309.85 L302.18 309.47 L302.67 309.07 L303.17 308.66 L303.69 308.25 L304.23 307.84 L304.79 307.43 L305.38 307.01 L306.00 306.60 L306.65 306.18 L307.34 305.76 L308.05 305.33 L308.79 304.90 L309.54 304.46 L310.32 304.03 L311.10 303.61 L311.90 303.19 L312.70 302.79 L313.50 302.40 L314.31 302.02 L315.14 301.65 L315.99 301.29 L316.85 300.93 L317.72 300.59 L318.59 300.25 L319.46 299.92 L320.32 299.60 L321.17 299.30 L322.00 299.00 L322.82 298.72 L323.62 298.45 L324.41 298.20 L325.20 297.96 L325.98 297.73 L326.77 297.50 L327.56 297.27 L328.36 297.05 L329.17 296.83 L330.00 296.60 L330.83 296.38 L331.66 296.16 L332.48 295.95 L333.31 295.75 L334.16 295.54 L335.02 295.34 L335.91 295.12 L336.83 294.89 L337.79 294.66 L338.80 294.40 L339.87 294.13 L340.99 293.84 L342.16 293.54 L343.37 293.22 L344.59 292.91 L345.83 292.58 L347.08 292.26 L348.31 291.93 L349.52 291.61 L350.70 291.30 L351.87 290.99 L353.05 290.67 L354.24 290.34 L355.42 290.02 L356.59 289.69 L357.75 289.38 L358.87 289.06 L359.96 288.76 L361.01 288.47 L362.00 288.20 L362.93 287.95 L363.80 287.71 L364.63 287.49 L365.42 287.27 L366.18 287.07 L366.93 286.87 L367.67 286.66 L368.43 286.45 L369.20 286.23 L370.00 286.00 L370.83 285.75 L371.68 285.50 L372.55 285.24 L373.42 284.97 L374.29 284.70 L375.15 284.43 L376.00 284.16 L376.83 283.90 L377.63 283.65 L378.40 283.40 L379.14 283.16 L379.84 282.93 L380.53 282.70 L381.20 282.48 L381.85 282.26 L382.49 282.05 L383.12 281.83 L383.75 281.62 L384.37 281.41 L385.00 281.20 L385.62 280.99 L386.24 280.78 L386.84 280.57 L387.44 280.37 L388.04 280.16 L388.63 279.96 L389.22 279.76 L389.81 279.57 L390.40 279.38 L391.00 279.20 L391.60 279.02 L392.19 278.85 L392.77 278.68 L393.36 278.52 L393.95 278.36 L394.54 278.20 L395.14 278.05 L395.75 277.89 L396.37 277.75 L397.00 277.60 L397.65 277.46 L398.32 277.31 L399.00 277.17 L399.69 277.03 L400.39 276.89 L401.08 276.76 L401.78 276.64 L402.47 276.52 L403.14 276.40 L403.80 276.30 L404.44 276.20 L405.07 276.12 L405.69 276.04 L406.31 275.96 L406.92 275.89 L407.53 275.83 L408.14 275.77 L408.75 275.71 L409.37 275.66 L410.00 275.60 L410.63 275.55 L411.26 275.50 L411.90 275.45 L412.53 275.41 L413.17 275.37 L413.81 275.33 L414.47 275.30 L415.13 275.26 L415.81 275.23 L416.50 275.20 L417.21 275.17 L417.93 275.14 L418.66 275.12 L419.40 275.10 L420.16 275.07 L420.92 275.06 L421.68 275.04 L422.45 275.02 L423.23 275.01 L424.00 275.00 L424.76 274.99 L425.49 274.99 L426.21 274.99 L426.92 274.99 L427.66 274.99 L428.42 274.99 L429.22 274.99 L430.07 275.00 L431.00 275.00 L432.00 275.00 L433.08 275.00 L434.21 275.00 L435.40 275.00 L436.64 275.00 L437.93 275.00 L439.26 275.00 L440.64 275.00 L442.06 275.00 L443.51 275.00 L445.00 275.00 L446.62 275.00 L448.43 275.00 L450.37 275.00 L452.37 275.00 L454.36 275.00 L456.29 275.00 L458.10 275.00 L459.71 275.00 L461.06 275.00 L462.10 275.00" fill="none" stroke="#141414" stroke-width="2.6" stroke-linejoin="round" stroke-linecap="round"/>
<path d="M287.60 382.00 L290.00 382.00 L290.40 378.00 L290.60 360.00 L290.90 340.00" fill="none" stroke="#141414" stroke-width="2.6" stroke-linejoin="round" stroke-linecap="round"/>
<text x="298.60" y="268.80" font-size="11.6" textLength="37.80" lengthAdjust="spacingAndGlyphs" >light on</text>
<line x1="311.00" y1="276.80" x2="293.48" y2="311.84" stroke="#333" stroke-width="0.8" />
<path d="M291.60 315.60L292.23 311.22L294.73 312.47Z" fill="#333"/>
<path d="M340.5 352.8L352 348L387.5 372L444.6 361.6L444.6 370.6L369.8 384.2L340.5 358.2Z" fill="#b9e6ee"/>
<path d="M340.5 352.8L369.8 378.8L444.6 365.4L444.6 370.6L369.8 384.2L340.5 358.2Z" fill="#c4ecf2"/>
<path d="M340.5 352.8L369.8 378.8L369.8 384.2L340.5 358.2Z" fill="#a9dde8"/>
<path d="M351 348.4L355.4 346L387.5 364L445.2 356L445.2 362.6L387.5 370.8Z" fill="#9a8adc"/>
<path d="M355.6 317L387.5 338L387.5 366.4L355.6 348.6Z" fill="#bf141e"/>
<path d="M355.6 317L367 314.6L400 335L387.5 338Z" fill="#9a0e1a"/>
<path d="M387.5 337.6L444.8 324L444.8 358.8L387.5 366.6Z" fill="#e01e28"/>
<path d="M366.2 310.2L398.5 331.4L445.8 322.2L445.8 325.8L398.5 335.2L366.2 313.8Z" fill="#5fb82e"/>
<path d="M366.2 310.2L398.5 331.4L398.5 335.2L366.2 313.8Z" fill="#8cd23c"/>
<path d="M366.2 307.2L398.5 328.0L445.8 319.0L445.8 322.4L398.5 331.6L366.2 310.4Z" fill="#f08a1c"/>
<path d="M366.2 307.2L398.5 328.0L398.5 331.6L366.2 310.4Z" fill="#f9b21e"/>
<path d="M366.2 307.2L415.2 299.4L445.8 319.0L398.5 328.0Z" fill="#f0962a"/>
<path d="M349.5 302.4L349.5 294.8L401 294.8L401 310.2" fill="none" stroke="#5aa8e0" stroke-width="0.9"/>
<line x1="349.50" y1="320.60" x2="349.50" y2="355.00" stroke="#5aa8e0" stroke-width="0.9" />
<line x1="345.80" y1="306.20" x2="353.40" y2="306.20" stroke="#222" stroke-width="1.3" />
<line x1="345.20" y1="314.60" x2="354.00" y2="314.60" stroke="#222" stroke-width="1.3" />
<line x1="349.60" y1="310.40" x2="349.60" y2="318.80" stroke="#222" stroke-width="1.3" />
<text x="402.20" y="317.40" font-size="9.4" textLength="11.00" lengthAdjust="spacingAndGlyphs" transform="rotate(-4 402.20 317.40)" >Au</text>
<text x="410.60" y="332.80" font-size="8.6" textLength="21.50" lengthAdjust="spacingAndGlyphs" transform="rotate(-11 410.60 332.80)" >PCBM</text>
<text x="402.60" y="352.80" font-size="10.0" textLength="28.00" lengthAdjust="spacingAndGlyphs" transform="rotate(-11 402.60 352.80)" fill="#ffeaea" class="w">MAPbI</text>
<text x="430.60" y="349.40" font-size="6.6" transform="rotate(-11 430.60 349.40)" fill="#ffeaea" class="w">3</text>
<text x="395.00" y="368.60" font-size="9.4" textLength="47.00" lengthAdjust="spacingAndGlyphs" transform="rotate(-10.5 395.00 368.60)" >PEDOT:PSS</text>
<text x="376.00" y="380.20" font-size="9.2" textLength="13.40" lengthAdjust="spacingAndGlyphs" transform="rotate(-10 376.00 380.20)" >ITO</text>
</g>
</g>
<g filter="url(#soft2)">
<g id="pe">
<text x="0.40" y="452.60" font-size="16.4" font-weight="bold" font-family='"Liberation Serif", serif' class="w">(e)</text>
<path d="M48.2 447.0L53.7 463.5L49.1 462.2L55.9 478.1L51.4 476.5L62.2 500.9L61.8 480.3L65.0 481.5L62.8 466.9L66.3 468.2L66.4 455.0Z" fill="#fbc314"/>
<path d="M76.1 448.0L81.6 464.5L77.0 463.2L83.8 479.1L79.3 477.5L90.1 501.9L89.7 481.3L92.9 482.5L90.7 467.9L94.2 469.2L94.3 456.0Z" fill="#fbc314"/>
<path d="M104.0 448.0L109.5 464.5L104.9 463.2L111.7 479.1L107.2 477.5L118.0 501.9L117.6 481.3L120.8 482.5L118.6 467.9L122.1 469.2L122.2 456.0Z" fill="#fbc314"/>
<path d="M131.9 448.0L137.4 464.5L132.8 463.2L139.6 479.1L135.1 477.5L145.9 501.9L145.5 481.3L148.7 482.5L146.5 467.9L150.0 469.2L150.1 456.0Z" fill="#fbc314"/>
<rect x="1.3" y="506.3" width="22.5" height="78.3" fill="#7dbdf0"/>
<rect x="23.7" y="506.3" width="22.1" height="78.3" fill="#8a72e8"/>
<rect x="45.7" y="506.3" width="116.4" height="78.3" fill="#e8929a"/>
<rect x="161.9" y="506.3" width="19.8" height="78.3" fill="#f5821f"/>
<text x="17.20" y="554.80" font-size="12.4" textLength="18.00" lengthAdjust="spacingAndGlyphs" transform="rotate(-90 17.20 554.80)" >ITO</text>
<text x="40.00" y="576.80" font-size="12.4" textLength="60.20" lengthAdjust="spacingAndGlyphs" transform="rotate(-90 40.00 576.80)" >PEDOT:PSS</text>
<text x="176.40" y="553.40" font-size="12.4" textLength="15.20" lengthAdjust="spacingAndGlyphs" transform="rotate(-90 176.40 553.40)" >Au</text>
<circle cx="66.5" cy="532.2" r="6.2" fill="#fff" stroke="#111" stroke-width="1.7"/>
<line x1="64.20" y1="532.20" x2="68.80" y2="532.20" stroke="#111" stroke-width="1.9" />
<circle cx="66.5" cy="556.3" r="6.2" fill="#fff" stroke="#111" stroke-width="1.7"/>
<line x1="63.30" y1="556.30" x2="69.70" y2="556.30" stroke="#111" stroke-width="1.9" />
<line x1="66.50" y1="553.10" x2="66.50" y2="559.50" stroke="#111" stroke-width="1.9" />
<line x1="81.20" y1="556.30" x2="105.80" y2="556.30" stroke="#111" stroke-width="1.4" />
<path d="M111.40 556.30L105.80 558.60L105.80 554.00Z" fill="#111"/>
<text x="82.40" y="573.00" font-size="13.0" textLength="23.00" lengthAdjust="spacingAndGlyphs" >drift</text>
<line x1="38.00" y1="589.50" x2="166.00" y2="589.50" stroke="#111" stroke-width="1.9" stroke-dasharray="3.7 1.5"/>
<path d="M171.6 589.5L165.2 586.6L165.2 592.4Z" fill="#111"/>
<text x="5.20" y="607.80" font-size="12.6" textLength="196.60" lengthAdjust="spacingAndGlyphs" >Photovoltage induced electric field</text>
<path d="M46.4 627.8L46.4 672" fill="none" stroke="#111" stroke-width="2.2" stroke-dasharray="5.4 2"/>
<path d="M46.4 629.2C50 632.6 58 636.3 68.5 636.3L152 636.3C158.5 636.3 161.9 638.5 161.9 643L161.9 685.4" fill="none" stroke="#111" stroke-width="2.2" stroke-dasharray="5.4 2"/>
<path d="M46.4 672C46.4 678 53 681.2 66 681.2L150 681.2C156 681.2 160.5 682.4 161.9 684.8" fill="none" stroke="#111" stroke-width="2.2" stroke-dasharray="5.4 2"/>
<line x1="40.10" y1="660.00" x2="170.80" y2="660.00" stroke="#111" stroke-width="1.5" stroke-dasharray="3 1"/>
<text x="176.00" y="640.80" font-size="12.8" textLength="6.40" lengthAdjust="spacingAndGlyphs" >E</text>
<text x="182.50" y="644.40" font-size="9.4" >C</text>
<text x="176.00" y="665.60" font-size="12.8" textLength="6.40" lengthAdjust="spacingAndGlyphs" >E</text>
<text x="182.50" y="669.20" font-size="9.4" >F</text>
<text x="175.40" y="690.40" font-size="12.8" textLength="6.40" lengthAdjust="spacingAndGlyphs" >E</text>
<text x="181.90" y="694.00" font-size="9.4" >V</text>
<path d="M217.1 579.4L235.2 579.4L235.2 563.8L253.3 595.2L235.2 627.5L235.2 611.7L217.1 611.7Z" fill="#b6c384"/>
<circle cx="15.7" cy="714.6" r="6.4" fill="#fff" stroke="#111" stroke-width="1.7"/>
<line x1="12.50" y1="714.60" x2="18.90" y2="714.60" stroke="#111" stroke-width="1.9" />
<line x1="15.70" y1="711.40" x2="15.70" y2="717.80" stroke="#111" stroke-width="1.9" />
<circle cx="15.7" cy="737.9" r="6.4" fill="#fff" stroke="#111" stroke-width="1.7"/>
<line x1="13.40" y1="737.90" x2="18.00" y2="737.90" stroke="#111" stroke-width="1.9" />
<text x="32.20" y="717.90" font-size="12.6" textLength="188.60" lengthAdjust="spacingAndGlyphs" >Positively charged ions/vacancies</text>
<text x="32.20" y="741.70" font-size="12.6" textLength="131.60" lengthAdjust="spacingAndGlyphs" >Negative space charges</text>
</g>
<g id="pf">
<text x="266.40" y="452.60" font-size="16.4" font-weight="bold" font-family='"Liberation Serif", serif' class="w">(f)</text>
<path d="M316.9 443.5L322.4 460.0L317.8 458.7L324.6 474.6L320.1 473.0L330.9 497.4L330.5 476.8L333.7 478.0L331.5 463.4L335.0 464.7L335.1 451.5Z" fill="#fbc314"/>
<path d="M344.7 443.5L350.2 460.0L345.6 458.7L352.4 474.6L347.9 473.0L358.7 497.4L358.3 476.8L361.5 478.0L359.3 463.4L362.8 464.7L362.9 451.5Z" fill="#fbc314"/>
<path d="M372.5 443.5L378.0 460.0L373.4 458.7L380.2 474.6L375.7 473.0L386.5 497.4L386.1 476.8L389.3 478.0L387.1 463.4L390.6 464.7L390.7 451.5Z" fill="#fbc314"/>
<path d="M400.3 443.5L405.8 460.0L401.2 458.7L408.0 474.6L403.5 473.0L414.3 497.4L413.9 476.8L417.1 478.0L414.9 463.4L418.4 464.7L418.5 451.5Z" fill="#fbc314"/>
<rect x="267.1" y="506.5" width="22.3" height="78.3" fill="#7dbdf0"/>
<rect x="289.2" y="506.5" width="22.5" height="78.3" fill="#8a72e8"/>
<rect x="311.5" y="506.5" width="116.6" height="78.3" fill="url(#gf)"/>
<rect x="427.9" y="506.5" width="19.8" height="78.3" fill="#f5821f"/>
<text x="282.80" y="555.40" font-size="12.4" textLength="18.00" lengthAdjust="spacingAndGlyphs" transform="rotate(-90 282.80 555.40)" >ITO</text>
<text x="305.90" y="577.60" font-size="12.4" textLength="62.00" lengthAdjust="spacingAndGlyphs" transform="rotate(-90 305.90 577.60)" >PEDOT:PSS</text>
<text x="441.20" y="553.40" font-size="12.4" textLength="15.20" lengthAdjust="spacingAndGlyphs" transform="rotate(-90 441.20 553.40)" >Au</text>
<circle cx="324.0" cy="516.6" r="6.0" fill="#fff" stroke="#111" stroke-width="1.7"/>
<line x1="321.70" y1="516.60" x2="326.30" y2="516.60" stroke="#111" stroke-width="1.9" />
<circle cx="324.0" cy="537.0" r="6.0" fill="#fff" stroke="#111" stroke-width="1.7"/>
<line x1="321.70" y1="537.00" x2="326.30" y2="537.00" stroke="#111" stroke-width="1.9" />
<circle cx="324.0" cy="554.7" r="6.0" fill="#fff" stroke="#111" stroke-width="1.7"/>
<line x1="321.70" y1="554.70" x2="326.30" y2="554.70" stroke="#111" stroke-width="1.9" />
<circle cx="324.0" cy="573.0" r="6.0" fill="#fff" stroke="#111" stroke-width="1.7"/>
<line x1="321.70" y1="573.00" x2="326.30" y2="573.00" stroke="#111" stroke-width="1.9" />
<circle cx="417.0" cy="517.9" r="6.0" fill="#fff" stroke="#111" stroke-width="1.7"/>
<line x1="413.80" y1="517.90" x2="420.20" y2="517.90" stroke="#111" stroke-width="1.9" />
<line x1="417.00" y1="514.70" x2="417.00" y2="521.10" stroke="#111" stroke-width="1.9" />
<circle cx="417.0" cy="537.7" r="6.0" fill="#fff" stroke="#111" stroke-width="1.7"/>
<line x1="413.80" y1="537.70" x2="420.20" y2="537.70" stroke="#111" stroke-width="1.9" />
<line x1="417.00" y1="534.50" x2="417.00" y2="540.90" stroke="#111" stroke-width="1.9" />
<circle cx="417.0" cy="556.5" r="6.0" fill="#fff" stroke="#111" stroke-width="1.7"/>
<line x1="413.80" y1="556.50" x2="420.20" y2="556.50" stroke="#111" stroke-width="1.9" />
<line x1="417.00" y1="553.30" x2="417.00" y2="559.70" stroke="#111" stroke-width="1.9" />
<circle cx="417.0" cy="575.0" r="6.0" fill="#fff" stroke="#111" stroke-width="1.7"/>
<line x1="413.80" y1="575.00" x2="420.20" y2="575.00" stroke="#111" stroke-width="1.9" />
<line x1="417.00" y1="571.80" x2="417.00" y2="578.20" stroke="#111" stroke-width="1.9" />
<line x1="406.30" y1="517.40" x2="376.20" y2="517.40" stroke="#111" stroke-width="1.4" />
<path d="M370.60 517.40L376.20 515.10L376.20 519.70Z" fill="#111"/>
<line x1="425.30" y1="517.40" x2="456.60" y2="517.40" stroke="#111" stroke-width="1.4" />
<path d="M462.20 517.40L456.60 519.70L456.60 515.10Z" fill="#111"/>
<text x="360.40" y="510.80" font-size="13.0" textLength="48.60" lengthAdjust="spacingAndGlyphs" >diffusion</text>
<text x="432.20" y="510.80" font-size="13.0" textLength="23.20" lengthAdjust="spacingAndGlyphs" >drift</text>
<line x1="308.20" y1="590.30" x2="435.60" y2="590.30" stroke="#111" stroke-width="1.9" stroke-dasharray="3.7 1.5"/>
<path d="M441.2 590.3L434.8 587.4L434.8 593.2Z" fill="#111"/>
<text x="266.40" y="607.80" font-size="12.6" textLength="196.60" lengthAdjust="spacingAndGlyphs" >Photovoltage induced electric field</text>
<path d="M312.8 616L312.8 663" fill="none" stroke="#111" stroke-width="2.2" stroke-dasharray="5.4 2"/>
<path d="M311.0 614.6C311.6 628 318 638.9 338.2 639.2L400 639.2C416 639.2 427.4 645 427.4 662L427.4 700" fill="none" stroke="#111" stroke-width="2.2" stroke-dasharray="5.4 2"/>
<path d="M312.8 663C313 677 320 684.2 336 684.2L398 684.2C414 684.2 424 689 427.2 701" fill="none" stroke="#111" stroke-width="2.2" stroke-dasharray="5.4 2"/>
<path d="M427.4 704.4L425.0 699L429.6 699Z" fill="#111"/>
<line x1="305.70" y1="662.80" x2="436.80" y2="662.80" stroke="#111" stroke-width="1.5" stroke-dasharray="3 1"/>
<text x="440.40" y="643.30" font-size="12.8" textLength="6.40" lengthAdjust="spacingAndGlyphs" >E</text>
<text x="446.90" y="646.90" font-size="9.4" >C</text>
<text x="440.40" y="667.40" font-size="12.8" textLength="6.40" lengthAdjust="spacingAndGlyphs" >E</text>
<text x="446.90" y="671.00" font-size="9.4" >F</text>
<text x="440.00" y="708.40" font-size="12.8" textLength="6.40" lengthAdjust="spacingAndGlyphs" >E</text>
<text x="446.50" y="712.00" font-size="9.4" >V</text>
<text x="315.00" y="716.90" font-size="12.6" textLength="35.00" lengthAdjust="spacingAndGlyphs" >P type</text>
<text x="392.40" y="718.80" font-size="12.6" textLength="36.20" lengthAdjust="spacingAndGlyphs" >N type</text>
</g>
</g>
</g>
</svg>
</body>
</html>
